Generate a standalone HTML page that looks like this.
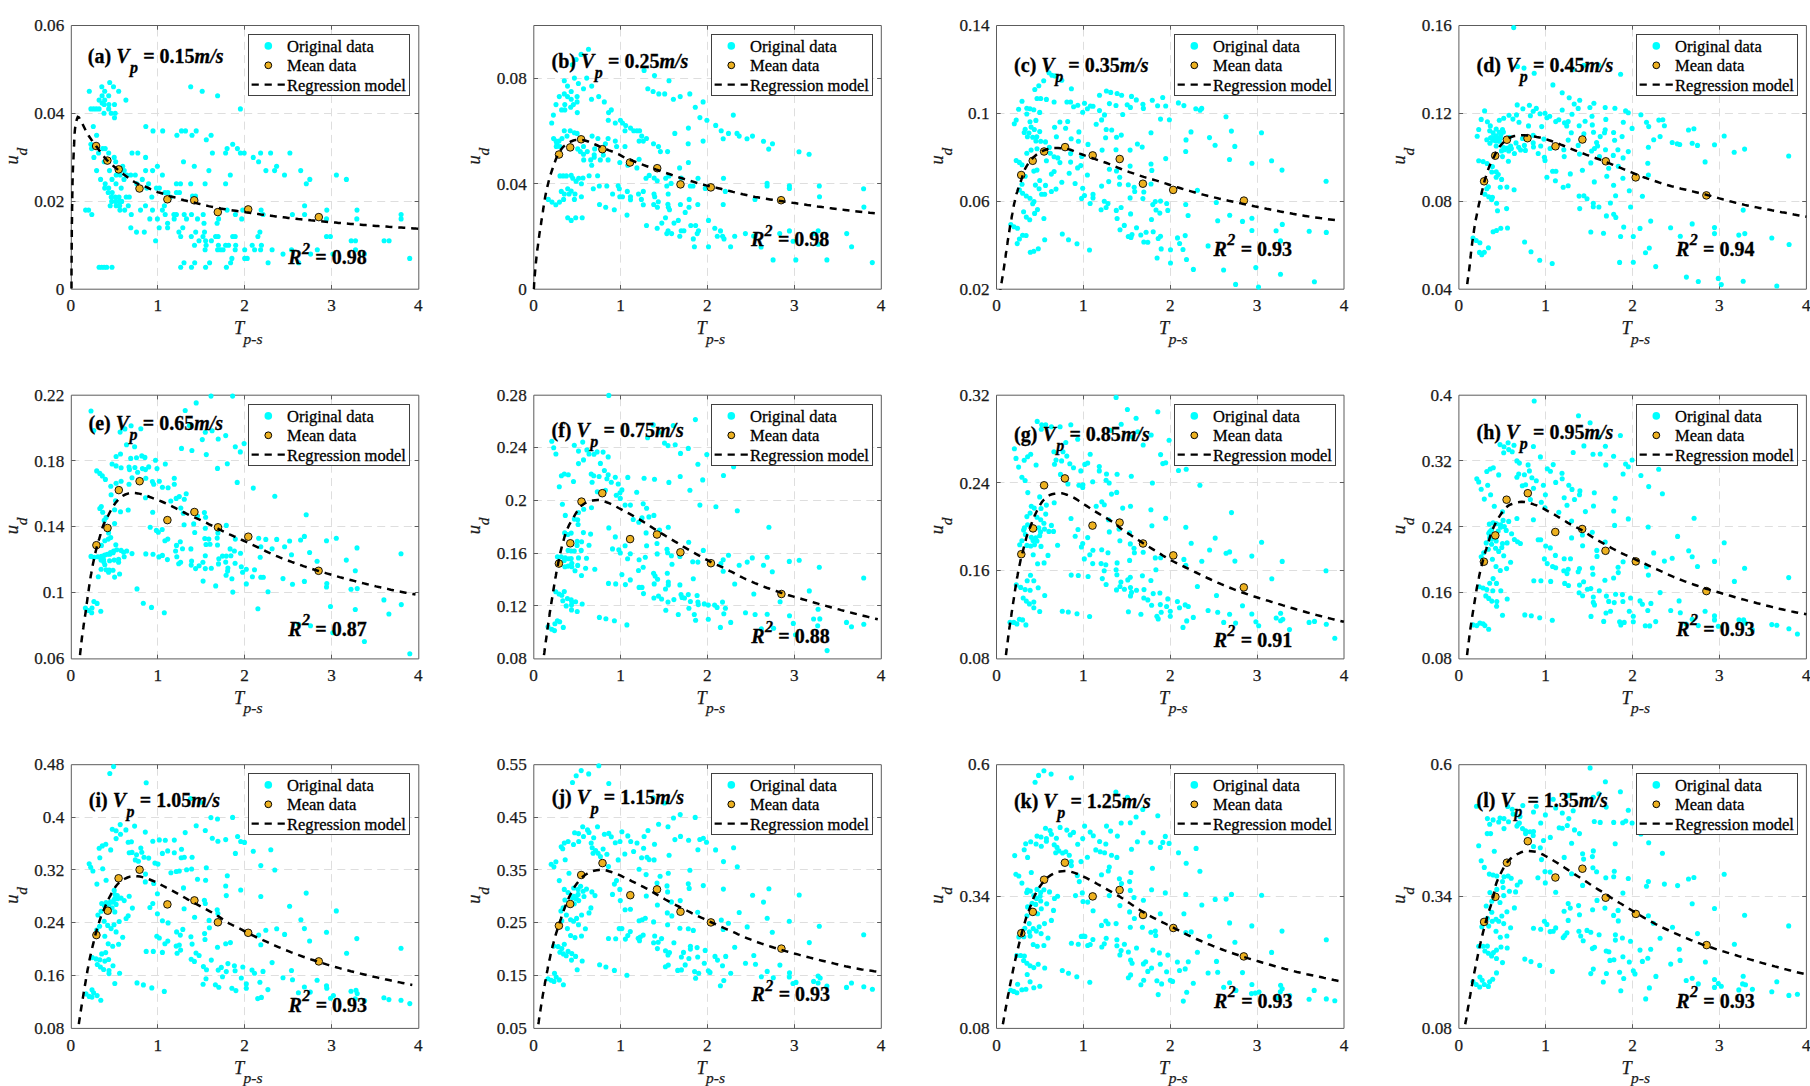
<!DOCTYPE html>
<html lang="en"><head><meta charset="utf-8"><title>Regression of u_d versus T_p-s</title>
<style>html,body{margin:0;padding:0;background:#fff}body{width:1810px;height:1086px;overflow:hidden}svg{display:block}text{font-family:"Liberation Serif","Times New Roman",serif;fill:#000;stroke:#000;stroke-width:.3px}.tk{font-size:17.2px;fill:#1a1a1a;stroke:#1a1a1a;stroke-width:.25px}.lb{font-size:18.3px;font-style:italic;fill:#1a1a1a;stroke:#1a1a1a;stroke-width:.25px}.sb{font-size:15.5px}.lg{font-size:16.55px}.tt{font-size:20px;font-weight:bold}.it{font-style:italic}.sm{font-size:16px}.ax{stroke:#5c5c5c;stroke-width:1;fill:none}.gr{stroke:#dedede;stroke-width:1;stroke-dasharray:8 5.3;fill:none}.od{fill:#0ff}.md{fill:#edb120;stroke:#000;stroke-width:.9}.rg{stroke:#000;stroke-width:2.5;fill:none;stroke-dasharray:7 5.9}</style></head><body>
<svg width="1810" height="1086" viewBox="0 0 1810 1086">
<rect width="1810" height="1086" fill="#fff"/>
<g id="panel-a">
<clipPath id="cpa"><rect x="68.3" y="22.5" width="353.5" height="269.7"/></clipPath>
<clipPath id="cqa"><rect x="69.8" y="24.0" width="350.5" height="265.8"/></clipPath>
<path class="gr" d="M157.5 289.2V25.5M244.5 289.2V25.5M331.5 289.2V25.5M71.3 201.5H418.8M71.3 113.5H418.8"/>
<path class="ax" d="M71.3 25.5H418.8V289.2H71.3ZM157.5 289.2v-4.2M157.5 25.5v4.2M244.5 289.2v-4.2M244.5 25.5v4.2M331.5 289.2v-4.2M331.5 25.5v4.2M71.3 201.5h4.2M418.8 201.5h-4.2M71.3 113.5h4.2M418.8 113.5h-4.2"/>
<g class="od" clip-path="url(#cpa)">
<circle cx="109.7" cy="82.5" r="2.55"/><circle cx="101.8" cy="86.8" r="2.55"/><circle cx="113.5" cy="86.8" r="2.55"/><circle cx="190.7" cy="86.8" r="2.55"/><circle cx="89.3" cy="91.3" r="2.55"/><circle cx="104.7" cy="91.3" r="2.55"/><circle cx="118.7" cy="91.3" r="2.55"/><circle cx="202.2" cy="91.3" r="2.55"/><circle cx="102.1" cy="95.7" r="2.55"/><circle cx="108.7" cy="95.7" r="2.55"/><circle cx="217.6" cy="95.7" r="2.55"/><circle cx="99.1" cy="100.1" r="2.55"/><circle cx="104.7" cy="100.1" r="2.55"/><circle cx="125.9" cy="100.1" r="2.55"/><circle cx="102.1" cy="103.1" r="2.55"/><circle cx="104.2" cy="104.5" r="2.55"/><circle cx="108.9" cy="104.5" r="2.55"/><circle cx="114.5" cy="104.5" r="2.55"/><circle cx="90.9" cy="108.9" r="2.55"/><circle cx="93.6" cy="108.9" r="2.55"/><circle cx="96.3" cy="108.9" r="2.55"/><circle cx="99.1" cy="108.9" r="2.55"/><circle cx="108.7" cy="108.9" r="2.55"/><circle cx="240.4" cy="108.9" r="2.55"/><circle cx="104.0" cy="113.3" r="2.55"/><circle cx="111.2" cy="113.3" r="2.55"/><circle cx="115.2" cy="113.3" r="2.55"/><circle cx="114.5" cy="117.8" r="2.55"/><circle cx="93.3" cy="126.5" r="2.55"/><circle cx="145.8" cy="126.5" r="2.55"/><circle cx="153.0" cy="130.9" r="2.55"/><circle cx="162.7" cy="130.9" r="2.55"/><circle cx="181.5" cy="130.9" r="2.55"/><circle cx="185.5" cy="130.9" r="2.55"/><circle cx="196.2" cy="130.9" r="2.55"/><circle cx="96.6" cy="135.3" r="2.55"/><circle cx="176.9" cy="135.3" r="2.55"/><circle cx="192.0" cy="135.3" r="2.55"/><circle cx="211.1" cy="135.3" r="2.55"/><circle cx="206.3" cy="139.7" r="2.55"/><circle cx="90.9" cy="144.2" r="2.55"/><circle cx="232.7" cy="144.2" r="2.55"/><circle cx="91.6" cy="148.6" r="2.55"/><circle cx="102.7" cy="148.6" r="2.55"/><circle cx="105.2" cy="148.6" r="2.55"/><circle cx="227.1" cy="148.6" r="2.55"/><circle cx="237.4" cy="148.6" r="2.55"/><circle cx="98.6" cy="153.0" r="2.55"/><circle cx="108.7" cy="153.0" r="2.55"/><circle cx="132.0" cy="153.0" r="2.55"/><circle cx="137.8" cy="153.0" r="2.55"/><circle cx="212.4" cy="153.0" r="2.55"/><circle cx="225.6" cy="153.0" r="2.55"/><circle cx="240.4" cy="153.0" r="2.55"/><circle cx="244.2" cy="153.0" r="2.55"/><circle cx="93.9" cy="157.4" r="2.55"/><circle cx="114.2" cy="157.4" r="2.55"/><circle cx="145.6" cy="157.4" r="2.55"/><circle cx="104.2" cy="161.8" r="2.55"/><circle cx="115.7" cy="161.8" r="2.55"/><circle cx="183.5" cy="161.8" r="2.55"/><circle cx="122.7" cy="166.2" r="2.55"/><circle cx="157.4" cy="166.2" r="2.55"/><circle cx="194.3" cy="166.2" r="2.55"/><circle cx="96.6" cy="170.6" r="2.55"/><circle cx="109.5" cy="170.6" r="2.55"/><circle cx="124.2" cy="170.6" r="2.55"/><circle cx="145.6" cy="170.6" r="2.55"/><circle cx="152.6" cy="170.6" r="2.55"/><circle cx="208.9" cy="170.6" r="2.55"/><circle cx="116.2" cy="175.0" r="2.55"/><circle cx="120.2" cy="175.0" r="2.55"/><circle cx="126.7" cy="175.0" r="2.55"/><circle cx="130.8" cy="175.0" r="2.55"/><circle cx="135.3" cy="175.0" r="2.55"/><circle cx="162.4" cy="175.0" r="2.55"/><circle cx="230.3" cy="175.0" r="2.55"/><circle cx="100.6" cy="179.4" r="2.55"/><circle cx="112.0" cy="179.4" r="2.55"/><circle cx="124.0" cy="179.4" r="2.55"/><circle cx="142.3" cy="179.4" r="2.55"/><circle cx="105.2" cy="183.8" r="2.55"/><circle cx="116.0" cy="183.8" r="2.55"/><circle cx="136.8" cy="183.8" r="2.55"/><circle cx="148.6" cy="183.8" r="2.55"/><circle cx="176.4" cy="183.8" r="2.55"/><circle cx="180.5" cy="183.8" r="2.55"/><circle cx="190.7" cy="183.8" r="2.55"/><circle cx="205.1" cy="183.8" r="2.55"/><circle cx="225.6" cy="183.8" r="2.55"/><circle cx="104.7" cy="188.1" r="2.55"/><circle cx="108.7" cy="188.1" r="2.55"/><circle cx="121.2" cy="188.1" r="2.55"/><circle cx="146.8" cy="188.1" r="2.55"/><circle cx="156.4" cy="188.1" r="2.55"/><circle cx="159.4" cy="188.1" r="2.55"/><circle cx="108.2" cy="192.5" r="2.55"/><circle cx="112.2" cy="192.5" r="2.55"/><circle cx="164.9" cy="192.5" r="2.55"/><circle cx="167.9" cy="192.5" r="2.55"/><circle cx="176.4" cy="192.5" r="2.55"/><circle cx="179.5" cy="192.5" r="2.55"/><circle cx="111.2" cy="197.0" r="2.55"/><circle cx="115.2" cy="197.0" r="2.55"/><circle cx="119.0" cy="197.0" r="2.55"/><circle cx="126.2" cy="197.0" r="2.55"/><circle cx="129.3" cy="197.0" r="2.55"/><circle cx="151.8" cy="197.0" r="2.55"/><circle cx="170.4" cy="197.0" r="2.55"/><circle cx="192.5" cy="196.1" r="2.55"/><circle cx="195.5" cy="196.1" r="2.55"/><circle cx="111.7" cy="201.4" r="2.55"/><circle cx="115.7" cy="201.4" r="2.55"/><circle cx="119.0" cy="201.4" r="2.55"/><circle cx="121.7" cy="201.4" r="2.55"/><circle cx="110.2" cy="205.7" r="2.55"/><circle cx="116.2" cy="205.7" r="2.55"/><circle cx="119.7" cy="205.7" r="2.55"/><circle cx="128.3" cy="205.7" r="2.55"/><circle cx="145.5" cy="205.7" r="2.55"/><circle cx="164.4" cy="205.7" r="2.55"/><circle cx="85.6" cy="210.1" r="2.55"/><circle cx="88.6" cy="210.1" r="2.55"/><circle cx="119.9" cy="210.1" r="2.55"/><circle cx="124.7" cy="210.1" r="2.55"/><circle cx="140.5" cy="210.1" r="2.55"/><circle cx="152.5" cy="210.1" r="2.55"/><circle cx="162.4" cy="210.1" r="2.55"/><circle cx="227.1" cy="210.1" r="2.55"/><circle cx="242.7" cy="210.1" r="2.55"/><circle cx="91.8" cy="214.5" r="2.55"/><circle cx="131.3" cy="214.5" r="2.55"/><circle cx="165.2" cy="214.5" r="2.55"/><circle cx="173.9" cy="214.5" r="2.55"/><circle cx="176.4" cy="214.5" r="2.55"/><circle cx="184.2" cy="214.5" r="2.55"/><circle cx="191.5" cy="214.5" r="2.55"/><circle cx="203.2" cy="214.5" r="2.55"/><circle cx="235.4" cy="214.5" r="2.55"/><circle cx="149.8" cy="218.9" r="2.55"/><circle cx="157.4" cy="218.9" r="2.55"/><circle cx="174.2" cy="218.9" r="2.55"/><circle cx="186.5" cy="218.9" r="2.55"/><circle cx="197.5" cy="218.9" r="2.55"/><circle cx="218.6" cy="218.9" r="2.55"/><circle cx="241.7" cy="218.9" r="2.55"/><circle cx="167.6" cy="223.3" r="2.55"/><circle cx="204.0" cy="223.3" r="2.55"/><circle cx="217.1" cy="223.3" r="2.55"/><circle cx="130.8" cy="227.7" r="2.55"/><circle cx="159.2" cy="227.7" r="2.55"/><circle cx="167.6" cy="227.7" r="2.55"/><circle cx="182.8" cy="227.7" r="2.55"/><circle cx="136.5" cy="232.1" r="2.55"/><circle cx="144.3" cy="232.1" r="2.55"/><circle cx="178.9" cy="232.1" r="2.55"/><circle cx="195.7" cy="232.1" r="2.55"/><circle cx="204.5" cy="232.1" r="2.55"/><circle cx="180.7" cy="236.5" r="2.55"/><circle cx="191.3" cy="236.5" r="2.55"/><circle cx="203.0" cy="236.5" r="2.55"/><circle cx="215.6" cy="236.5" r="2.55"/><circle cx="218.1" cy="236.5" r="2.55"/><circle cx="232.7" cy="236.5" r="2.55"/><circle cx="235.2" cy="236.5" r="2.55"/><circle cx="155.6" cy="240.8" r="2.55"/><circle cx="199.0" cy="240.8" r="2.55"/><circle cx="205.6" cy="240.8" r="2.55"/><circle cx="211.4" cy="240.8" r="2.55"/><circle cx="194.5" cy="245.3" r="2.55"/><circle cx="206.1" cy="245.3" r="2.55"/><circle cx="218.4" cy="245.3" r="2.55"/><circle cx="225.6" cy="245.3" r="2.55"/><circle cx="228.6" cy="245.3" r="2.55"/><circle cx="235.7" cy="245.3" r="2.55"/><circle cx="205.1" cy="249.7" r="2.55"/><circle cx="217.6" cy="249.7" r="2.55"/><circle cx="220.6" cy="249.7" r="2.55"/><circle cx="223.1" cy="249.7" r="2.55"/><circle cx="235.2" cy="249.7" r="2.55"/><circle cx="244.7" cy="249.7" r="2.55"/><circle cx="231.9" cy="258.4" r="2.55"/><circle cx="244.7" cy="258.4" r="2.55"/><circle cx="184.0" cy="262.8" r="2.55"/><circle cx="194.7" cy="262.8" r="2.55"/><circle cx="209.6" cy="262.8" r="2.55"/><circle cx="230.6" cy="262.8" r="2.55"/><circle cx="99.1" cy="267.2" r="2.55"/><circle cx="101.6" cy="267.2" r="2.55"/><circle cx="104.2" cy="267.2" r="2.55"/><circle cx="106.7" cy="267.2" r="2.55"/><circle cx="112.0" cy="267.2" r="2.55"/><circle cx="180.7" cy="267.2" r="2.55"/><circle cx="191.5" cy="267.2" r="2.55"/><circle cx="205.6" cy="267.2" r="2.55"/><circle cx="226.4" cy="267.2" r="2.55"/><circle cx="260.6" cy="153.0" r="2.55"/><circle cx="270.6" cy="153.0" r="2.55"/><circle cx="289.9" cy="153.0" r="2.55"/><circle cx="253.3" cy="157.4" r="2.55"/><circle cx="258.6" cy="161.8" r="2.55"/><circle cx="276.6" cy="166.2" r="2.55"/><circle cx="265.9" cy="170.6" r="2.55"/><circle cx="274.6" cy="170.6" r="2.55"/><circle cx="300.7" cy="170.6" r="2.55"/><circle cx="284.5" cy="175.0" r="2.55"/><circle cx="336.4" cy="175.0" r="2.55"/><circle cx="309.8" cy="179.4" r="2.55"/><circle cx="346.4" cy="179.4" r="2.55"/><circle cx="306.3" cy="183.8" r="2.55"/><circle cx="304.6" cy="205.7" r="2.55"/><circle cx="261.1" cy="210.1" r="2.55"/><circle cx="326.8" cy="210.1" r="2.55"/><circle cx="357.0" cy="210.1" r="2.55"/><circle cx="263.1" cy="214.5" r="2.55"/><circle cx="292.4" cy="214.5" r="2.55"/><circle cx="304.6" cy="214.5" r="2.55"/><circle cx="401.1" cy="214.5" r="2.55"/><circle cx="326.5" cy="218.9" r="2.55"/><circle cx="356.8" cy="218.9" r="2.55"/><circle cx="401.1" cy="218.9" r="2.55"/><circle cx="259.9" cy="232.1" r="2.55"/><circle cx="257.9" cy="236.5" r="2.55"/><circle cx="326.5" cy="236.5" r="2.55"/><circle cx="330.4" cy="236.5" r="2.55"/><circle cx="351.2" cy="240.8" r="2.55"/><circle cx="355.5" cy="240.8" r="2.55"/><circle cx="384.1" cy="240.8" r="2.55"/><circle cx="389.1" cy="240.8" r="2.55"/><circle cx="252.2" cy="245.3" r="2.55"/><circle cx="261.4" cy="245.3" r="2.55"/><circle cx="254.6" cy="249.7" r="2.55"/><circle cx="260.6" cy="249.7" r="2.55"/><circle cx="272.1" cy="249.7" r="2.55"/><circle cx="291.5" cy="249.7" r="2.55"/><circle cx="317.3" cy="249.7" r="2.55"/><circle cx="355.5" cy="249.7" r="2.55"/><circle cx="283.0" cy="254.1" r="2.55"/><circle cx="310.6" cy="254.1" r="2.55"/><circle cx="332.9" cy="254.1" r="2.55"/><circle cx="364.5" cy="254.1" r="2.55"/><circle cx="247.2" cy="258.4" r="2.55"/><circle cx="409.7" cy="258.4" r="2.55"/><circle cx="268.1" cy="262.8" r="2.55"/><circle cx="298.7" cy="262.8" r="2.55"/>
</g>
<g class="md"><circle cx="96.1" cy="146.0" r="3.8"/><circle cx="107.4" cy="160.6" r="3.8"/><circle cx="118.7" cy="169.4" r="3.8"/><circle cx="139.5" cy="188.5" r="3.8"/><circle cx="167.4" cy="199.3" r="3.8"/><circle cx="194.2" cy="200.3" r="3.8"/><circle cx="217.8" cy="212.1" r="3.8"/><circle cx="248.2" cy="209.4" r="3.8"/><circle cx="318.8" cy="217.1" r="3.8"/></g>
<path class="rg" clip-path="url(#cqa)" d="M71.5 288.5 71.5 286.0 71.5 283.5 71.5 280.9 71.5 278.4 71.5 275.9 71.5 273.4 71.5 270.9 71.5 268.3 71.6 265.8 71.6 263.3 71.6 260.8 71.6 258.3 71.6 255.7 71.6 253.2 71.7 250.7 71.7 248.2 71.7 245.7 71.7 243.1 71.7 240.6 71.8 238.1 71.8 235.6 71.8 233.1 71.8 230.5 71.9 228.0 71.9 225.5 71.9 223.0 72.0 220.5 72.0 217.9 72.0 215.4 72.1 212.9 72.1 210.4 72.1 207.9 72.2 205.3 72.2 202.8 72.3 200.3 72.3 197.8 72.3 195.3 72.4 192.7 72.4 190.2 72.5 187.7 72.5 185.2 72.5 182.7 72.6 180.2 72.7 177.6 72.8 175.1 72.8 172.6 72.9 170.1 73.0 167.6 73.1 165.0 73.2 162.5 73.4 160.0 73.5 157.5 73.6 155.0 73.7 152.5 73.8 149.9 73.9 147.4 74.1 144.9 74.2 142.4 74.3 139.9 74.4 137.3 74.5 134.8 74.7 132.3 74.9 129.8 75.2 127.3 75.6 124.8 76.1 122.3 76.9 119.2 77.8 117.0 79.0 117.5 80.5 120.2 81.8 122.4 82.9 124.7 84.0 127.0 85.1 129.3 86.2 131.5 87.4 133.7 88.7 135.8 90.2 137.9 91.6 140.0 93.1 142.0 94.6 144.0 96.1 146.1 97.6 148.1 99.1 150.2 100.6 152.2 102.1 154.3 103.7 156.2 105.2 158.2 106.9 160.1 108.6 161.8 110.5 163.6 112.4 165.2 114.3 166.8 116.3 168.4 118.2 170.0 120.2 171.6 122.2 173.2 124.2 174.7 126.2 176.2 128.2 177.7 130.2 179.3 132.3 180.7 134.4 182.0 136.6 183.2 138.9 184.3 141.2 185.3 143.7 186.1 146.0 186.9 148.3 188.0 150.6 189.1 152.9 190.1 155.2 191.2 157.5 192.1 159.9 192.8 162.4 193.5 164.7 194.2 167.1 195.2 169.4 196.1 171.9 196.7 174.3 197.3 176.8 197.9 179.2 198.7 181.5 199.5 184.0 200.2 186.4 200.8 188.9 201.4 191.3 201.9 193.8 202.5 196.2 203.1 198.7 203.7 201.1 204.3 203.6 204.9 206.0 205.5 208.5 206.1 210.9 206.6 213.4 207.1 215.9 207.6 218.4 208.0 220.8 208.5 223.3 208.9 225.8 209.3 228.3 209.7 230.8 210.1 233.3 210.4 235.8 210.8 238.3 211.2 240.8 211.5 243.3 211.9 245.8 212.3 248.3 212.6 250.7 213.0 253.2 213.3 255.7 213.7 258.2 214.0 260.7 214.4 263.2 214.7 265.7 215.1 268.2 215.4 270.7 215.7 273.2 216.1 275.7 216.4 278.2 216.7 280.7 217.0 283.2 217.3 285.7 217.6 288.2 217.9 290.7 218.2 293.2 218.4 295.7 218.7 298.2 219.0 300.7 219.2 303.3 219.5 305.8 219.8 308.3 220.0 310.8 220.3 313.3 220.5 315.8 220.8 318.3 221.0 320.8 221.3 323.3 221.5 325.8 221.7 328.3 222.0 330.8 222.2 333.4 222.4 335.9 222.6 338.4 222.9 340.9 223.1 343.4 223.3 345.9 223.5 348.4 223.7 350.9 223.9 353.4 224.1 356.0 224.3 358.5 224.5 361.0 224.7 363.5 224.9 366.0 225.1 368.5 225.3 371.0 225.5 373.5 225.7 376.1 225.9 378.6 226.1 381.1 226.2 383.6 226.4 386.1 226.6 388.6 226.8 391.1 226.9 393.7 227.1 396.2 227.3 398.7 227.4 401.2 227.6 403.7 227.8 406.2 227.9 408.7 228.1 411.3 228.2 413.8 228.4 416.3 228.6 418.8 228.7"/>
<text class="tk" x="70.9" y="311.4" text-anchor="middle">0</text>
<text class="tk" x="157.8" y="311.4" text-anchor="middle">1</text>
<text class="tk" x="244.6" y="311.4" text-anchor="middle">2</text>
<text class="tk" x="331.5" y="311.4" text-anchor="middle">3</text>
<text class="tk" x="418.4" y="311.4" text-anchor="middle">4</text>
<text class="tk" x="64.3" y="295.0" text-anchor="end">0</text>
<text class="tk" x="64.3" y="207.1" text-anchor="end">0.02</text>
<text class="tk" x="64.3" y="119.2" text-anchor="end">0.04</text>
<text class="tk" x="64.3" y="31.3" text-anchor="end">0.06</text>
<text class="lb" x="233.9" y="334.4">T<tspan class="sb" dx="-0.6" dy="9.3">p-s</tspan></text>
<text class="lb" transform="translate(17.5 164.6) rotate(-90)">u<tspan class="sb" dx="0" dy="9.3">d</tspan></text>
<text class="tt" x="87.8" y="63.4">(a) <tspan class="it">V</tspan><tspan class="it sm" dx="0.5" dy="9.8">p</tspan><tspan dx="0.2" dy="-9.8"> = 0.15</tspan><tspan class="it">m/s</tspan></text>
<text class="tt" x="288.3" y="264.0"><tspan class="it">R</tspan><tspan class="it sm" dx="0.3" dy="-10.3">2</tspan><tspan dx="0.4" dy="10.3"> = 0.98</tspan></text>
<rect x="248.5" y="34.5" width="161" height="61" fill="#fff" stroke="#404040" stroke-width="1"/>
<circle cx="268.3" cy="45.9" r="3.8" fill="#0ff"/>
<circle cx="268.3" cy="65.3" r="3.4" fill="#edb120" stroke="#000" stroke-width="1"/>
<path d="M251.6 84.6h33.4" stroke="#000" stroke-width="2.3" stroke-dasharray="7.2 5.8" fill="none"/>
<text class="lg" x="287.0" y="51.5">Original data</text>
<text class="lg" x="287.0" y="71.1">Mean data</text>
<text class="lg" x="287.0" y="90.5">Regression model</text>
</g>
<g id="panel-b">
<clipPath id="cpb"><rect x="530.8" y="22.5" width="353.5" height="269.7"/></clipPath>
<clipPath id="cqb"><rect x="532.3" y="24.0" width="350.5" height="265.8"/></clipPath>
<path class="gr" d="M620.5 289.2V25.5M707.5 289.2V25.5M794.5 289.2V25.5M533.8 183.5H881.3M533.8 78.5H881.3"/>
<path class="ax" d="M533.8 25.5H881.3V289.2H533.8ZM620.5 289.2v-4.2M620.5 25.5v4.2M707.5 289.2v-4.2M707.5 25.5v4.2M794.5 289.2v-4.2M794.5 25.5v4.2M533.8 183.5h4.2M881.3 183.5h-4.2M533.8 78.5h4.2M881.3 78.5h-4.2"/>
<g class="od" clip-path="url(#cpb)">
<circle cx="588.5" cy="49.3" r="2.55"/><circle cx="581.1" cy="54.4" r="2.55"/><circle cx="576.1" cy="59.5" r="2.55"/><circle cx="572.3" cy="64.8" r="2.55"/><circle cx="644.1" cy="70.4" r="2.55"/><circle cx="654.5" cy="75.6" r="2.55"/><circle cx="574.4" cy="78.1" r="2.55"/><circle cx="586.7" cy="78.1" r="2.55"/><circle cx="564.3" cy="80.8" r="2.55"/><circle cx="669.0" cy="80.8" r="2.55"/><circle cx="578.4" cy="83.5" r="2.55"/><circle cx="567.5" cy="86.1" r="2.55"/><circle cx="591.7" cy="86.1" r="2.55"/><circle cx="583.5" cy="88.8" r="2.55"/><circle cx="647.8" cy="88.8" r="2.55"/><circle cx="571.2" cy="91.5" r="2.55"/><circle cx="653.1" cy="91.5" r="2.55"/><circle cx="564.3" cy="93.9" r="2.55"/><circle cx="658.8" cy="93.9" r="2.55"/><circle cx="664.7" cy="93.9" r="2.55"/><circle cx="689.8" cy="93.9" r="2.55"/><circle cx="559.3" cy="96.6" r="2.55"/><circle cx="567.5" cy="96.6" r="2.55"/><circle cx="577.1" cy="96.6" r="2.55"/><circle cx="598.7" cy="96.6" r="2.55"/><circle cx="680.2" cy="96.6" r="2.55"/><circle cx="571.2" cy="99.3" r="2.55"/><circle cx="591.5" cy="99.3" r="2.55"/><circle cx="673.4" cy="99.3" r="2.55"/><circle cx="577.1" cy="101.9" r="2.55"/><circle cx="604.3" cy="101.9" r="2.55"/><circle cx="703.1" cy="101.9" r="2.55"/><circle cx="556.0" cy="104.6" r="2.55"/><circle cx="564.8" cy="104.6" r="2.55"/><circle cx="573.4" cy="104.6" r="2.55"/><circle cx="570.7" cy="107.3" r="2.55"/><circle cx="695.3" cy="107.3" r="2.55"/><circle cx="561.6" cy="109.9" r="2.55"/><circle cx="564.8" cy="109.9" r="2.55"/><circle cx="611.3" cy="109.9" r="2.55"/><circle cx="577.3" cy="112.6" r="2.55"/><circle cx="608.6" cy="112.6" r="2.55"/><circle cx="553.4" cy="115.1" r="2.55"/><circle cx="699.9" cy="117.6" r="2.55"/><circle cx="608.3" cy="120.3" r="2.55"/><circle cx="620.4" cy="120.3" r="2.55"/><circle cx="706.9" cy="120.3" r="2.55"/><circle cx="551.7" cy="123.0" r="2.55"/><circle cx="615.3" cy="123.0" r="2.55"/><circle cx="622.5" cy="123.0" r="2.55"/><circle cx="625.7" cy="125.6" r="2.55"/><circle cx="630.5" cy="128.1" r="2.55"/><circle cx="688.4" cy="128.1" r="2.55"/><circle cx="564.3" cy="130.8" r="2.55"/><circle cx="570.2" cy="130.8" r="2.55"/><circle cx="625.0" cy="130.8" r="2.55"/><circle cx="633.7" cy="130.8" r="2.55"/><circle cx="636.9" cy="130.8" r="2.55"/><circle cx="639.6" cy="130.8" r="2.55"/><circle cx="574.4" cy="132.7" r="2.55"/><circle cx="577.1" cy="133.4" r="2.55"/><circle cx="674.8" cy="133.4" r="2.55"/><circle cx="567.0" cy="136.1" r="2.55"/><circle cx="592.1" cy="136.1" r="2.55"/><circle cx="641.7" cy="136.1" r="2.55"/><circle cx="553.6" cy="138.5" r="2.55"/><circle cx="562.0" cy="138.5" r="2.55"/><circle cx="597.9" cy="138.5" r="2.55"/><circle cx="608.1" cy="138.5" r="2.55"/><circle cx="646.5" cy="138.5" r="2.55"/><circle cx="556.0" cy="141.1" r="2.55"/><circle cx="559.0" cy="141.1" r="2.55"/><circle cx="615.3" cy="141.1" r="2.55"/><circle cx="639.1" cy="141.1" r="2.55"/><circle cx="643.3" cy="141.1" r="2.55"/><circle cx="703.1" cy="141.1" r="2.55"/><circle cx="556.8" cy="143.8" r="2.55"/><circle cx="605.4" cy="143.8" r="2.55"/><circle cx="653.5" cy="143.8" r="2.55"/><circle cx="688.2" cy="143.8" r="2.55"/><circle cx="556.3" cy="146.5" r="2.55"/><circle cx="560.0" cy="146.5" r="2.55"/><circle cx="583.5" cy="146.5" r="2.55"/><circle cx="616.6" cy="146.5" r="2.55"/><circle cx="625.0" cy="146.5" r="2.55"/><circle cx="658.5" cy="146.5" r="2.55"/><circle cx="577.7" cy="148.9" r="2.55"/><circle cx="594.7" cy="148.9" r="2.55"/><circle cx="587.3" cy="151.6" r="2.55"/><circle cx="580.3" cy="151.6" r="2.55"/><circle cx="660.4" cy="151.6" r="2.55"/><circle cx="667.6" cy="151.6" r="2.55"/><circle cx="583.5" cy="154.3" r="2.55"/><circle cx="594.2" cy="154.8" r="2.55"/><circle cx="733.3" cy="115.1" r="2.55"/><circle cx="715.7" cy="125.4" r="2.55"/><circle cx="721.2" cy="130.8" r="2.55"/><circle cx="728.5" cy="133.4" r="2.55"/><circle cx="737.0" cy="133.4" r="2.55"/><circle cx="739.2" cy="136.1" r="2.55"/><circle cx="723.2" cy="138.8" r="2.55"/><circle cx="747.0" cy="138.8" r="2.55"/><circle cx="752.5" cy="136.1" r="2.55"/><circle cx="763.5" cy="141.2" r="2.55"/><circle cx="772.5" cy="143.8" r="2.55"/><circle cx="768.7" cy="149.1" r="2.55"/><circle cx="799.0" cy="151.8" r="2.55"/><circle cx="809.1" cy="154.3" r="2.55"/><circle cx="594.2" cy="157.2" r="2.55"/><circle cx="603.3" cy="155.1" r="2.55"/><circle cx="583.7" cy="159.9" r="2.55"/><circle cx="590.7" cy="159.9" r="2.55"/><circle cx="600.3" cy="159.9" r="2.55"/><circle cx="608.1" cy="159.9" r="2.55"/><circle cx="639.1" cy="159.3" r="2.55"/><circle cx="619.8" cy="162.5" r="2.55"/><circle cx="688.4" cy="162.5" r="2.55"/><circle cx="591.7" cy="165.2" r="2.55"/><circle cx="627.8" cy="165.2" r="2.55"/><circle cx="636.9" cy="167.9" r="2.55"/><circle cx="679.6" cy="167.9" r="2.55"/><circle cx="560.0" cy="175.9" r="2.55"/><circle cx="563.2" cy="175.9" r="2.55"/><circle cx="566.4" cy="175.9" r="2.55"/><circle cx="571.2" cy="175.4" r="2.55"/><circle cx="589.1" cy="175.7" r="2.55"/><circle cx="597.6" cy="175.7" r="2.55"/><circle cx="649.2" cy="175.4" r="2.55"/><circle cx="572.8" cy="178.3" r="2.55"/><circle cx="578.7" cy="178.3" r="2.55"/><circle cx="583.0" cy="178.0" r="2.55"/><circle cx="646.0" cy="178.3" r="2.55"/><circle cx="654.2" cy="178.0" r="2.55"/><circle cx="665.7" cy="178.3" r="2.55"/><circle cx="669.0" cy="175.9" r="2.55"/><circle cx="698.0" cy="178.3" r="2.55"/><circle cx="681.2" cy="178.0" r="2.55"/><circle cx="576.1" cy="181.2" r="2.55"/><circle cx="657.2" cy="180.7" r="2.55"/><circle cx="581.4" cy="183.7" r="2.55"/><circle cx="671.1" cy="183.4" r="2.55"/><circle cx="599.3" cy="186.0" r="2.55"/><circle cx="606.8" cy="186.0" r="2.55"/><circle cx="618.2" cy="185.8" r="2.55"/><circle cx="666.8" cy="186.0" r="2.55"/><circle cx="690.3" cy="186.0" r="2.55"/><circle cx="693.0" cy="186.0" r="2.55"/><circle cx="567.7" cy="188.7" r="2.55"/><circle cx="593.3" cy="188.7" r="2.55"/><circle cx="619.3" cy="188.7" r="2.55"/><circle cx="705.3" cy="188.4" r="2.55"/><circle cx="561.3" cy="191.4" r="2.55"/><circle cx="571.2" cy="191.1" r="2.55"/><circle cx="627.3" cy="191.4" r="2.55"/><circle cx="643.3" cy="191.4" r="2.55"/><circle cx="564.3" cy="194.0" r="2.55"/><circle cx="569.1" cy="194.0" r="2.55"/><circle cx="575.0" cy="194.0" r="2.55"/><circle cx="612.6" cy="194.0" r="2.55"/><circle cx="638.5" cy="194.0" r="2.55"/><circle cx="654.0" cy="194.0" r="2.55"/><circle cx="668.2" cy="194.0" r="2.55"/><circle cx="581.4" cy="196.7" r="2.55"/><circle cx="619.8" cy="196.7" r="2.55"/><circle cx="622.5" cy="196.7" r="2.55"/><circle cx="630.5" cy="196.7" r="2.55"/><circle cx="654.7" cy="196.7" r="2.55"/><circle cx="548.3" cy="199.4" r="2.55"/><circle cx="563.6" cy="199.4" r="2.55"/><circle cx="574.4" cy="199.4" r="2.55"/><circle cx="630.5" cy="199.7" r="2.55"/><circle cx="641.4" cy="199.4" r="2.55"/><circle cx="689.2" cy="199.4" r="2.55"/><circle cx="552.0" cy="202.1" r="2.55"/><circle cx="559.5" cy="202.1" r="2.55"/><circle cx="658.3" cy="201.8" r="2.55"/><circle cx="555.8" cy="204.7" r="2.55"/><circle cx="599.5" cy="204.5" r="2.55"/><circle cx="643.3" cy="204.7" r="2.55"/><circle cx="653.7" cy="204.5" r="2.55"/><circle cx="667.9" cy="204.2" r="2.55"/><circle cx="680.4" cy="204.5" r="2.55"/><circle cx="697.8" cy="204.5" r="2.55"/><circle cx="605.7" cy="207.2" r="2.55"/><circle cx="657.4" cy="207.2" r="2.55"/><circle cx="668.4" cy="207.2" r="2.55"/><circle cx="689.0" cy="207.2" r="2.55"/><circle cx="614.3" cy="209.7" r="2.55"/><circle cx="669.5" cy="209.7" r="2.55"/><circle cx="685.2" cy="212.4" r="2.55"/><circle cx="627.0" cy="215.1" r="2.55"/><circle cx="567.7" cy="217.7" r="2.55"/><circle cx="575.7" cy="217.7" r="2.55"/><circle cx="582.2" cy="217.7" r="2.55"/><circle cx="665.5" cy="217.7" r="2.55"/><circle cx="571.2" cy="220.4" r="2.55"/><circle cx="678.3" cy="220.4" r="2.55"/><circle cx="708.5" cy="220.4" r="2.55"/><circle cx="661.8" cy="223.1" r="2.55"/><circle cx="674.0" cy="223.1" r="2.55"/><circle cx="646.5" cy="225.5" r="2.55"/><circle cx="690.8" cy="225.5" r="2.55"/><circle cx="695.6" cy="225.5" r="2.55"/><circle cx="657.2" cy="228.2" r="2.55"/><circle cx="668.1" cy="230.7" r="2.55"/><circle cx="681.2" cy="230.7" r="2.55"/><circle cx="683.9" cy="230.7" r="2.55"/><circle cx="698.5" cy="230.7" r="2.55"/><circle cx="666.8" cy="233.6" r="2.55"/><circle cx="671.6" cy="233.6" r="2.55"/><circle cx="697.2" cy="233.6" r="2.55"/><circle cx="679.8" cy="236.2" r="2.55"/><circle cx="693.3" cy="238.9" r="2.55"/><circle cx="694.4" cy="246.7" r="2.55"/><circle cx="708.5" cy="246.7" r="2.55"/><circle cx="723.5" cy="178.3" r="2.55"/><circle cx="767.1" cy="183.4" r="2.55"/><circle cx="767.1" cy="186.0" r="2.55"/><circle cx="789.4" cy="185.8" r="2.55"/><circle cx="789.4" cy="188.4" r="2.55"/><circle cx="819.3" cy="186.0" r="2.55"/><circle cx="863.6" cy="188.7" r="2.55"/><circle cx="725.3" cy="191.4" r="2.55"/><circle cx="819.5" cy="196.7" r="2.55"/><circle cx="755.0" cy="199.4" r="2.55"/><circle cx="723.2" cy="204.5" r="2.55"/><circle cx="863.9" cy="207.1" r="2.55"/><circle cx="714.8" cy="228.2" r="2.55"/><circle cx="720.5" cy="230.9" r="2.55"/><circle cx="789.4" cy="230.9" r="2.55"/><circle cx="818.2" cy="230.7" r="2.55"/><circle cx="717.3" cy="236.2" r="2.55"/><circle cx="722.6" cy="236.2" r="2.55"/><circle cx="734.7" cy="236.2" r="2.55"/><circle cx="745.4" cy="233.6" r="2.55"/><circle cx="753.6" cy="236.0" r="2.55"/><circle cx="779.7" cy="233.6" r="2.55"/><circle cx="813.9" cy="233.6" r="2.55"/><circle cx="846.7" cy="233.6" r="2.55"/><circle cx="724.0" cy="238.9" r="2.55"/><circle cx="793.1" cy="241.3" r="2.55"/><circle cx="730.6" cy="246.7" r="2.55"/><circle cx="761.1" cy="246.9" r="2.55"/><circle cx="818.2" cy="244.2" r="2.55"/><circle cx="851.6" cy="246.7" r="2.55"/><circle cx="773.1" cy="259.9" r="2.55"/><circle cx="795.8" cy="259.9" r="2.55"/><circle cx="826.9" cy="259.9" r="2.55"/><circle cx="872.3" cy="262.6" r="2.55"/>
</g>
<g class="md"><circle cx="559.0" cy="154.5" r="3.8"/><circle cx="570.2" cy="147.4" r="3.8"/><circle cx="581.1" cy="139.3" r="3.8"/><circle cx="602.4" cy="149.2" r="3.8"/><circle cx="630.0" cy="162.5" r="3.8"/><circle cx="657.2" cy="168.2" r="3.8"/><circle cx="680.5" cy="184.4" r="3.8"/><circle cx="710.8" cy="187.4" r="3.8"/><circle cx="781.1" cy="200.2" r="3.8"/></g>
<path class="rg" clip-path="url(#cqb)" d="M533.8 289.2 534.0 286.7 534.1 284.2 534.3 281.7 534.5 279.1 534.7 276.6 534.9 274.1 535.1 271.6 535.3 269.1 535.5 266.6 535.8 264.1 536.0 261.6 536.3 259.1 536.5 256.6 536.8 254.1 537.1 251.6 537.4 249.1 537.8 246.6 538.1 244.1 538.4 241.6 538.7 239.1 539.1 236.6 539.4 234.1 539.8 231.6 540.2 229.1 540.6 226.6 541.0 224.2 541.3 221.7 541.7 219.2 542.1 216.7 542.5 214.2 542.9 211.7 543.2 209.2 543.6 206.7 544.0 204.2 544.4 201.7 544.8 199.3 545.2 196.8 545.7 194.3 546.2 191.8 546.7 189.4 547.3 186.9 547.9 184.5 548.5 182.0 549.1 179.6 549.8 177.2 550.5 174.8 551.3 172.4 552.1 170.0 552.9 167.6 553.8 165.2 554.6 162.8 555.4 160.5 556.4 158.1 557.4 155.9 558.6 153.6 559.9 151.3 561.3 149.2 562.8 147.3 564.6 145.6 566.6 144.0 568.8 142.6 571.0 141.5 573.4 140.5 575.8 139.9 578.3 139.8 580.9 140.0 583.4 140.2 585.8 140.7 588.2 141.5 590.5 142.5 592.9 143.5 595.2 144.5 597.5 145.5 599.8 146.6 602.1 147.6 604.4 148.6 606.7 149.5 609.1 150.4 611.5 151.2 613.8 152.2 616.1 153.1 618.4 154.1 620.6 155.3 622.8 156.6 625.1 157.7 627.4 158.7 629.7 159.7 632.1 160.6 634.4 161.5 636.8 162.4 639.1 163.3 641.5 164.2 643.8 165.1 646.2 166.0 648.6 166.8 650.9 167.7 653.3 168.5 655.7 169.4 658.1 170.2 660.4 171.0 662.8 171.8 665.2 172.7 667.6 173.5 670.0 174.3 672.4 175.1 674.7 175.9 677.1 176.7 679.5 177.5 681.9 178.2 684.3 179.0 686.7 179.7 689.1 180.5 691.5 181.2 693.9 181.9 696.4 182.7 698.8 183.4 701.2 184.1 703.6 184.7 706.1 185.4 708.5 186.0 711.0 186.6 713.4 187.1 715.9 187.6 718.3 188.2 720.8 188.8 723.2 189.4 725.7 190.0 728.1 190.6 730.6 191.2 733.0 191.9 735.4 192.5 737.9 193.1 740.3 193.7 742.8 194.3 745.2 194.8 747.7 195.4 750.1 195.9 752.6 196.4 755.1 196.9 757.6 197.3 760.0 197.8 762.5 198.2 765.0 198.6 767.5 199.0 770.0 199.4 772.4 199.8 774.9 200.2 777.4 200.6 779.9 200.9 782.4 201.3 784.9 201.7 787.4 202.0 789.9 202.4 792.4 202.8 794.9 203.1 797.4 203.5 799.9 203.9 802.4 204.2 804.8 204.6 807.3 205.0 809.8 205.3 812.3 205.7 814.8 206.0 817.3 206.4 819.8 206.7 822.3 207.1 824.8 207.4 827.3 207.7 829.8 208.1 832.3 208.4 834.8 208.7 837.3 209.0 839.8 209.3 842.3 209.6 844.8 209.9 847.3 210.2 849.8 210.5 852.3 210.8 854.8 211.1 857.3 211.4 859.8 211.7 862.3 212.0 864.8 212.2 867.3 212.5 869.8 212.8 872.3 213.0 874.8 213.3"/>
<text class="tk" x="533.6" y="311.4" text-anchor="middle">0</text>
<text class="tk" x="620.5" y="311.4" text-anchor="middle">1</text>
<text class="tk" x="707.3" y="311.4" text-anchor="middle">2</text>
<text class="tk" x="794.2" y="311.4" text-anchor="middle">3</text>
<text class="tk" x="881.1" y="311.4" text-anchor="middle">4</text>
<text class="tk" x="526.8" y="295.0" text-anchor="end">0</text>
<text class="tk" x="526.8" y="189.5" text-anchor="end">0.04</text>
<text class="tk" x="526.8" y="84.0" text-anchor="end">0.08</text>
<text class="lb" x="696.4" y="334.4">T<tspan class="sb" dx="-0.6" dy="9.3">p-s</tspan></text>
<text class="lb" transform="translate(480.0 164.6) rotate(-90)">u<tspan class="sb" dx="0" dy="9.3">d</tspan></text>
<text class="tt" x="551.5" y="67.8">(b) <tspan class="it">V</tspan><tspan class="it sm" dx="0.5" dy="9.8">p</tspan><tspan dx="0.2" dy="-9.8"> = 0.25</tspan><tspan class="it">m/s</tspan></text>
<text class="tt" x="750.9" y="246.4"><tspan class="it">R</tspan><tspan class="it sm" dx="0.3" dy="-10.3">2</tspan><tspan dx="0.4" dy="10.3"> = 0.98</tspan></text>
<rect x="711.5" y="34.5" width="161" height="61" fill="#fff" stroke="#404040" stroke-width="1"/>
<circle cx="731.3" cy="45.9" r="3.8" fill="#0ff"/>
<circle cx="731.3" cy="65.3" r="3.4" fill="#edb120" stroke="#000" stroke-width="1"/>
<path d="M714.6 84.6h33.4" stroke="#000" stroke-width="2.3" stroke-dasharray="7.2 5.8" fill="none"/>
<text class="lg" x="750.0" y="51.5">Original data</text>
<text class="lg" x="750.0" y="71.1">Mean data</text>
<text class="lg" x="750.0" y="90.5">Regression model</text>
</g>
<g id="panel-c">
<clipPath id="cpc"><rect x="993.5" y="22.5" width="353.5" height="269.7"/></clipPath>
<clipPath id="cqc"><rect x="995.0" y="24.0" width="350.5" height="265.8"/></clipPath>
<path class="gr" d="M1083.5 289.2V25.5M1170.5 289.2V25.5M1257.5 289.2V25.5M996.5 201.5H1344.0M996.5 113.5H1344.0"/>
<path class="ax" d="M996.5 25.5H1344.0V289.2H996.5ZM1083.5 289.2v-4.2M1083.5 25.5v4.2M1170.5 289.2v-4.2M1170.5 25.5v4.2M1257.5 289.2v-4.2M1257.5 25.5v4.2M996.5 201.5h4.2M1344.0 201.5h-4.2M996.5 113.5h4.2M1344.0 113.5h-4.2"/>
<g class="od" clip-path="url(#cpc)">
<circle cx="1049.0" cy="72.7" r="2.55"/><circle cx="1051.9" cy="75.3" r="2.55"/><circle cx="1055.1" cy="75.9" r="2.55"/><circle cx="1061.8" cy="80.2" r="2.55"/><circle cx="1043.7" cy="80.7" r="2.55"/><circle cx="1038.8" cy="85.7" r="2.55"/><circle cx="1034.8" cy="89.5" r="2.55"/><circle cx="1071.4" cy="88.7" r="2.55"/><circle cx="1106.4" cy="91.0" r="2.55"/><circle cx="1110.7" cy="92.4" r="2.55"/><circle cx="1117.1" cy="93.5" r="2.55"/><circle cx="1121.6" cy="95.3" r="2.55"/><circle cx="1099.5" cy="95.3" r="2.55"/><circle cx="1131.5" cy="96.4" r="2.55"/><circle cx="1162.7" cy="97.5" r="2.55"/><circle cx="1037.0" cy="98.5" r="2.55"/><circle cx="1040.7" cy="98.5" r="2.55"/><circle cx="1046.4" cy="99.4" r="2.55"/><circle cx="1136.3" cy="99.9" r="2.55"/><circle cx="1152.3" cy="100.2" r="2.55"/><circle cx="1022.0" cy="101.3" r="2.55"/><circle cx="1054.1" cy="102.0" r="2.55"/><circle cx="1066.9" cy="102.0" r="2.55"/><circle cx="1070.6" cy="102.0" r="2.55"/><circle cx="1084.5" cy="103.3" r="2.55"/><circle cx="1109.4" cy="103.6" r="2.55"/><circle cx="1142.9" cy="104.2" r="2.55"/><circle cx="1077.8" cy="105.2" r="2.55"/><circle cx="1116.0" cy="105.5" r="2.55"/><circle cx="1127.2" cy="104.7" r="2.55"/><circle cx="1090.4" cy="106.0" r="2.55"/><circle cx="1093.0" cy="106.3" r="2.55"/><circle cx="1157.6" cy="105.8" r="2.55"/><circle cx="1165.7" cy="106.0" r="2.55"/><circle cx="1073.6" cy="106.8" r="2.55"/><circle cx="1130.4" cy="107.4" r="2.55"/><circle cx="1026.8" cy="108.2" r="2.55"/><circle cx="1030.0" cy="108.8" r="2.55"/><circle cx="1033.8" cy="109.7" r="2.55"/><circle cx="1018.6" cy="109.3" r="2.55"/><circle cx="1087.4" cy="108.7" r="2.55"/><circle cx="1143.4" cy="108.4" r="2.55"/><circle cx="1099.5" cy="110.6" r="2.55"/><circle cx="1039.7" cy="112.4" r="2.55"/><circle cx="1082.7" cy="112.2" r="2.55"/><circle cx="1026.8" cy="114.0" r="2.55"/><circle cx="1104.5" cy="114.9" r="2.55"/><circle cx="1122.7" cy="114.5" r="2.55"/><circle cx="1160.5" cy="119.1" r="2.55"/><circle cx="1169.4" cy="119.7" r="2.55"/><circle cx="1016.2" cy="120.0" r="2.55"/><circle cx="1035.9" cy="120.4" r="2.55"/><circle cx="1101.6" cy="119.9" r="2.55"/><circle cx="1030.0" cy="121.8" r="2.55"/><circle cx="1059.9" cy="122.0" r="2.55"/><circle cx="1067.7" cy="121.5" r="2.55"/><circle cx="1014.3" cy="123.7" r="2.55"/><circle cx="1096.2" cy="124.3" r="2.55"/><circle cx="1031.1" cy="127.1" r="2.55"/><circle cx="1054.6" cy="127.3" r="2.55"/><circle cx="1065.6" cy="128.2" r="2.55"/><circle cx="1025.2" cy="129.3" r="2.55"/><circle cx="1034.3" cy="129.5" r="2.55"/><circle cx="1106.2" cy="129.5" r="2.55"/><circle cx="1111.7" cy="130.0" r="2.55"/><circle cx="1039.7" cy="131.6" r="2.55"/><circle cx="1024.2" cy="132.5" r="2.55"/><circle cx="1029.0" cy="133.0" r="2.55"/><circle cx="1078.9" cy="131.9" r="2.55"/><circle cx="1151.0" cy="132.7" r="2.55"/><circle cx="1121.3" cy="135.1" r="2.55"/><circle cx="1027.4" cy="136.7" r="2.55"/><circle cx="1032.7" cy="137.3" r="2.55"/><circle cx="1036.8" cy="136.7" r="2.55"/><circle cx="1056.4" cy="136.7" r="2.55"/><circle cx="1105.6" cy="137.8" r="2.55"/><circle cx="1116.5" cy="137.3" r="2.55"/><circle cx="1071.2" cy="138.7" r="2.55"/><circle cx="1035.9" cy="141.0" r="2.55"/><circle cx="1040.7" cy="141.2" r="2.55"/><circle cx="1045.5" cy="141.9" r="2.55"/><circle cx="1078.4" cy="141.2" r="2.55"/><circle cx="1088.0" cy="144.4" r="2.55"/><circle cx="1137.4" cy="144.0" r="2.55"/><circle cx="1142.2" cy="147.1" r="2.55"/><circle cx="1037.0" cy="148.7" r="2.55"/><circle cx="1031.1" cy="150.1" r="2.55"/><circle cx="1049.3" cy="147.4" r="2.55"/><circle cx="1102.1" cy="150.1" r="2.55"/><circle cx="1116.0" cy="149.8" r="2.55"/><circle cx="1130.1" cy="150.1" r="2.55"/><circle cx="1026.8" cy="153.3" r="2.55"/><circle cx="1050.3" cy="153.3" r="2.55"/><circle cx="1070.6" cy="153.6" r="2.55"/><circle cx="1081.8" cy="156.5" r="2.55"/><circle cx="1054.1" cy="156.8" r="2.55"/><circle cx="1057.8" cy="157.9" r="2.55"/><circle cx="1165.7" cy="158.6" r="2.55"/><circle cx="1016.2" cy="160.5" r="2.55"/><circle cx="1019.4" cy="162.4" r="2.55"/><circle cx="1046.4" cy="160.8" r="2.55"/><circle cx="1059.9" cy="162.6" r="2.55"/><circle cx="1070.6" cy="162.1" r="2.55"/><circle cx="1022.0" cy="164.7" r="2.55"/><circle cx="1151.0" cy="164.0" r="2.55"/><circle cx="1080.8" cy="165.6" r="2.55"/><circle cx="1130.1" cy="166.1" r="2.55"/><circle cx="1077.6" cy="167.9" r="2.55"/><circle cx="1109.4" cy="169.3" r="2.55"/><circle cx="1151.8" cy="170.4" r="2.55"/><circle cx="1037.0" cy="170.1" r="2.55"/><circle cx="1033.8" cy="171.1" r="2.55"/><circle cx="1054.1" cy="171.5" r="2.55"/><circle cx="1116.5" cy="170.9" r="2.55"/><circle cx="1051.4" cy="174.1" r="2.55"/><circle cx="1069.2" cy="173.3" r="2.55"/><circle cx="1087.4" cy="175.0" r="2.55"/><circle cx="1025.2" cy="176.3" r="2.55"/><circle cx="1119.7" cy="177.3" r="2.55"/><circle cx="1178.4" cy="102.9" r="2.55"/><circle cx="1183.9" cy="105.6" r="2.55"/><circle cx="1195.8" cy="108.8" r="2.55"/><circle cx="1201.7" cy="108.4" r="2.55"/><circle cx="1200.1" cy="110.3" r="2.55"/><circle cx="1226.0" cy="116.7" r="2.55"/><circle cx="1191.0" cy="131.9" r="2.55"/><circle cx="1231.4" cy="131.1" r="2.55"/><circle cx="1261.5" cy="132.8" r="2.55"/><circle cx="1209.5" cy="137.6" r="2.55"/><circle cx="1186.0" cy="139.9" r="2.55"/><circle cx="1215.1" cy="145.3" r="2.55"/><circle cx="1234.8" cy="146.4" r="2.55"/><circle cx="1185.7" cy="151.5" r="2.55"/><circle cx="1229.5" cy="159.5" r="2.55"/><circle cx="1251.9" cy="163.2" r="2.55"/><circle cx="1271.6" cy="160.8" r="2.55"/><circle cx="1282.0" cy="170.1" r="2.55"/><circle cx="1039.7" cy="180.5" r="2.55"/><circle cx="1061.8" cy="182.2" r="2.55"/><circle cx="1108.7" cy="181.6" r="2.55"/><circle cx="1075.1" cy="183.5" r="2.55"/><circle cx="1022.0" cy="184.3" r="2.55"/><circle cx="1035.4" cy="185.1" r="2.55"/><circle cx="1045.5" cy="185.4" r="2.55"/><circle cx="1119.5" cy="184.3" r="2.55"/><circle cx="1128.3" cy="184.8" r="2.55"/><circle cx="1151.0" cy="184.0" r="2.55"/><circle cx="1101.6" cy="186.1" r="2.55"/><circle cx="1134.2" cy="187.2" r="2.55"/><circle cx="1082.7" cy="188.3" r="2.55"/><circle cx="1039.1" cy="188.8" r="2.55"/><circle cx="1056.0" cy="189.1" r="2.55"/><circle cx="1019.4" cy="189.9" r="2.55"/><circle cx="1051.4" cy="191.5" r="2.55"/><circle cx="1134.7" cy="191.5" r="2.55"/><circle cx="1143.8" cy="192.0" r="2.55"/><circle cx="1022.6" cy="193.3" r="2.55"/><circle cx="1041.6" cy="194.2" r="2.55"/><circle cx="1044.7" cy="194.2" r="2.55"/><circle cx="1093.0" cy="194.4" r="2.55"/><circle cx="1026.3" cy="196.0" r="2.55"/><circle cx="1084.5" cy="195.5" r="2.55"/><circle cx="1030.0" cy="198.2" r="2.55"/><circle cx="1081.6" cy="198.4" r="2.55"/><circle cx="1093.0" cy="197.9" r="2.55"/><circle cx="1130.1" cy="197.9" r="2.55"/><circle cx="1142.9" cy="198.6" r="2.55"/><circle cx="1034.0" cy="201.6" r="2.55"/><circle cx="1104.3" cy="201.3" r="2.55"/><circle cx="1155.3" cy="201.6" r="2.55"/><circle cx="1160.5" cy="201.1" r="2.55"/><circle cx="1032.7" cy="203.8" r="2.55"/><circle cx="1090.1" cy="203.5" r="2.55"/><circle cx="1108.0" cy="203.5" r="2.55"/><circle cx="1166.7" cy="203.5" r="2.55"/><circle cx="1152.8" cy="204.6" r="2.55"/><circle cx="1106.1" cy="207.5" r="2.55"/><circle cx="1121.1" cy="207.5" r="2.55"/><circle cx="1037.5" cy="209.6" r="2.55"/><circle cx="1101.1" cy="209.8" r="2.55"/><circle cx="1116.3" cy="210.4" r="2.55"/><circle cx="1156.0" cy="210.0" r="2.55"/><circle cx="1167.8" cy="210.4" r="2.55"/><circle cx="1023.6" cy="211.8" r="2.55"/><circle cx="1034.6" cy="213.4" r="2.55"/><circle cx="1159.8" cy="213.1" r="2.55"/><circle cx="1130.6" cy="213.9" r="2.55"/><circle cx="1026.3" cy="217.1" r="2.55"/><circle cx="1029.7" cy="219.8" r="2.55"/><circle cx="1043.9" cy="218.5" r="2.55"/><circle cx="1117.1" cy="218.5" r="2.55"/><circle cx="1151.5" cy="219.5" r="2.55"/><circle cx="1010.8" cy="224.6" r="2.55"/><circle cx="1014.0" cy="226.7" r="2.55"/><circle cx="1017.5" cy="228.3" r="2.55"/><circle cx="1124.3" cy="225.4" r="2.55"/><circle cx="1136.5" cy="227.8" r="2.55"/><circle cx="1120.0" cy="229.7" r="2.55"/><circle cx="1146.1" cy="232.3" r="2.55"/><circle cx="1153.2" cy="231.7" r="2.55"/><circle cx="1062.3" cy="234.0" r="2.55"/><circle cx="1022.6" cy="235.3" r="2.55"/><circle cx="1026.1" cy="235.5" r="2.55"/><circle cx="1140.8" cy="235.0" r="2.55"/><circle cx="1132.0" cy="234.5" r="2.55"/><circle cx="1128.3" cy="236.5" r="2.55"/><circle cx="1131.0" cy="237.4" r="2.55"/><circle cx="1160.5" cy="236.3" r="2.55"/><circle cx="1158.2" cy="238.5" r="2.55"/><circle cx="1019.4" cy="239.0" r="2.55"/><circle cx="1044.7" cy="239.7" r="2.55"/><circle cx="1068.5" cy="239.7" r="2.55"/><circle cx="1143.8" cy="242.0" r="2.55"/><circle cx="1147.8" cy="242.2" r="2.55"/><circle cx="1017.2" cy="243.6" r="2.55"/><circle cx="1077.0" cy="243.8" r="2.55"/><circle cx="1038.3" cy="248.8" r="2.55"/><circle cx="1161.2" cy="248.9" r="2.55"/><circle cx="1170.5" cy="249.7" r="2.55"/><circle cx="1089.5" cy="250.0" r="2.55"/><circle cx="1033.8" cy="251.3" r="2.55"/><circle cx="1030.3" cy="252.3" r="2.55"/><circle cx="1157.1" cy="258.0" r="2.55"/><circle cx="1170.5" cy="263.0" r="2.55"/><circle cx="1326.1" cy="181.3" r="2.55"/><circle cx="1197.4" cy="190.2" r="2.55"/><circle cx="1216.3" cy="202.5" r="2.55"/><circle cx="1185.7" cy="204.5" r="2.55"/><circle cx="1188.1" cy="215.5" r="2.55"/><circle cx="1229.7" cy="215.2" r="2.55"/><circle cx="1251.9" cy="218.2" r="2.55"/><circle cx="1217.7" cy="220.8" r="2.55"/><circle cx="1242.5" cy="221.4" r="2.55"/><circle cx="1282.3" cy="224.4" r="2.55"/><circle cx="1251.9" cy="230.5" r="2.55"/><circle cx="1276.1" cy="230.7" r="2.55"/><circle cx="1309.2" cy="231.2" r="2.55"/><circle cx="1326.3" cy="232.4" r="2.55"/><circle cx="1185.2" cy="235.6" r="2.55"/><circle cx="1177.5" cy="237.9" r="2.55"/><circle cx="1280.5" cy="240.9" r="2.55"/><circle cx="1179.6" cy="243.5" r="2.55"/><circle cx="1208.1" cy="245.9" r="2.55"/><circle cx="1183.0" cy="249.5" r="2.55"/><circle cx="1186.5" cy="259.5" r="2.55"/><circle cx="1255.8" cy="267.6" r="2.55"/><circle cx="1193.4" cy="269.4" r="2.55"/><circle cx="1223.6" cy="270.0" r="2.55"/><circle cx="1280.5" cy="274.2" r="2.55"/><circle cx="1314.4" cy="281.7" r="2.55"/><circle cx="1235.6" cy="284.4" r="2.55"/><circle cx="1258.5" cy="287.1" r="2.55"/>
</g>
<g class="md"><circle cx="1021.2" cy="175.0" r="3.8"/><circle cx="1032.7" cy="160.8" r="3.8"/><circle cx="1044.1" cy="151.5" r="3.8"/><circle cx="1065.1" cy="147.1" r="3.8"/><circle cx="1092.7" cy="155.4" r="3.8"/><circle cx="1119.7" cy="159.0" r="3.8"/><circle cx="1142.9" cy="183.7" r="3.8"/><circle cx="1173.2" cy="189.9" r="3.8"/><circle cx="1243.9" cy="200.6" r="3.8"/></g>
<path class="rg" clip-path="url(#cqc)" d="M999.6 296.0 999.9 293.5 1000.3 291.0 1000.6 288.5 1001.0 286.0 1001.4 283.5 1001.8 281.1 1002.2 278.6 1002.7 276.1 1003.1 273.6 1003.4 271.1 1003.8 268.6 1004.2 266.1 1004.5 263.6 1004.9 261.2 1005.2 258.7 1005.6 256.2 1005.9 253.7 1006.3 251.2 1006.6 248.7 1007.0 246.2 1007.4 243.7 1007.7 241.2 1008.1 238.7 1008.5 236.2 1008.9 233.8 1009.3 231.3 1009.7 228.8 1010.1 226.3 1010.5 223.8 1010.9 221.3 1011.4 218.9 1011.8 216.4 1012.3 213.9 1012.7 211.4 1013.2 208.9 1013.6 206.5 1014.1 204.0 1014.7 201.5 1015.2 199.1 1015.8 196.6 1016.4 194.2 1017.2 191.8 1017.9 189.4 1018.7 187.0 1019.5 184.6 1020.4 182.3 1021.3 179.9 1022.0 177.5 1022.8 175.0 1023.5 172.6 1024.4 170.3 1025.5 168.1 1026.8 165.8 1028.2 163.7 1029.7 161.6 1031.3 159.6 1032.9 157.9 1034.7 156.2 1036.7 154.5 1038.8 153.0 1041.1 151.7 1043.3 150.6 1045.6 149.8 1048.0 149.0 1050.5 148.4 1053.0 148.0 1055.5 148.0 1058.1 148.1 1060.6 148.2 1063.1 148.4 1065.6 148.6 1068.0 149.1 1070.4 149.8 1072.8 150.7 1075.1 151.7 1077.5 152.7 1079.8 153.7 1082.2 154.5 1084.6 155.4 1087.0 156.2 1089.3 157.1 1091.7 157.9 1094.1 158.7 1096.5 159.6 1098.8 160.4 1101.2 161.2 1103.6 162.0 1106.0 162.8 1108.3 163.7 1110.7 164.6 1113.0 165.6 1115.3 166.6 1117.7 167.6 1120.0 168.5 1122.3 169.5 1124.7 170.3 1127.0 171.2 1129.4 172.1 1131.8 172.9 1134.2 173.7 1136.6 174.5 1138.9 175.3 1141.3 176.1 1143.7 176.9 1146.1 177.6 1148.6 178.3 1151.0 179.0 1153.4 179.7 1155.8 180.4 1158.2 181.1 1160.6 181.8 1163.0 182.6 1165.4 183.4 1167.8 184.2 1170.2 185.0 1172.6 185.8 1175.0 186.5 1177.4 187.3 1179.8 188.0 1182.2 188.8 1184.6 189.5 1187.0 190.2 1189.5 190.9 1191.9 191.6 1194.3 192.3 1196.7 193.0 1199.2 193.6 1201.6 194.3 1204.0 194.9 1206.5 195.5 1208.9 196.1 1211.4 196.7 1213.8 197.3 1216.3 197.9 1218.7 198.5 1221.2 199.0 1223.6 199.6 1226.1 200.1 1228.5 200.7 1231.0 201.2 1233.4 201.8 1235.9 202.3 1238.4 202.9 1240.8 203.4 1243.3 203.9 1245.7 204.5 1248.2 205.0 1250.7 205.5 1253.1 206.0 1255.6 206.6 1258.1 207.1 1260.5 207.6 1263.0 208.1 1265.5 208.6 1267.9 209.1 1270.4 209.5 1272.9 210.0 1275.3 210.5 1277.8 211.0 1280.3 211.5 1282.8 211.9 1285.2 212.4 1287.7 212.9 1290.2 213.3 1292.7 213.8 1295.1 214.2 1297.6 214.7 1300.1 215.1 1302.6 215.5 1305.1 215.9 1307.6 216.3 1310.0 216.6 1312.5 217.0 1315.0 217.4 1317.5 217.7 1320.0 218.1 1322.5 218.4 1325.0 218.8 1327.5 219.1 1330.0 219.4 1332.5 219.7 1335.0 220.0 1337.5 220.3 1340.0 220.6"/>
<text class="tk" x="996.5" y="311.4" text-anchor="middle">0</text>
<text class="tk" x="1083.4" y="311.4" text-anchor="middle">1</text>
<text class="tk" x="1170.2" y="311.4" text-anchor="middle">2</text>
<text class="tk" x="1257.1" y="311.4" text-anchor="middle">3</text>
<text class="tk" x="1344.0" y="311.4" text-anchor="middle">4</text>
<text class="tk" x="989.5" y="295.0" text-anchor="end">0.02</text>
<text class="tk" x="989.5" y="207.1" text-anchor="end">0.06</text>
<text class="tk" x="989.5" y="119.2" text-anchor="end">0.1</text>
<text class="tk" x="989.5" y="31.3" text-anchor="end">0.14</text>
<text class="lb" x="1159.1" y="334.4">T<tspan class="sb" dx="-0.6" dy="9.3">p-s</tspan></text>
<text class="lb" transform="translate(942.7 164.6) rotate(-90)">u<tspan class="sb" dx="0" dy="9.3">d</tspan></text>
<text class="tt" x="1014.1" y="71.7">(c) <tspan class="it">V</tspan><tspan class="it sm" dx="0.5" dy="9.8">p</tspan><tspan dx="0.2" dy="-9.8"> = 0.35</tspan><tspan class="it">m/s</tspan></text>
<text class="tt" x="1213.6" y="255.6"><tspan class="it">R</tspan><tspan class="it sm" dx="0.3" dy="-10.3">2</tspan><tspan dx="0.4" dy="10.3"> = 0.93</tspan></text>
<rect x="1174.5" y="34.5" width="161" height="61" fill="#fff" stroke="#404040" stroke-width="1"/>
<circle cx="1194.3" cy="45.9" r="3.8" fill="#0ff"/>
<circle cx="1194.3" cy="65.3" r="3.4" fill="#edb120" stroke="#000" stroke-width="1"/>
<path d="M1177.6 84.6h33.4" stroke="#000" stroke-width="2.3" stroke-dasharray="7.2 5.8" fill="none"/>
<text class="lg" x="1213.0" y="51.5">Original data</text>
<text class="lg" x="1213.0" y="71.1">Mean data</text>
<text class="lg" x="1213.0" y="90.5">Regression model</text>
</g>
<g id="panel-d">
<clipPath id="cpd"><rect x="1455.9" y="22.5" width="353.5" height="269.7"/></clipPath>
<clipPath id="cqd"><rect x="1457.4" y="24.0" width="350.5" height="265.8"/></clipPath>
<path class="gr" d="M1545.5 289.2V25.5M1632.5 289.2V25.5M1719.5 289.2V25.5M1458.9 201.5H1806.4M1458.9 113.5H1806.4"/>
<path class="ax" d="M1458.9 25.5H1806.4V289.2H1458.9ZM1545.5 289.2v-4.2M1545.5 25.5v4.2M1632.5 289.2v-4.2M1632.5 25.5v4.2M1719.5 289.2v-4.2M1719.5 25.5v4.2M1458.9 201.5h4.2M1806.4 201.5h-4.2M1458.9 113.5h4.2M1806.4 113.5h-4.2"/>
<g class="od" clip-path="url(#cpd)">
<circle cx="1513.7" cy="27.6" r="2.55"/><circle cx="1517.5" cy="66.5" r="2.55"/><circle cx="1524.0" cy="68.1" r="2.55"/><circle cx="1534.2" cy="73.3" r="2.55"/><circle cx="1573.0" cy="69.3" r="2.55"/><circle cx="1583.9" cy="65.2" r="2.55"/><circle cx="1598.9" cy="65.2" r="2.55"/><circle cx="1620.6" cy="74.3" r="2.55"/><circle cx="1552.9" cy="84.9" r="2.55"/><circle cx="1562.2" cy="92.8" r="2.55"/><circle cx="1569.2" cy="97.8" r="2.55"/><circle cx="1579.7" cy="100.3" r="2.55"/><circle cx="1574.2" cy="104.0" r="2.55"/><circle cx="1593.9" cy="103.2" r="2.55"/><circle cx="1517.2" cy="104.9" r="2.55"/><circle cx="1529.4" cy="105.3" r="2.55"/><circle cx="1522.9" cy="108.7" r="2.55"/><circle cx="1536.3" cy="108.4" r="2.55"/><circle cx="1578.2" cy="108.4" r="2.55"/><circle cx="1589.9" cy="107.5" r="2.55"/><circle cx="1605.2" cy="107.5" r="2.55"/><circle cx="1614.9" cy="108.2" r="2.55"/><circle cx="1484.6" cy="110.9" r="2.55"/><circle cx="1533.2" cy="111.2" r="2.55"/><circle cx="1562.2" cy="110.0" r="2.55"/><circle cx="1625.6" cy="110.9" r="2.55"/><circle cx="1628.3" cy="112.8" r="2.55"/><circle cx="1540.0" cy="113.8" r="2.55"/><circle cx="1545.0" cy="113.2" r="2.55"/><circle cx="1572.0" cy="114.3" r="2.55"/><circle cx="1509.0" cy="115.3" r="2.55"/><circle cx="1516.5" cy="114.9" r="2.55"/><circle cx="1530.4" cy="115.7" r="2.55"/><circle cx="1549.7" cy="116.3" r="2.55"/><circle cx="1546.9" cy="117.8" r="2.55"/><circle cx="1592.0" cy="116.2" r="2.55"/><circle cx="1503.7" cy="118.2" r="2.55"/><circle cx="1512.9" cy="119.1" r="2.55"/><circle cx="1481.2" cy="119.4" r="2.55"/><circle cx="1499.3" cy="120.3" r="2.55"/><circle cx="1558.8" cy="119.7" r="2.55"/><circle cx="1605.8" cy="119.4" r="2.55"/><circle cx="1487.4" cy="121.8" r="2.55"/><circle cx="1555.7" cy="121.6" r="2.55"/><circle cx="1519.0" cy="122.2" r="2.55"/><circle cx="1568.2" cy="121.6" r="2.55"/><circle cx="1585.1" cy="121.2" r="2.55"/><circle cx="1564.5" cy="122.8" r="2.55"/><circle cx="1623.3" cy="122.2" r="2.55"/><circle cx="1490.3" cy="125.9" r="2.55"/><circle cx="1528.5" cy="125.9" r="2.55"/><circle cx="1541.7" cy="126.6" r="2.55"/><circle cx="1566.7" cy="125.9" r="2.55"/><circle cx="1579.2" cy="125.7" r="2.55"/><circle cx="1592.3" cy="124.9" r="2.55"/><circle cx="1478.7" cy="129.5" r="2.55"/><circle cx="1496.2" cy="129.1" r="2.55"/><circle cx="1502.5" cy="129.5" r="2.55"/><circle cx="1489.7" cy="130.7" r="2.55"/><circle cx="1632.1" cy="128.4" r="2.55"/><circle cx="1605.2" cy="129.7" r="2.55"/><circle cx="1493.1" cy="132.8" r="2.55"/><circle cx="1499.3" cy="132.2" r="2.55"/><circle cx="1571.3" cy="132.8" r="2.55"/><circle cx="1593.5" cy="132.2" r="2.55"/><circle cx="1613.6" cy="132.5" r="2.55"/><circle cx="1604.5" cy="132.8" r="2.55"/><circle cx="1583.9" cy="133.8" r="2.55"/><circle cx="1496.2" cy="135.7" r="2.55"/><circle cx="1477.2" cy="136.3" r="2.55"/><circle cx="1533.2" cy="135.3" r="2.55"/><circle cx="1600.2" cy="136.6" r="2.55"/><circle cx="1622.1" cy="136.6" r="2.55"/><circle cx="1490.6" cy="137.8" r="2.55"/><circle cx="1509.4" cy="137.2" r="2.55"/><circle cx="1486.8" cy="139.7" r="2.55"/><circle cx="1492.8" cy="140.3" r="2.55"/><circle cx="1543.8" cy="139.1" r="2.55"/><circle cx="1568.2" cy="140.1" r="2.55"/><circle cx="1614.6" cy="140.3" r="2.55"/><circle cx="1522.5" cy="138.5" r="2.55"/><circle cx="1516.0" cy="142.9" r="2.55"/><circle cx="1489.9" cy="143.2" r="2.55"/><circle cx="1533.2" cy="142.9" r="2.55"/><circle cx="1596.6" cy="142.6" r="2.55"/><circle cx="1496.2" cy="146.0" r="2.55"/><circle cx="1510.6" cy="146.0" r="2.55"/><circle cx="1524.4" cy="145.4" r="2.55"/><circle cx="1540.7" cy="146.0" r="2.55"/><circle cx="1578.2" cy="145.4" r="2.55"/><circle cx="1597.6" cy="146.0" r="2.55"/><circle cx="1518.7" cy="147.2" r="2.55"/><circle cx="1563.8" cy="149.7" r="2.55"/><circle cx="1594.5" cy="148.5" r="2.55"/><circle cx="1504.3" cy="149.7" r="2.55"/><circle cx="1520.6" cy="150.0" r="2.55"/><circle cx="1525.4" cy="150.4" r="2.55"/><circle cx="1605.5" cy="149.7" r="2.55"/><circle cx="1617.9" cy="149.7" r="2.55"/><circle cx="1550.1" cy="148.5" r="2.55"/><circle cx="1538.2" cy="153.5" r="2.55"/><circle cx="1514.4" cy="153.5" r="2.55"/><circle cx="1579.5" cy="154.1" r="2.55"/><circle cx="1591.6" cy="151.0" r="2.55"/><circle cx="1628.3" cy="151.6" r="2.55"/><circle cx="1502.5" cy="156.6" r="2.55"/><circle cx="1613.3" cy="155.4" r="2.55"/><circle cx="1564.2" cy="156.6" r="2.55"/><circle cx="1544.4" cy="157.3" r="2.55"/><circle cx="1599.5" cy="156.6" r="2.55"/><circle cx="1640.9" cy="114.7" r="2.55"/><circle cx="1658.8" cy="120.1" r="2.55"/><circle cx="1662.8" cy="119.7" r="2.55"/><circle cx="1646.5" cy="122.2" r="2.55"/><circle cx="1664.4" cy="125.7" r="2.55"/><circle cx="1648.7" cy="126.6" r="2.55"/><circle cx="1688.5" cy="130.0" r="2.55"/><circle cx="1693.9" cy="128.7" r="2.55"/><circle cx="1724.2" cy="136.0" r="2.55"/><circle cx="1660.1" cy="136.6" r="2.55"/><circle cx="1653.7" cy="139.7" r="2.55"/><circle cx="1672.2" cy="142.5" r="2.55"/><circle cx="1677.2" cy="143.7" r="2.55"/><circle cx="1679.7" cy="144.5" r="2.55"/><circle cx="1692.2" cy="143.2" r="2.55"/><circle cx="1697.5" cy="145.4" r="2.55"/><circle cx="1714.5" cy="144.7" r="2.55"/><circle cx="1648.4" cy="147.2" r="2.55"/><circle cx="1734.2" cy="152.2" r="2.55"/><circle cx="1744.6" cy="149.1" r="2.55"/><circle cx="1788.7" cy="156.0" r="2.55"/><circle cx="1623.1" cy="157.9" r="2.55"/><circle cx="1478.7" cy="160.8" r="2.55"/><circle cx="1483.1" cy="161.6" r="2.55"/><circle cx="1487.1" cy="163.5" r="2.55"/><circle cx="1508.4" cy="161.3" r="2.55"/><circle cx="1545.0" cy="160.4" r="2.55"/><circle cx="1590.8" cy="162.9" r="2.55"/><circle cx="1492.4" cy="166.6" r="2.55"/><circle cx="1618.3" cy="166.3" r="2.55"/><circle cx="1608.7" cy="168.3" r="2.55"/><circle cx="1552.6" cy="171.3" r="2.55"/><circle cx="1555.9" cy="171.3" r="2.55"/><circle cx="1582.4" cy="170.2" r="2.55"/><circle cx="1491.8" cy="172.0" r="2.55"/><circle cx="1496.2" cy="171.7" r="2.55"/><circle cx="1498.3" cy="174.5" r="2.55"/><circle cx="1570.3" cy="173.9" r="2.55"/><circle cx="1606.8" cy="176.3" r="2.55"/><circle cx="1496.2" cy="177.3" r="2.55"/><circle cx="1546.9" cy="177.3" r="2.55"/><circle cx="1501.6" cy="179.4" r="2.55"/><circle cx="1622.9" cy="178.3" r="2.55"/><circle cx="1555.4" cy="180.8" r="2.55"/><circle cx="1594.3" cy="181.9" r="2.55"/><circle cx="1568.2" cy="185.7" r="2.55"/><circle cx="1613.6" cy="185.2" r="2.55"/><circle cx="1488.4" cy="186.7" r="2.55"/><circle cx="1500.3" cy="187.3" r="2.55"/><circle cx="1506.9" cy="187.1" r="2.55"/><circle cx="1563.2" cy="187.3" r="2.55"/><circle cx="1486.8" cy="188.8" r="2.55"/><circle cx="1514.1" cy="189.8" r="2.55"/><circle cx="1629.3" cy="190.8" r="2.55"/><circle cx="1484.9" cy="194.2" r="2.55"/><circle cx="1488.7" cy="196.7" r="2.55"/><circle cx="1492.4" cy="197.3" r="2.55"/><circle cx="1491.6" cy="199.6" r="2.55"/><circle cx="1579.1" cy="196.1" r="2.55"/><circle cx="1583.9" cy="195.8" r="2.55"/><circle cx="1587.0" cy="198.8" r="2.55"/><circle cx="1615.6" cy="195.8" r="2.55"/><circle cx="1496.6" cy="203.3" r="2.55"/><circle cx="1593.3" cy="203.3" r="2.55"/><circle cx="1610.4" cy="203.0" r="2.55"/><circle cx="1593.3" cy="206.7" r="2.55"/><circle cx="1598.9" cy="207.0" r="2.55"/><circle cx="1630.6" cy="207.0" r="2.55"/><circle cx="1506.6" cy="208.6" r="2.55"/><circle cx="1579.7" cy="208.6" r="2.55"/><circle cx="1497.5" cy="210.7" r="2.55"/><circle cx="1613.7" cy="214.2" r="2.55"/><circle cx="1606.4" cy="215.9" r="2.55"/><circle cx="1615.8" cy="217.4" r="2.55"/><circle cx="1623.7" cy="227.1" r="2.55"/><circle cx="1507.5" cy="228.0" r="2.55"/><circle cx="1500.8" cy="228.3" r="2.55"/><circle cx="1496.5" cy="230.5" r="2.55"/><circle cx="1493.1" cy="231.8" r="2.55"/><circle cx="1590.8" cy="232.0" r="2.55"/><circle cx="1603.5" cy="233.3" r="2.55"/><circle cx="1620.6" cy="236.5" r="2.55"/><circle cx="1633.3" cy="236.5" r="2.55"/><circle cx="1473.0" cy="238.0" r="2.55"/><circle cx="1476.2" cy="240.5" r="2.55"/><circle cx="1479.9" cy="242.7" r="2.55"/><circle cx="1524.6" cy="242.0" r="2.55"/><circle cx="1488.4" cy="247.7" r="2.55"/><circle cx="1531.0" cy="251.8" r="2.55"/><circle cx="1484.3" cy="252.2" r="2.55"/><circle cx="1479.5" cy="252.4" r="2.55"/><circle cx="1481.8" cy="254.7" r="2.55"/><circle cx="1539.7" cy="260.3" r="2.55"/><circle cx="1552.2" cy="263.5" r="2.55"/><circle cx="1619.6" cy="262.4" r="2.55"/><circle cx="1633.3" cy="262.2" r="2.55"/><circle cx="1647.8" cy="163.3" r="2.55"/><circle cx="1705.1" cy="161.9" r="2.55"/><circle cx="1648.4" cy="175.0" r="2.55"/><circle cx="1642.4" cy="196.3" r="2.55"/><circle cx="1743.2" cy="210.1" r="2.55"/><circle cx="1650.7" cy="221.1" r="2.55"/><circle cx="1692.2" cy="223.9" r="2.55"/><circle cx="1640.0" cy="228.4" r="2.55"/><circle cx="1670.6" cy="227.8" r="2.55"/><circle cx="1714.5" cy="227.6" r="2.55"/><circle cx="1714.5" cy="233.6" r="2.55"/><circle cx="1680.3" cy="236.2" r="2.55"/><circle cx="1738.8" cy="235.1" r="2.55"/><circle cx="1744.8" cy="233.6" r="2.55"/><circle cx="1771.8" cy="238.0" r="2.55"/><circle cx="1789.1" cy="244.5" r="2.55"/><circle cx="1649.3" cy="248.0" r="2.55"/><circle cx="1645.5" cy="252.7" r="2.55"/><circle cx="1655.7" cy="266.6" r="2.55"/><circle cx="1686.4" cy="277.1" r="2.55"/><circle cx="1698.3" cy="281.5" r="2.55"/><circle cx="1718.3" cy="278.4" r="2.55"/><circle cx="1721.3" cy="284.6" r="2.55"/><circle cx="1743.2" cy="281.2" r="2.55"/><circle cx="1776.8" cy="286.0" r="2.55"/><circle cx="1503.4" cy="132.1" r="2.55"/><circle cx="1500.9" cy="135.1" r="2.55"/><circle cx="1497.9" cy="138.1" r="2.55"/><circle cx="1500.4" cy="138.1" r="2.55"/><circle cx="1494.3" cy="137.6" r="2.55"/><circle cx="1499.3" cy="141.2" r="2.55"/><circle cx="1496.0" cy="140.9" r="2.55"/><circle cx="1492.1" cy="137.6" r="2.55"/><circle cx="1503.7" cy="147.5" r="2.55"/><circle cx="1507.6" cy="148.1" r="2.55"/><circle cx="1511.4" cy="148.6" r="2.55"/><circle cx="1501.5" cy="150.9" r="2.55"/><circle cx="1508.7" cy="150.9" r="2.55"/><circle cx="1533.5" cy="147.0" r="2.55"/>
</g>
<g class="md"><circle cx="1484.1" cy="181.3" r="3.8"/><circle cx="1495.2" cy="155.7" r="3.8"/><circle cx="1506.9" cy="139.7" r="3.8"/><circle cx="1527.5" cy="138.2" r="3.8"/><circle cx="1555.5" cy="146.3" r="3.8"/><circle cx="1582.4" cy="139.5" r="3.8"/><circle cx="1605.8" cy="161.3" r="3.8"/><circle cx="1635.7" cy="177.4" r="3.8"/><circle cx="1706.4" cy="195.4" r="3.8"/></g>
<path class="rg" clip-path="url(#cqd)" d="M1465.8 297.0 1466.0 294.5 1466.3 292.0 1466.6 289.5 1466.9 287.0 1467.2 284.5 1467.5 282.0 1467.8 279.5 1468.2 277.0 1468.5 274.5 1468.9 272.0 1469.2 269.5 1469.5 267.0 1469.8 264.5 1470.1 262.0 1470.3 259.5 1470.6 257.0 1470.8 254.5 1471.1 252.0 1471.4 249.5 1471.7 247.0 1472.0 244.5 1472.3 242.0 1472.7 239.5 1473.0 237.0 1473.4 234.5 1473.8 232.1 1474.1 229.6 1474.5 227.1 1474.9 224.6 1475.4 222.1 1475.8 219.6 1476.3 217.2 1476.8 214.7 1477.3 212.2 1477.8 209.8 1478.3 207.3 1478.8 204.8 1479.4 202.4 1480.0 199.9 1480.6 197.5 1481.1 195.1 1481.7 192.6 1482.3 190.1 1482.9 187.7 1483.5 185.2 1484.1 182.8 1484.7 180.4 1485.4 178.0 1486.2 175.6 1486.9 173.2 1487.7 170.8 1488.6 168.4 1489.5 166.1 1490.5 163.8 1491.6 161.5 1492.7 159.2 1493.9 157.0 1495.0 154.7 1496.1 152.4 1497.4 150.2 1498.7 148.1 1500.1 146.1 1501.8 144.1 1503.5 142.3 1505.4 140.6 1507.4 139.2 1509.6 137.8 1511.9 136.7 1514.3 136.0 1516.8 135.7 1519.3 135.5 1521.8 135.3 1524.4 135.3 1526.9 135.5 1529.4 135.7 1531.9 136.1 1534.4 136.5 1536.9 137.0 1539.3 137.4 1541.8 138.0 1544.2 138.6 1546.6 139.4 1549.0 140.2 1551.4 141.0 1553.8 141.8 1556.1 142.7 1558.5 143.6 1560.8 144.6 1563.1 145.5 1565.4 146.5 1567.8 147.4 1570.1 148.4 1572.4 149.3 1574.8 150.3 1577.1 151.2 1579.5 152.1 1581.8 153.0 1584.2 153.9 1586.5 154.8 1588.9 155.7 1591.2 156.6 1593.6 157.4 1596.0 158.2 1598.4 159.0 1600.7 159.9 1603.1 160.8 1605.4 161.8 1607.7 162.7 1610.1 163.7 1612.4 164.6 1614.7 165.6 1617.1 166.5 1619.4 167.4 1621.7 168.3 1624.1 169.3 1626.4 170.2 1628.7 171.2 1631.0 172.2 1633.3 173.2 1635.7 174.2 1638.0 175.1 1640.4 176.0 1642.7 176.9 1645.1 177.7 1647.5 178.6 1649.8 179.4 1652.2 180.2 1654.6 181.0 1657.0 181.8 1659.4 182.6 1661.8 183.4 1664.2 184.1 1666.6 184.8 1669.0 185.5 1671.5 186.2 1673.9 186.8 1676.3 187.4 1678.8 188.1 1681.2 188.7 1683.6 189.2 1686.1 189.8 1688.5 190.4 1691.0 191.0 1693.5 191.6 1695.9 192.2 1698.3 192.8 1700.8 193.4 1703.2 194.0 1705.7 194.6 1708.1 195.3 1710.5 195.9 1713.0 196.6 1715.4 197.2 1717.8 197.9 1720.2 198.6 1722.7 199.3 1725.1 199.9 1727.5 200.6 1730.0 201.3 1732.4 201.9 1734.8 202.5 1737.3 203.1 1739.7 203.7 1742.2 204.3 1744.6 204.9 1747.1 205.4 1749.5 205.9 1752.0 206.4 1754.5 206.9 1756.9 207.4 1759.4 207.9 1761.9 208.4 1764.3 208.8 1766.8 209.3 1769.3 209.8 1771.8 210.3 1774.2 210.7 1776.7 211.2 1779.2 211.7 1781.6 212.2 1784.1 212.6 1786.6 213.1 1789.1 213.5 1791.5 214.0 1794.0 214.5 1796.5 214.9 1799.0 215.4 1801.4 215.8 1803.9 216.3 1806.4 216.7"/>
<text class="tk" x="1458.7" y="311.4" text-anchor="middle">0</text>
<text class="tk" x="1545.6" y="311.4" text-anchor="middle">1</text>
<text class="tk" x="1632.5" y="311.4" text-anchor="middle">2</text>
<text class="tk" x="1719.3" y="311.4" text-anchor="middle">3</text>
<text class="tk" x="1806.2" y="311.4" text-anchor="middle">4</text>
<text class="tk" x="1451.9" y="295.0" text-anchor="end">0.04</text>
<text class="tk" x="1451.9" y="207.1" text-anchor="end">0.08</text>
<text class="tk" x="1451.9" y="119.2" text-anchor="end">0.12</text>
<text class="tk" x="1451.9" y="31.3" text-anchor="end">0.16</text>
<text class="lb" x="1621.5" y="334.4">T<tspan class="sb" dx="-0.6" dy="9.3">p-s</tspan></text>
<text class="lb" transform="translate(1405.1 164.6) rotate(-90)">u<tspan class="sb" dx="0" dy="9.3">d</tspan></text>
<text class="tt" x="1476.5" y="72.1">(d) <tspan class="it">V</tspan><tspan class="it sm" dx="0.5" dy="9.8">p</tspan><tspan dx="0.2" dy="-9.8"> = 0.45</tspan><tspan class="it">m/s</tspan></text>
<text class="tt" x="1676.0" y="255.6"><tspan class="it">R</tspan><tspan class="it sm" dx="0.3" dy="-10.3">2</tspan><tspan dx="0.4" dy="10.3"> = 0.94</tspan></text>
<rect x="1636.5" y="34.5" width="161" height="61" fill="#fff" stroke="#404040" stroke-width="1"/>
<circle cx="1656.3" cy="45.9" r="3.8" fill="#0ff"/>
<circle cx="1656.3" cy="65.3" r="3.4" fill="#edb120" stroke="#000" stroke-width="1"/>
<path d="M1639.6 84.6h33.4" stroke="#000" stroke-width="2.3" stroke-dasharray="7.2 5.8" fill="none"/>
<text class="lg" x="1675.0" y="51.5">Original data</text>
<text class="lg" x="1675.0" y="71.1">Mean data</text>
<text class="lg" x="1675.0" y="90.5">Regression model</text>
</g>
<g id="panel-e">
<clipPath id="cpe"><rect x="68.3" y="392.2" width="353.5" height="269.7"/></clipPath>
<clipPath id="cqe"><rect x="69.8" y="393.7" width="350.5" height="265.8"/></clipPath>
<path class="gr" d="M157.5 658.9V395.2M244.5 658.9V395.2M331.5 658.9V395.2M71.3 592.5H418.8M71.3 526.5H418.8M71.3 460.5H418.8"/>
<path class="ax" d="M71.3 395.2H418.8V658.9H71.3ZM157.5 658.9v-4.2M157.5 395.2v4.2M244.5 658.9v-4.2M244.5 395.2v4.2M331.5 658.9v-4.2M331.5 395.2v4.2M71.3 592.5h4.2M418.8 592.5h-4.2M71.3 526.5h4.2M418.8 526.5h-4.2M71.3 460.5h4.2M418.8 460.5h-4.2"/>
<g class="od" clip-path="url(#cpe)">
<circle cx="211.0" cy="396.1" r="2.55"/><circle cx="232.6" cy="396.1" r="2.55"/><circle cx="196.2" cy="402.9" r="2.55"/><circle cx="91.0" cy="411.0" r="2.55"/><circle cx="185.2" cy="410.5" r="2.55"/><circle cx="131.1" cy="425.8" r="2.55"/><circle cx="124.9" cy="428.9" r="2.55"/><circle cx="140.8" cy="428.7" r="2.55"/><circle cx="93.8" cy="430.6" r="2.55"/><circle cx="120.1" cy="432.1" r="2.55"/><circle cx="189.4" cy="425.6" r="2.55"/><circle cx="205.3" cy="432.3" r="2.55"/><circle cx="212.1" cy="430.8" r="2.55"/><circle cx="225.7" cy="435.6" r="2.55"/><circle cx="218.2" cy="439.0" r="2.55"/><circle cx="202.3" cy="439.6" r="2.55"/><circle cx="244.1" cy="443.6" r="2.55"/><circle cx="126.5" cy="444.8" r="2.55"/><circle cx="134.6" cy="446.7" r="2.55"/><circle cx="235.3" cy="446.7" r="2.55"/><circle cx="181.5" cy="448.4" r="2.55"/><circle cx="191.9" cy="450.5" r="2.55"/><circle cx="240.3" cy="451.9" r="2.55"/><circle cx="120.5" cy="454.0" r="2.55"/><circle cx="116.1" cy="456.5" r="2.55"/><circle cx="206.3" cy="454.6" r="2.55"/><circle cx="141.8" cy="455.9" r="2.55"/><circle cx="144.9" cy="457.4" r="2.55"/><circle cx="130.7" cy="458.4" r="2.55"/><circle cx="136.5" cy="457.7" r="2.55"/><circle cx="155.5" cy="460.3" r="2.55"/><circle cx="165.3" cy="464.0" r="2.55"/><circle cx="112.1" cy="464.0" r="2.55"/><circle cx="116.1" cy="465.9" r="2.55"/><circle cx="121.1" cy="467.8" r="2.55"/><circle cx="129.0" cy="467.1" r="2.55"/><circle cx="134.9" cy="467.5" r="2.55"/><circle cx="148.7" cy="466.9" r="2.55"/><circle cx="227.3" cy="463.8" r="2.55"/><circle cx="157.0" cy="468.6" r="2.55"/><circle cx="142.4" cy="468.6" r="2.55"/><circle cx="145.5" cy="469.6" r="2.55"/><circle cx="129.5" cy="469.6" r="2.55"/><circle cx="217.5" cy="468.4" r="2.55"/><circle cx="96.7" cy="470.9" r="2.55"/><circle cx="99.8" cy="473.4" r="2.55"/><circle cx="137.6" cy="472.2" r="2.55"/><circle cx="102.3" cy="475.9" r="2.55"/><circle cx="105.4" cy="479.4" r="2.55"/><circle cx="132.0" cy="477.8" r="2.55"/><circle cx="145.8" cy="478.2" r="2.55"/><circle cx="174.3" cy="478.2" r="2.55"/><circle cx="121.1" cy="481.2" r="2.55"/><circle cx="152.4" cy="481.5" r="2.55"/><circle cx="159.3" cy="481.2" r="2.55"/><circle cx="116.1" cy="483.2" r="2.55"/><circle cx="237.2" cy="482.4" r="2.55"/><circle cx="129.0" cy="484.3" r="2.55"/><circle cx="153.7" cy="484.3" r="2.55"/><circle cx="174.3" cy="484.3" r="2.55"/><circle cx="110.8" cy="486.2" r="2.55"/><circle cx="162.4" cy="487.2" r="2.55"/><circle cx="168.1" cy="487.8" r="2.55"/><circle cx="186.2" cy="493.7" r="2.55"/><circle cx="111.1" cy="494.7" r="2.55"/><circle cx="145.5" cy="497.8" r="2.55"/><circle cx="179.3" cy="496.6" r="2.55"/><circle cx="176.2" cy="498.4" r="2.55"/><circle cx="184.3" cy="499.3" r="2.55"/><circle cx="170.8" cy="501.0" r="2.55"/><circle cx="115.5" cy="500.7" r="2.55"/><circle cx="101.3" cy="506.6" r="2.55"/><circle cx="99.8" cy="508.5" r="2.55"/><circle cx="180.8" cy="508.1" r="2.55"/><circle cx="114.6" cy="509.7" r="2.55"/><circle cx="128.2" cy="510.0" r="2.55"/><circle cx="102.7" cy="512.2" r="2.55"/><circle cx="120.5" cy="511.8" r="2.55"/><circle cx="152.7" cy="512.2" r="2.55"/><circle cx="183.3" cy="513.2" r="2.55"/><circle cx="204.4" cy="512.5" r="2.55"/><circle cx="197.5" cy="516.0" r="2.55"/><circle cx="205.6" cy="517.2" r="2.55"/><circle cx="106.1" cy="517.6" r="2.55"/><circle cx="104.2" cy="520.4" r="2.55"/><circle cx="114.6" cy="523.5" r="2.55"/><circle cx="193.7" cy="523.9" r="2.55"/><circle cx="184.1" cy="524.7" r="2.55"/><circle cx="226.3" cy="525.4" r="2.55"/><circle cx="150.2" cy="527.3" r="2.55"/><circle cx="253.3" cy="488.1" r="2.55"/><circle cx="274.8" cy="496.3" r="2.55"/><circle cx="306.2" cy="514.7" r="2.55"/><circle cx="162.2" cy="529.5" r="2.55"/><circle cx="156.4" cy="530.4" r="2.55"/><circle cx="158.3" cy="532.3" r="2.55"/><circle cx="205.3" cy="528.3" r="2.55"/><circle cx="194.7" cy="532.5" r="2.55"/><circle cx="108.6" cy="532.9" r="2.55"/><circle cx="217.9" cy="532.9" r="2.55"/><circle cx="110.7" cy="537.5" r="2.55"/><circle cx="108.3" cy="539.1" r="2.55"/><circle cx="104.8" cy="540.8" r="2.55"/><circle cx="167.8" cy="539.1" r="2.55"/><circle cx="164.9" cy="540.8" r="2.55"/><circle cx="204.8" cy="538.5" r="2.55"/><circle cx="208.8" cy="539.1" r="2.55"/><circle cx="217.2" cy="538.1" r="2.55"/><circle cx="180.3" cy="541.7" r="2.55"/><circle cx="235.3" cy="539.1" r="2.55"/><circle cx="101.4" cy="545.4" r="2.55"/><circle cx="115.8" cy="544.8" r="2.55"/><circle cx="176.5" cy="545.4" r="2.55"/><circle cx="206.0" cy="544.5" r="2.55"/><circle cx="210.0" cy="544.2" r="2.55"/><circle cx="217.5" cy="545.0" r="2.55"/><circle cx="182.5" cy="548.8" r="2.55"/><circle cx="190.9" cy="548.9" r="2.55"/><circle cx="230.1" cy="548.9" r="2.55"/><circle cx="234.4" cy="551.0" r="2.55"/><circle cx="126.7" cy="551.0" r="2.55"/><circle cx="116.7" cy="549.8" r="2.55"/><circle cx="121.1" cy="550.4" r="2.55"/><circle cx="113.6" cy="551.0" r="2.55"/><circle cx="110.5" cy="552.5" r="2.55"/><circle cx="123.6" cy="552.3" r="2.55"/><circle cx="175.6" cy="551.0" r="2.55"/><circle cx="240.5" cy="553.3" r="2.55"/><circle cx="132.0" cy="553.6" r="2.55"/><circle cx="145.8" cy="553.9" r="2.55"/><circle cx="153.0" cy="554.2" r="2.55"/><circle cx="107.3" cy="554.2" r="2.55"/><circle cx="104.8" cy="555.1" r="2.55"/><circle cx="91.0" cy="556.4" r="2.55"/><circle cx="94.2" cy="557.3" r="2.55"/><circle cx="97.9" cy="556.7" r="2.55"/><circle cx="101.4" cy="556.4" r="2.55"/><circle cx="162.4" cy="555.4" r="2.55"/><circle cx="158.9" cy="556.9" r="2.55"/><circle cx="124.2" cy="556.7" r="2.55"/><circle cx="176.8" cy="556.7" r="2.55"/><circle cx="205.3" cy="555.7" r="2.55"/><circle cx="230.9" cy="555.7" r="2.55"/><circle cx="222.5" cy="556.1" r="2.55"/><circle cx="226.3" cy="556.1" r="2.55"/><circle cx="218.8" cy="558.8" r="2.55"/><circle cx="118.6" cy="559.2" r="2.55"/><circle cx="114.2" cy="560.1" r="2.55"/><circle cx="109.6" cy="560.7" r="2.55"/><circle cx="167.4" cy="559.6" r="2.55"/><circle cx="103.6" cy="559.8" r="2.55"/><circle cx="118.6" cy="562.3" r="2.55"/><circle cx="191.6" cy="561.1" r="2.55"/><circle cx="180.6" cy="562.3" r="2.55"/><circle cx="202.9" cy="562.3" r="2.55"/><circle cx="225.7" cy="562.1" r="2.55"/><circle cx="235.1" cy="563.3" r="2.55"/><circle cx="178.7" cy="563.8" r="2.55"/><circle cx="218.5" cy="563.9" r="2.55"/><circle cx="191.2" cy="565.1" r="2.55"/><circle cx="104.8" cy="564.8" r="2.55"/><circle cx="199.1" cy="565.8" r="2.55"/><circle cx="241.3" cy="566.7" r="2.55"/><circle cx="227.9" cy="568.0" r="2.55"/><circle cx="195.6" cy="568.6" r="2.55"/><circle cx="205.3" cy="568.6" r="2.55"/><circle cx="211.3" cy="568.2" r="2.55"/><circle cx="101.1" cy="569.2" r="2.55"/><circle cx="106.1" cy="569.8" r="2.55"/><circle cx="109.2" cy="570.1" r="2.55"/><circle cx="113.0" cy="570.2" r="2.55"/><circle cx="246.3" cy="569.2" r="2.55"/><circle cx="227.6" cy="571.1" r="2.55"/><circle cx="108.6" cy="572.3" r="2.55"/><circle cx="242.6" cy="572.3" r="2.55"/><circle cx="119.6" cy="574.0" r="2.55"/><circle cx="226.1" cy="575.2" r="2.55"/><circle cx="98.3" cy="576.7" r="2.55"/><circle cx="114.6" cy="577.1" r="2.55"/><circle cx="231.9" cy="578.8" r="2.55"/><circle cx="203.1" cy="581.1" r="2.55"/><circle cx="246.3" cy="583.9" r="2.55"/><circle cx="215.7" cy="585.9" r="2.55"/><circle cx="137.0" cy="588.9" r="2.55"/><circle cx="232.8" cy="592.1" r="2.55"/><circle cx="93.9" cy="601.5" r="2.55"/><circle cx="97.1" cy="603.4" r="2.55"/><circle cx="143.3" cy="603.3" r="2.55"/><circle cx="151.5" cy="607.4" r="2.55"/><circle cx="85.4" cy="608.0" r="2.55"/><circle cx="92.0" cy="608.0" r="2.55"/><circle cx="88.5" cy="610.5" r="2.55"/><circle cx="100.8" cy="611.2" r="2.55"/><circle cx="91.7" cy="612.8" r="2.55"/><circle cx="164.3" cy="612.7" r="2.55"/><circle cx="304.4" cy="536.4" r="2.55"/><circle cx="258.7" cy="538.3" r="2.55"/><circle cx="265.8" cy="539.4" r="2.55"/><circle cx="276.7" cy="539.4" r="2.55"/><circle cx="289.6" cy="541.0" r="2.55"/><circle cx="300.6" cy="540.0" r="2.55"/><circle cx="326.5" cy="540.8" r="2.55"/><circle cx="336.3" cy="538.3" r="2.55"/><circle cx="260.8" cy="546.7" r="2.55"/><circle cx="284.6" cy="546.7" r="2.55"/><circle cx="272.1" cy="548.8" r="2.55"/><circle cx="357.0" cy="547.9" r="2.55"/><circle cx="309.6" cy="552.5" r="2.55"/><circle cx="291.5" cy="554.8" r="2.55"/><circle cx="401.0" cy="553.8" r="2.55"/><circle cx="260.2" cy="557.3" r="2.55"/><circle cx="346.3" cy="560.1" r="2.55"/><circle cx="317.1" cy="561.3" r="2.55"/><circle cx="254.5" cy="569.8" r="2.55"/><circle cx="355.3" cy="570.7" r="2.55"/><circle cx="252.4" cy="576.7" r="2.55"/><circle cx="260.8" cy="577.3" r="2.55"/><circle cx="263.3" cy="577.3" r="2.55"/><circle cx="283.0" cy="578.6" r="2.55"/><circle cx="304.4" cy="581.4" r="2.55"/><circle cx="292.5" cy="584.2" r="2.55"/><circle cx="326.8" cy="583.6" r="2.55"/><circle cx="326.5" cy="587.0" r="2.55"/><circle cx="351.0" cy="589.2" r="2.55"/><circle cx="357.2" cy="588.6" r="2.55"/><circle cx="268.0" cy="591.7" r="2.55"/><circle cx="383.9" cy="599.9" r="2.55"/><circle cx="401.3" cy="604.6" r="2.55"/><circle cx="330.5" cy="606.5" r="2.55"/><circle cx="257.9" cy="608.7" r="2.55"/><circle cx="355.3" cy="609.5" r="2.55"/><circle cx="388.9" cy="614.0" r="2.55"/><circle cx="298.6" cy="624.3" r="2.55"/><circle cx="310.5" cy="625.8" r="2.55"/><circle cx="332.8" cy="632.7" r="2.55"/><circle cx="364.4" cy="641.5" r="2.55"/><circle cx="409.8" cy="653.7" r="2.55"/><circle cx="103.2" cy="556.0" r="2.55"/><circle cx="101.0" cy="560.1" r="2.55"/><circle cx="103.8" cy="562.0" r="2.55"/><circle cx="113.1" cy="552.7" r="2.55"/><circle cx="109.8" cy="554.3" r="2.55"/>
</g>
<g class="md"><circle cx="96.4" cy="545.2" r="3.8"/><circle cx="107.5" cy="528.0" r="3.8"/><circle cx="118.8" cy="490.1" r="3.8"/><circle cx="139.6" cy="481.2" r="3.8"/><circle cx="167.4" cy="520.1" r="3.8"/><circle cx="194.4" cy="512.0" r="3.8"/><circle cx="218.0" cy="527.3" r="3.8"/><circle cx="248.3" cy="536.7" r="3.8"/><circle cx="318.6" cy="570.8" r="3.8"/></g>
<path class="rg" clip-path="url(#cqe)" d="M79.0 668.0 79.2 665.5 79.4 663.0 79.5 660.5 79.8 658.0 80.0 655.5 80.2 653.0 80.5 650.5 80.8 648.0 81.0 645.5 81.3 643.0 81.6 640.5 81.9 638.0 82.2 635.5 82.6 633.0 82.9 630.5 83.3 628.0 83.6 625.5 84.0 623.0 84.4 620.5 84.8 618.0 85.1 615.5 85.5 613.1 85.8 610.6 86.2 608.1 86.5 605.6 86.8 603.1 87.2 600.6 87.5 598.1 87.9 595.6 88.2 593.1 88.6 590.6 88.9 588.1 89.3 585.6 89.7 583.2 90.1 580.7 90.4 578.2 90.8 575.7 91.3 573.2 91.7 570.7 92.1 568.3 92.6 565.8 93.1 563.3 93.6 560.9 94.1 558.4 94.6 555.9 95.2 553.5 95.8 551.0 96.4 548.6 97.0 546.2 97.7 543.7 98.4 541.3 99.2 538.9 99.9 536.5 100.6 534.1 101.2 531.7 101.9 529.2 102.7 526.9 103.6 524.5 104.7 522.3 105.8 520.0 107.0 517.7 108.2 515.5 109.3 513.3 110.5 511.0 111.8 508.8 113.0 506.6 114.4 504.5 115.8 502.5 117.4 500.6 119.2 498.6 121.1 496.9 123.2 495.5 125.3 494.5 127.8 493.6 130.3 493.0 132.8 492.8 135.3 493.0 137.8 493.4 140.2 493.9 142.7 494.5 145.1 495.2 147.5 496.0 149.8 497.0 152.2 497.9 154.5 498.8 156.9 499.7 159.2 500.6 161.6 501.5 163.9 502.5 166.2 503.5 168.5 504.5 170.7 505.6 173.0 506.8 175.2 507.9 177.5 509.1 179.7 510.2 181.9 511.4 184.2 512.5 186.4 513.6 188.7 514.8 190.9 515.9 193.2 516.9 195.5 517.9 197.8 518.9 200.1 519.9 202.4 521.0 204.7 522.0 207.0 523.1 209.2 524.3 211.5 525.4 213.7 526.6 216.0 527.7 218.2 528.8 220.4 530.0 222.7 531.1 225.0 532.2 227.2 533.2 229.5 534.3 231.8 535.3 234.1 536.4 236.4 537.4 238.7 538.4 241.0 539.5 243.3 540.5 245.6 541.6 247.8 542.6 250.1 543.7 252.4 544.8 254.7 545.8 256.9 546.9 259.2 548.0 261.5 549.1 263.8 550.2 266.0 551.3 268.3 552.4 270.6 553.4 272.9 554.5 275.2 555.5 277.5 556.4 279.8 557.4 282.1 558.3 284.5 559.2 286.8 560.1 289.2 561.0 291.6 561.9 293.9 562.7 296.3 563.6 298.7 564.4 301.0 565.2 303.4 566.1 305.8 566.9 308.2 567.7 310.6 568.4 313.0 569.2 315.4 570.0 317.8 570.7 320.2 571.5 322.6 572.2 325.0 572.9 327.4 573.6 329.8 574.3 332.3 575.0 334.7 575.7 337.1 576.4 339.5 577.1 342.0 577.7 344.4 578.4 346.8 579.0 349.3 579.7 351.7 580.3 354.1 580.9 356.6 581.6 359.0 582.2 361.4 582.8 363.9 583.4 366.3 584.0 368.8 584.6 371.2 585.2 373.7 585.8 376.1 586.4 378.6 586.9 381.0 587.5 383.5 588.0 385.9 588.6 388.4 589.1 390.8 589.7 393.3 590.2 395.8 590.7 398.2 591.2 400.7 591.7 403.1 592.2 405.6 592.7 408.1 593.2 410.6 593.7 413.0 594.1 415.5 594.6"/>
<text class="tk" x="70.9" y="681.1" text-anchor="middle">0</text>
<text class="tk" x="157.8" y="681.1" text-anchor="middle">1</text>
<text class="tk" x="244.6" y="681.1" text-anchor="middle">2</text>
<text class="tk" x="331.5" y="681.1" text-anchor="middle">3</text>
<text class="tk" x="418.4" y="681.1" text-anchor="middle">4</text>
<text class="tk" x="64.3" y="664.3" text-anchor="end">0.06</text>
<text class="tk" x="64.3" y="598.4" text-anchor="end">0.1</text>
<text class="tk" x="64.3" y="532.4" text-anchor="end">0.14</text>
<text class="tk" x="64.3" y="466.5" text-anchor="end">0.18</text>
<text class="tk" x="64.3" y="400.6" text-anchor="end">0.22</text>
<text class="lb" x="233.9" y="704.1">T<tspan class="sb" dx="-0.6" dy="9.3">p-s</tspan></text>
<text class="lb" transform="translate(17.5 534.3) rotate(-90)">u<tspan class="sb" dx="0" dy="9.3">d</tspan></text>
<text class="tt" x="88.5" y="430.3">(e) <tspan class="it">V</tspan><tspan class="it sm" dx="0.5" dy="9.8">p</tspan><tspan dx="0.2" dy="-9.8"> = 0.65</tspan><tspan class="it">m/s</tspan></text>
<text class="tt" x="288.3" y="635.7"><tspan class="it">R</tspan><tspan class="it sm" dx="0.3" dy="-10.3">2</tspan><tspan dx="0.4" dy="10.3"> = 0.87</tspan></text>
<rect x="248.5" y="404.5" width="161" height="61" fill="#fff" stroke="#404040" stroke-width="1"/>
<circle cx="268.3" cy="415.9" r="3.8" fill="#0ff"/>
<circle cx="268.3" cy="435.3" r="3.4" fill="#edb120" stroke="#000" stroke-width="1"/>
<path d="M251.6 454.6h33.4" stroke="#000" stroke-width="2.3" stroke-dasharray="7.2 5.8" fill="none"/>
<text class="lg" x="287.0" y="421.5">Original data</text>
<text class="lg" x="287.0" y="441.1">Mean data</text>
<text class="lg" x="287.0" y="460.5">Regression model</text>
</g>
<g id="panel-f">
<clipPath id="cpf"><rect x="530.8" y="392.2" width="353.5" height="269.7"/></clipPath>
<clipPath id="cqf"><rect x="532.3" y="393.7" width="350.5" height="265.8"/></clipPath>
<path class="gr" d="M620.5 658.9V395.2M707.5 658.9V395.2M794.5 658.9V395.2M533.8 605.5H881.3M533.8 553.5H881.3M533.8 500.5H881.3M533.8 447.5H881.3"/>
<path class="ax" d="M533.8 395.2H881.3V658.9H533.8ZM620.5 658.9v-4.2M620.5 395.2v4.2M707.5 658.9v-4.2M707.5 395.2v4.2M794.5 658.9v-4.2M794.5 395.2v4.2M533.8 605.5h4.2M881.3 605.5h-4.2M533.8 553.5h4.2M881.3 553.5h-4.2M533.8 500.5h4.2M881.3 500.5h-4.2M533.8 447.5h4.2M881.3 447.5h-4.2"/>
<g class="od" clip-path="url(#cpf)">
<circle cx="608.8" cy="395.4" r="2.55"/><circle cx="695.4" cy="419.6" r="2.55"/><circle cx="653.2" cy="424.9" r="2.55"/><circle cx="673.3" cy="425.6" r="2.55"/><circle cx="658.9" cy="432.3" r="2.55"/><circle cx="647.6" cy="437.7" r="2.55"/><circle cx="551.8" cy="441.2" r="2.55"/><circle cx="582.7" cy="442.1" r="2.55"/><circle cx="664.5" cy="443.1" r="2.55"/><circle cx="574.3" cy="445.2" r="2.55"/><circle cx="668.0" cy="445.6" r="2.55"/><circle cx="675.2" cy="444.8" r="2.55"/><circle cx="553.7" cy="447.7" r="2.55"/><circle cx="688.3" cy="448.4" r="2.55"/><circle cx="578.5" cy="451.1" r="2.55"/><circle cx="586.9" cy="449.9" r="2.55"/><circle cx="597.1" cy="451.9" r="2.55"/><circle cx="603.1" cy="452.1" r="2.55"/><circle cx="680.5" cy="453.4" r="2.55"/><circle cx="555.9" cy="454.0" r="2.55"/><circle cx="589.0" cy="454.0" r="2.55"/><circle cx="594.0" cy="454.2" r="2.55"/><circle cx="706.8" cy="454.6" r="2.55"/><circle cx="608.2" cy="456.9" r="2.55"/><circle cx="583.5" cy="459.9" r="2.55"/><circle cx="578.5" cy="463.6" r="2.55"/><circle cx="600.4" cy="463.4" r="2.55"/><circle cx="697.9" cy="464.3" r="2.55"/><circle cx="604.4" cy="470.5" r="2.55"/><circle cx="564.3" cy="474.0" r="2.55"/><circle cx="568.3" cy="474.7" r="2.55"/><circle cx="561.4" cy="475.7" r="2.55"/><circle cx="591.2" cy="474.0" r="2.55"/><circle cx="593.7" cy="475.7" r="2.55"/><circle cx="608.2" cy="474.7" r="2.55"/><circle cx="599.1" cy="476.5" r="2.55"/><circle cx="615.3" cy="477.2" r="2.55"/><circle cx="627.8" cy="477.4" r="2.55"/><circle cx="644.1" cy="478.2" r="2.55"/><circle cx="654.5" cy="479.3" r="2.55"/><circle cx="680.2" cy="476.5" r="2.55"/><circle cx="606.9" cy="478.8" r="2.55"/><circle cx="702.7" cy="479.9" r="2.55"/><circle cx="573.5" cy="481.5" r="2.55"/><circle cx="592.1" cy="482.2" r="2.55"/><circle cx="611.3" cy="482.2" r="2.55"/><circle cx="618.2" cy="484.0" r="2.55"/><circle cx="668.9" cy="482.4" r="2.55"/><circle cx="559.3" cy="486.8" r="2.55"/><circle cx="621.9" cy="489.9" r="2.55"/><circle cx="689.9" cy="490.3" r="2.55"/><circle cx="597.3" cy="491.8" r="2.55"/><circle cx="605.4" cy="490.3" r="2.55"/><circle cx="636.7" cy="492.2" r="2.55"/><circle cx="620.0" cy="492.8" r="2.55"/><circle cx="616.3" cy="495.3" r="2.55"/><circle cx="620.3" cy="498.4" r="2.55"/><circle cx="562.4" cy="504.3" r="2.55"/><circle cx="625.1" cy="505.1" r="2.55"/><circle cx="630.4" cy="505.1" r="2.55"/><circle cx="643.2" cy="503.8" r="2.55"/><circle cx="699.9" cy="505.1" r="2.55"/><circle cx="646.6" cy="508.2" r="2.55"/><circle cx="591.5" cy="507.8" r="2.55"/><circle cx="583.7" cy="509.3" r="2.55"/><circle cx="578.5" cy="512.5" r="2.55"/><circle cx="565.3" cy="515.4" r="2.55"/><circle cx="653.9" cy="515.4" r="2.55"/><circle cx="648.9" cy="516.9" r="2.55"/><circle cx="642.0" cy="517.9" r="2.55"/><circle cx="633.2" cy="519.5" r="2.55"/><circle cx="574.3" cy="519.1" r="2.55"/><circle cx="577.7" cy="519.7" r="2.55"/><circle cx="638.8" cy="522.2" r="2.55"/><circle cx="578.1" cy="524.5" r="2.55"/><circle cx="668.3" cy="527.3" r="2.55"/><circle cx="608.8" cy="527.9" r="2.55"/><circle cx="733.6" cy="466.8" r="2.55"/><circle cx="723.5" cy="475.5" r="2.55"/><circle cx="715.9" cy="506.8" r="2.55"/><circle cx="737.3" cy="510.7" r="2.55"/><circle cx="768.9" cy="527.3" r="2.55"/><circle cx="659.5" cy="530.1" r="2.55"/><circle cx="564.7" cy="532.9" r="2.55"/><circle cx="571.2" cy="533.1" r="2.55"/><circle cx="583.4" cy="532.6" r="2.55"/><circle cx="590.6" cy="534.1" r="2.55"/><circle cx="646.1" cy="532.9" r="2.55"/><circle cx="615.3" cy="536.9" r="2.55"/><circle cx="567.8" cy="534.5" r="2.55"/><circle cx="577.2" cy="541.3" r="2.55"/><circle cx="581.6" cy="541.7" r="2.55"/><circle cx="688.7" cy="542.3" r="2.55"/><circle cx="657.0" cy="543.5" r="2.55"/><circle cx="589.0" cy="545.2" r="2.55"/><circle cx="577.1" cy="545.4" r="2.55"/><circle cx="625.1" cy="545.8" r="2.55"/><circle cx="646.6" cy="545.8" r="2.55"/><circle cx="612.5" cy="548.9" r="2.55"/><circle cx="618.8" cy="549.8" r="2.55"/><circle cx="667.0" cy="549.2" r="2.55"/><circle cx="568.1" cy="550.4" r="2.55"/><circle cx="571.2" cy="551.0" r="2.55"/><circle cx="574.3" cy="551.0" r="2.55"/><circle cx="581.2" cy="550.4" r="2.55"/><circle cx="703.3" cy="550.4" r="2.55"/><circle cx="620.3" cy="552.9" r="2.55"/><circle cx="630.3" cy="553.8" r="2.55"/><circle cx="657.2" cy="553.9" r="2.55"/><circle cx="667.6" cy="552.7" r="2.55"/><circle cx="671.4" cy="555.8" r="2.55"/><circle cx="557.4" cy="556.7" r="2.55"/><circle cx="561.2" cy="556.7" r="2.55"/><circle cx="565.2" cy="557.9" r="2.55"/><circle cx="568.7" cy="558.8" r="2.55"/><circle cx="571.2" cy="558.6" r="2.55"/><circle cx="578.5" cy="557.9" r="2.55"/><circle cx="586.5" cy="558.2" r="2.55"/><circle cx="645.3" cy="557.3" r="2.55"/><circle cx="679.9" cy="556.4" r="2.55"/><circle cx="627.6" cy="558.8" r="2.55"/><circle cx="639.1" cy="559.8" r="2.55"/><circle cx="564.3" cy="560.4" r="2.55"/><circle cx="692.7" cy="561.7" r="2.55"/><circle cx="697.9" cy="562.1" r="2.55"/><circle cx="571.8" cy="563.2" r="2.55"/><circle cx="577.7" cy="565.4" r="2.55"/><circle cx="568.1" cy="566.1" r="2.55"/><circle cx="564.9" cy="566.7" r="2.55"/><circle cx="571.8" cy="566.7" r="2.55"/><circle cx="672.0" cy="564.2" r="2.55"/><circle cx="643.2" cy="567.3" r="2.55"/><circle cx="585.6" cy="568.3" r="2.55"/><circle cx="594.8" cy="569.2" r="2.55"/><circle cx="575.0" cy="570.7" r="2.55"/><circle cx="638.5" cy="570.5" r="2.55"/><circle cx="653.6" cy="573.3" r="2.55"/><circle cx="667.3" cy="573.3" r="2.55"/><circle cx="621.9" cy="574.6" r="2.55"/><circle cx="581.5" cy="575.5" r="2.55"/><circle cx="655.1" cy="576.1" r="2.55"/><circle cx="657.6" cy="579.2" r="2.55"/><circle cx="693.3" cy="578.8" r="2.55"/><circle cx="630.3" cy="579.9" r="2.55"/><circle cx="668.3" cy="582.0" r="2.55"/><circle cx="608.5" cy="583.4" r="2.55"/><circle cx="615.7" cy="583.9" r="2.55"/><circle cx="654.2" cy="583.9" r="2.55"/><circle cx="625.4" cy="584.6" r="2.55"/><circle cx="668.3" cy="584.9" r="2.55"/><circle cx="679.9" cy="584.9" r="2.55"/><circle cx="639.1" cy="587.4" r="2.55"/><circle cx="642.0" cy="587.4" r="2.55"/><circle cx="665.5" cy="589.0" r="2.55"/><circle cx="555.8" cy="591.7" r="2.55"/><circle cx="564.3" cy="591.5" r="2.55"/><circle cx="559.1" cy="594.0" r="2.55"/><circle cx="561.8" cy="595.3" r="2.55"/><circle cx="643.5" cy="593.6" r="2.55"/><circle cx="681.0" cy="594.6" r="2.55"/><circle cx="688.3" cy="594.6" r="2.55"/><circle cx="697.1" cy="595.5" r="2.55"/><circle cx="658.5" cy="596.1" r="2.55"/><circle cx="653.9" cy="598.0" r="2.55"/><circle cx="661.6" cy="599.0" r="2.55"/><circle cx="684.5" cy="598.0" r="2.55"/><circle cx="673.9" cy="599.6" r="2.55"/><circle cx="682.0" cy="597.4" r="2.55"/><circle cx="567.4" cy="598.6" r="2.55"/><circle cx="571.2" cy="599.9" r="2.55"/><circle cx="562.8" cy="600.8" r="2.55"/><circle cx="575.6" cy="601.8" r="2.55"/><circle cx="571.8" cy="602.1" r="2.55"/><circle cx="668.0" cy="602.0" r="2.55"/><circle cx="690.4" cy="601.5" r="2.55"/><circle cx="697.9" cy="602.1" r="2.55"/><circle cx="582.2" cy="604.0" r="2.55"/><circle cx="704.3" cy="603.9" r="2.55"/><circle cx="708.3" cy="605.1" r="2.55"/><circle cx="566.2" cy="605.9" r="2.55"/><circle cx="571.5" cy="605.1" r="2.55"/><circle cx="698.3" cy="604.6" r="2.55"/><circle cx="688.9" cy="608.3" r="2.55"/><circle cx="571.5" cy="609.9" r="2.55"/><circle cx="665.8" cy="610.2" r="2.55"/><circle cx="577.2" cy="611.5" r="2.55"/><circle cx="678.3" cy="614.5" r="2.55"/><circle cx="694.3" cy="614.5" r="2.55"/><circle cx="599.4" cy="617.4" r="2.55"/><circle cx="605.9" cy="618.7" r="2.55"/><circle cx="614.4" cy="620.8" r="2.55"/><circle cx="695.6" cy="620.2" r="2.55"/><circle cx="708.3" cy="619.3" r="2.55"/><circle cx="557.4" cy="620.8" r="2.55"/><circle cx="559.7" cy="621.8" r="2.55"/><circle cx="554.9" cy="623.7" r="2.55"/><circle cx="626.9" cy="624.9" r="2.55"/><circle cx="548.0" cy="626.8" r="2.55"/><circle cx="563.3" cy="627.4" r="2.55"/><circle cx="551.8" cy="629.3" r="2.55"/><circle cx="554.5" cy="630.6" r="2.55"/><circle cx="728.5" cy="555.2" r="2.55"/><circle cx="752.3" cy="557.9" r="2.55"/><circle cx="767.2" cy="557.3" r="2.55"/><circle cx="723.2" cy="559.8" r="2.55"/><circle cx="747.2" cy="562.1" r="2.55"/><circle cx="789.3" cy="561.4" r="2.55"/><circle cx="799.2" cy="560.2" r="2.55"/><circle cx="720.9" cy="563.6" r="2.55"/><circle cx="739.2" cy="565.2" r="2.55"/><circle cx="763.5" cy="565.2" r="2.55"/><circle cx="819.3" cy="567.3" r="2.55"/><circle cx="723.2" cy="571.3" r="2.55"/><circle cx="772.3" cy="571.7" r="2.55"/><circle cx="863.7" cy="578.0" r="2.55"/><circle cx="734.7" cy="584.0" r="2.55"/><circle cx="809.3" cy="590.9" r="2.55"/><circle cx="753.8" cy="594.0" r="2.55"/><circle cx="780.1" cy="601.8" r="2.55"/><circle cx="722.5" cy="602.1" r="2.55"/><circle cx="714.6" cy="605.1" r="2.55"/><circle cx="717.1" cy="607.4" r="2.55"/><circle cx="725.4" cy="608.3" r="2.55"/><circle cx="818.1" cy="609.3" r="2.55"/><circle cx="723.8" cy="613.7" r="2.55"/><circle cx="745.5" cy="612.8" r="2.55"/><circle cx="755.1" cy="614.5" r="2.55"/><circle cx="767.2" cy="614.3" r="2.55"/><circle cx="789.5" cy="615.8" r="2.55"/><circle cx="813.6" cy="619.0" r="2.55"/><circle cx="819.8" cy="618.9" r="2.55"/><circle cx="730.7" cy="622.4" r="2.55"/><circle cx="846.5" cy="622.4" r="2.55"/><circle cx="793.3" cy="623.4" r="2.55"/><circle cx="863.8" cy="624.3" r="2.55"/><circle cx="817.7" cy="625.8" r="2.55"/><circle cx="851.5" cy="626.8" r="2.55"/><circle cx="720.4" cy="627.4" r="2.55"/><circle cx="761.4" cy="628.9" r="2.55"/><circle cx="773.6" cy="628.3" r="2.55"/><circle cx="795.5" cy="634.7" r="2.55"/><circle cx="827.1" cy="650.6" r="2.55"/>
</g>
<g class="md"><circle cx="558.9" cy="563.6" r="3.8"/><circle cx="570.3" cy="543.3" r="3.8"/><circle cx="581.5" cy="501.6" r="3.8"/><circle cx="602.3" cy="493.2" r="3.8"/><circle cx="630.1" cy="539.1" r="3.8"/><circle cx="657.0" cy="534.5" r="3.8"/><circle cx="680.4" cy="552.3" r="3.8"/><circle cx="710.9" cy="563.2" r="3.8"/><circle cx="781.4" cy="594.0" r="3.8"/></g>
<path class="rg" clip-path="url(#cqf)" d="M542.6 668.0 542.8 665.5 543.1 663.0 543.4 660.5 543.6 658.0 543.9 655.5 544.3 653.0 544.6 650.5 544.9 648.0 545.3 645.5 545.6 643.0 545.9 640.6 546.3 638.1 546.6 635.6 547.0 633.1 547.3 630.6 547.6 628.1 548.0 625.6 548.3 623.1 548.7 620.6 549.0 618.1 549.4 615.7 549.7 613.2 550.1 610.7 550.5 608.2 550.9 605.7 551.3 603.2 551.7 600.7 552.1 598.3 552.5 595.8 552.9 593.3 553.3 590.8 553.7 588.3 554.1 585.9 554.5 583.4 554.9 580.9 555.3 578.4 555.8 575.9 556.2 573.5 556.7 571.0 557.1 568.5 557.6 566.1 558.1 563.6 558.6 561.1 559.1 558.7 559.6 556.2 560.1 553.8 560.7 551.3 561.3 548.9 561.9 546.4 562.5 544.0 563.2 541.6 563.9 539.1 564.6 536.7 565.4 534.3 566.3 532.0 567.1 529.6 568.1 527.3 569.1 525.0 570.3 522.8 571.5 520.6 572.8 518.4 574.1 516.3 575.4 514.1 576.8 511.8 578.2 509.6 579.7 507.6 581.3 505.8 583.1 504.4 585.3 503.0 587.7 501.9 590.1 501.1 592.5 500.6 595.0 500.2 597.6 500.0 600.0 500.2 602.5 500.7 604.9 501.6 607.3 502.5 609.6 503.3 611.9 504.4 614.1 505.5 616.4 506.7 618.6 508.0 620.8 509.1 623.0 510.3 625.2 511.5 627.5 512.7 629.7 513.9 631.9 515.1 634.0 516.3 636.2 517.6 638.4 518.9 640.6 520.1 642.7 521.4 644.9 522.8 647.0 524.1 649.1 525.5 651.2 526.9 653.3 528.2 655.4 529.6 657.5 530.9 659.7 532.3 661.8 533.6 664.0 534.9 666.1 536.2 668.3 537.5 670.4 538.8 672.6 540.1 674.7 541.4 676.9 542.6 679.0 543.9 681.2 545.2 683.3 546.6 685.5 547.9 687.6 549.1 689.8 550.4 692.0 551.7 694.2 552.9 696.4 554.1 698.6 555.3 700.8 556.5 703.0 557.7 705.2 559.0 707.4 560.2 709.6 561.4 711.8 562.6 714.1 563.6 716.4 564.6 718.7 565.6 721.0 566.6 723.3 567.7 725.6 568.8 727.8 569.9 730.0 571.1 732.3 572.2 734.5 573.4 736.7 574.6 739.0 575.8 741.2 576.9 743.4 578.0 745.7 579.1 748.0 580.1 750.3 581.1 752.6 582.1 754.9 583.1 757.2 584.0 759.6 585.0 761.9 585.9 764.3 586.8 766.6 587.7 769.0 588.5 771.4 589.4 773.7 590.2 776.1 591.0 778.5 591.9 780.9 592.7 783.2 593.4 785.6 594.2 788.0 595.0 790.4 595.7 792.8 596.4 795.3 597.1 797.7 597.8 800.1 598.5 802.5 599.2 804.9 599.9 807.3 600.6 809.8 601.3 812.2 602.0 814.6 602.7 817.0 603.4 819.4 604.1 821.8 604.8 824.3 605.4 826.7 606.1 829.1 606.8 831.5 607.5 834.0 608.1 836.4 608.8 838.8 609.4 841.2 610.1 843.7 610.7 846.1 611.4 848.5 612.0 851.0 612.6 853.4 613.3 855.8 613.9 858.3 614.5 860.7 615.1 863.1 615.7 865.6 616.3 868.0 616.9 870.5 617.5 872.9 618.1 875.4 618.7 877.8 619.3"/>
<text class="tk" x="533.6" y="681.1" text-anchor="middle">0</text>
<text class="tk" x="620.5" y="681.1" text-anchor="middle">1</text>
<text class="tk" x="707.3" y="681.1" text-anchor="middle">2</text>
<text class="tk" x="794.2" y="681.1" text-anchor="middle">3</text>
<text class="tk" x="881.1" y="681.1" text-anchor="middle">4</text>
<text class="tk" x="526.8" y="664.3" text-anchor="end">0.08</text>
<text class="tk" x="526.8" y="611.6" text-anchor="end">0.12</text>
<text class="tk" x="526.8" y="558.8" text-anchor="end">0.16</text>
<text class="tk" x="526.8" y="506.1" text-anchor="end">0.2</text>
<text class="tk" x="526.8" y="453.3" text-anchor="end">0.24</text>
<text class="tk" x="526.8" y="400.6" text-anchor="end">0.28</text>
<text class="lb" x="696.4" y="704.1">T<tspan class="sb" dx="-0.6" dy="9.3">p-s</tspan></text>
<text class="lb" transform="translate(480.0 534.3) rotate(-90)">u<tspan class="sb" dx="0" dy="9.3">d</tspan></text>
<text class="tt" x="551.5" y="437.2">(f) <tspan class="it">V</tspan><tspan class="it sm" dx="0.5" dy="9.8">p</tspan><tspan dx="0.2" dy="-9.8"> = 0.75</tspan><tspan class="it">m/s</tspan></text>
<text class="tt" x="751.3" y="642.6"><tspan class="it">R</tspan><tspan class="it sm" dx="0.3" dy="-10.3">2</tspan><tspan dx="0.4" dy="10.3"> = 0.88</tspan></text>
<rect x="711.5" y="404.5" width="161" height="61" fill="#fff" stroke="#404040" stroke-width="1"/>
<circle cx="731.3" cy="415.9" r="3.8" fill="#0ff"/>
<circle cx="731.3" cy="435.3" r="3.4" fill="#edb120" stroke="#000" stroke-width="1"/>
<path d="M714.6 454.6h33.4" stroke="#000" stroke-width="2.3" stroke-dasharray="7.2 5.8" fill="none"/>
<text class="lg" x="750.0" y="421.5">Original data</text>
<text class="lg" x="750.0" y="441.1">Mean data</text>
<text class="lg" x="750.0" y="460.5">Regression model</text>
</g>
<g id="panel-g">
<clipPath id="cpg"><rect x="993.5" y="392.2" width="353.5" height="269.7"/></clipPath>
<clipPath id="cqg"><rect x="995.0" y="393.7" width="350.5" height="265.8"/></clipPath>
<path class="gr" d="M1083.5 658.9V395.2M1170.5 658.9V395.2M1257.5 658.9V395.2M996.5 570.5H1344.0M996.5 482.5H1344.0"/>
<path class="ax" d="M996.5 395.2H1344.0V658.9H996.5ZM1083.5 658.9v-4.2M1083.5 395.2v4.2M1170.5 658.9v-4.2M1170.5 395.2v4.2M1257.5 658.9v-4.2M1257.5 395.2v4.2M996.5 570.5h4.2M1344.0 570.5h-4.2M996.5 482.5h4.2M1344.0 482.5h-4.2"/>
<g class="od" clip-path="url(#cpg)">
<circle cx="1116.1" cy="397.4" r="2.55"/><circle cx="1127.4" cy="409.5" r="2.55"/><circle cx="1157.8" cy="411.8" r="2.55"/><circle cx="1136.1" cy="418.3" r="2.55"/><circle cx="1037.2" cy="421.4" r="2.55"/><circle cx="1041.7" cy="424.8" r="2.55"/><circle cx="1045.7" cy="424.8" r="2.55"/><circle cx="1121.2" cy="424.2" r="2.55"/><circle cx="1070.8" cy="424.8" r="2.55"/><circle cx="1051.4" cy="426.7" r="2.55"/><circle cx="1060.1" cy="426.7" r="2.55"/><circle cx="1041.3" cy="429.2" r="2.55"/><circle cx="1110.2" cy="430.4" r="2.55"/><circle cx="1137.8" cy="431.7" r="2.55"/><circle cx="1151.2" cy="435.0" r="2.55"/><circle cx="1077.7" cy="439.2" r="2.55"/><circle cx="1132.4" cy="437.1" r="2.55"/><circle cx="1169.1" cy="440.2" r="2.55"/><circle cx="1065.8" cy="442.5" r="2.55"/><circle cx="1143.2" cy="445.0" r="2.55"/><circle cx="1014.4" cy="448.7" r="2.55"/><circle cx="1053.9" cy="451.7" r="2.55"/><circle cx="1063.0" cy="451.7" r="2.55"/><circle cx="1030.7" cy="454.2" r="2.55"/><circle cx="1090.2" cy="454.2" r="2.55"/><circle cx="1160.6" cy="454.6" r="2.55"/><circle cx="1027.6" cy="456.7" r="2.55"/><circle cx="1066.8" cy="456.1" r="2.55"/><circle cx="1016.0" cy="458.4" r="2.55"/><circle cx="1024.2" cy="460.3" r="2.55"/><circle cx="1056.0" cy="460.0" r="2.55"/><circle cx="1061.6" cy="460.9" r="2.55"/><circle cx="1162.8" cy="463.6" r="2.55"/><circle cx="1165.7" cy="462.8" r="2.55"/><circle cx="1087.7" cy="463.1" r="2.55"/><circle cx="1084.8" cy="464.4" r="2.55"/><circle cx="1069.8" cy="463.8" r="2.55"/><circle cx="1054.5" cy="464.3" r="2.55"/><circle cx="1036.1" cy="465.0" r="2.55"/><circle cx="1099.3" cy="466.5" r="2.55"/><circle cx="1018.6" cy="467.1" r="2.55"/><circle cx="1073.5" cy="467.8" r="2.55"/><circle cx="1080.8" cy="470.9" r="2.55"/><circle cx="1099.3" cy="470.9" r="2.55"/><circle cx="1106.5" cy="474.0" r="2.55"/><circle cx="1117.1" cy="474.3" r="2.55"/><circle cx="1060.5" cy="474.4" r="2.55"/><circle cx="1131.3" cy="476.3" r="2.55"/><circle cx="1021.9" cy="477.2" r="2.55"/><circle cx="1025.1" cy="480.5" r="2.55"/><circle cx="1106.1" cy="480.3" r="2.55"/><circle cx="1092.7" cy="481.8" r="2.55"/><circle cx="1109.2" cy="483.0" r="2.55"/><circle cx="1152.4" cy="483.0" r="2.55"/><circle cx="1067.9" cy="484.0" r="2.55"/><circle cx="1078.9" cy="485.3" r="2.55"/><circle cx="1082.9" cy="484.7" r="2.55"/><circle cx="1082.7" cy="487.4" r="2.55"/><circle cx="1027.8" cy="492.6" r="2.55"/><circle cx="1116.7" cy="492.4" r="2.55"/><circle cx="1111.5" cy="494.1" r="2.55"/><circle cx="1039.7" cy="496.9" r="2.55"/><circle cx="1101.8" cy="501.8" r="2.55"/><circle cx="1054.2" cy="502.8" r="2.55"/><circle cx="1104.3" cy="504.7" r="2.55"/><circle cx="1046.4" cy="505.1" r="2.55"/><circle cx="1096.2" cy="506.2" r="2.55"/><circle cx="1031.3" cy="506.2" r="2.55"/><circle cx="1034.2" cy="508.1" r="2.55"/><circle cx="1130.5" cy="506.3" r="2.55"/><circle cx="1122.7" cy="508.1" r="2.55"/><circle cx="1041.0" cy="508.5" r="2.55"/><circle cx="1150.9" cy="509.7" r="2.55"/><circle cx="1030.1" cy="513.1" r="2.55"/><circle cx="1045.7" cy="514.1" r="2.55"/><circle cx="1026.9" cy="516.6" r="2.55"/><circle cx="1071.0" cy="518.5" r="2.55"/><circle cx="1165.7" cy="518.2" r="2.55"/><circle cx="1037.0" cy="517.2" r="2.55"/><circle cx="1040.7" cy="519.7" r="2.55"/><circle cx="1108.6" cy="519.7" r="2.55"/><circle cx="1043.9" cy="523.2" r="2.55"/><circle cx="1027.6" cy="524.7" r="2.55"/><circle cx="1051.4" cy="525.4" r="2.55"/><circle cx="1151.9" cy="525.8" r="2.55"/><circle cx="1024.4" cy="527.9" r="2.55"/><circle cx="1038.8" cy="527.9" r="2.55"/><circle cx="1178.5" cy="470.5" r="2.55"/><circle cx="1186.2" cy="469.3" r="2.55"/><circle cx="1199.9" cy="485.3" r="2.55"/><circle cx="1231.5" cy="512.6" r="2.55"/><circle cx="1185.8" cy="527.3" r="2.55"/><circle cx="1044.5" cy="529.1" r="2.55"/><circle cx="1078.0" cy="529.5" r="2.55"/><circle cx="1119.0" cy="529.1" r="2.55"/><circle cx="1023.6" cy="530.1" r="2.55"/><circle cx="1048.9" cy="531.4" r="2.55"/><circle cx="1053.5" cy="531.4" r="2.55"/><circle cx="1040.5" cy="531.9" r="2.55"/><circle cx="1109.3" cy="531.9" r="2.55"/><circle cx="1129.6" cy="532.9" r="2.55"/><circle cx="1025.4" cy="534.5" r="2.55"/><circle cx="1039.7" cy="535.8" r="2.55"/><circle cx="1075.2" cy="536.3" r="2.55"/><circle cx="1031.3" cy="537.3" r="2.55"/><circle cx="1035.7" cy="537.9" r="2.55"/><circle cx="1087.7" cy="537.6" r="2.55"/><circle cx="1021.9" cy="540.8" r="2.55"/><circle cx="1033.0" cy="540.4" r="2.55"/><circle cx="1037.0" cy="541.0" r="2.55"/><circle cx="1119.9" cy="540.8" r="2.55"/><circle cx="1019.7" cy="544.8" r="2.55"/><circle cx="1026.9" cy="545.4" r="2.55"/><circle cx="1030.7" cy="546.0" r="2.55"/><circle cx="1034.5" cy="544.8" r="2.55"/><circle cx="1041.0" cy="546.4" r="2.55"/><circle cx="1057.6" cy="545.2" r="2.55"/><circle cx="1082.7" cy="543.5" r="2.55"/><circle cx="1081.4" cy="546.9" r="2.55"/><circle cx="1130.3" cy="543.9" r="2.55"/><circle cx="1134.0" cy="548.3" r="2.55"/><circle cx="1092.9" cy="550.2" r="2.55"/><circle cx="1101.7" cy="549.8" r="2.55"/><circle cx="1108.0" cy="552.7" r="2.55"/><circle cx="1134.4" cy="552.7" r="2.55"/><circle cx="1143.2" cy="552.3" r="2.55"/><circle cx="1033.2" cy="554.8" r="2.55"/><circle cx="1048.0" cy="555.4" r="2.55"/><circle cx="1089.8" cy="554.8" r="2.55"/><circle cx="1084.3" cy="558.9" r="2.55"/><circle cx="1155.3" cy="557.9" r="2.55"/><circle cx="1160.6" cy="557.7" r="2.55"/><circle cx="1129.6" cy="560.4" r="2.55"/><circle cx="1037.6" cy="563.8" r="2.55"/><circle cx="1044.1" cy="562.9" r="2.55"/><circle cx="1092.7" cy="563.6" r="2.55"/><circle cx="1101.1" cy="563.6" r="2.55"/><circle cx="1105.8" cy="564.8" r="2.55"/><circle cx="1117.1" cy="562.9" r="2.55"/><circle cx="1116.1" cy="569.8" r="2.55"/><circle cx="1104.2" cy="570.7" r="2.55"/><circle cx="1155.9" cy="569.8" r="2.55"/><circle cx="1030.5" cy="575.2" r="2.55"/><circle cx="1071.2" cy="575.1" r="2.55"/><circle cx="1078.3" cy="575.5" r="2.55"/><circle cx="1088.1" cy="576.5" r="2.55"/><circle cx="1116.9" cy="574.8" r="2.55"/><circle cx="1142.4" cy="575.8" r="2.55"/><circle cx="1130.3" cy="577.3" r="2.55"/><circle cx="1102.3" cy="578.6" r="2.55"/><circle cx="1127.8" cy="579.9" r="2.55"/><circle cx="1027.2" cy="580.7" r="2.55"/><circle cx="1033.8" cy="580.7" r="2.55"/><circle cx="1150.9" cy="580.5" r="2.55"/><circle cx="1120.9" cy="582.0" r="2.55"/><circle cx="1106.1" cy="584.5" r="2.55"/><circle cx="1016.3" cy="584.9" r="2.55"/><circle cx="1020.7" cy="587.4" r="2.55"/><circle cx="1120.0" cy="586.5" r="2.55"/><circle cx="1038.2" cy="587.7" r="2.55"/><circle cx="1130.5" cy="587.6" r="2.55"/><circle cx="1025.1" cy="589.6" r="2.55"/><circle cx="1030.1" cy="590.2" r="2.55"/><circle cx="1116.5" cy="589.9" r="2.55"/><circle cx="1124.4" cy="589.2" r="2.55"/><circle cx="1136.5" cy="590.2" r="2.55"/><circle cx="1144.0" cy="589.6" r="2.55"/><circle cx="1131.5" cy="592.4" r="2.55"/><circle cx="1153.2" cy="593.6" r="2.55"/><circle cx="1159.9" cy="593.0" r="2.55"/><circle cx="1044.7" cy="595.5" r="2.55"/><circle cx="1130.5" cy="595.9" r="2.55"/><circle cx="1023.2" cy="598.0" r="2.55"/><circle cx="1143.8" cy="598.0" r="2.55"/><circle cx="1147.8" cy="599.9" r="2.55"/><circle cx="1167.8" cy="598.9" r="2.55"/><circle cx="1026.3" cy="601.1" r="2.55"/><circle cx="1033.8" cy="602.1" r="2.55"/><circle cx="1029.4" cy="603.9" r="2.55"/><circle cx="1151.6" cy="605.3" r="2.55"/><circle cx="1160.3" cy="604.6" r="2.55"/><circle cx="1166.6" cy="606.5" r="2.55"/><circle cx="1033.8" cy="607.7" r="2.55"/><circle cx="1039.7" cy="611.5" r="2.55"/><circle cx="1062.3" cy="611.2" r="2.55"/><circle cx="1068.3" cy="612.0" r="2.55"/><circle cx="1077.0" cy="613.7" r="2.55"/><circle cx="1128.4" cy="611.8" r="2.55"/><circle cx="1161.2" cy="612.2" r="2.55"/><circle cx="1170.3" cy="611.2" r="2.55"/><circle cx="1140.9" cy="614.3" r="2.55"/><circle cx="1089.6" cy="616.5" r="2.55"/><circle cx="1156.9" cy="616.2" r="2.55"/><circle cx="1158.2" cy="618.9" r="2.55"/><circle cx="1170.3" cy="616.2" r="2.55"/><circle cx="1019.4" cy="619.3" r="2.55"/><circle cx="1022.6" cy="619.9" r="2.55"/><circle cx="1010.0" cy="622.2" r="2.55"/><circle cx="1013.8" cy="622.4" r="2.55"/><circle cx="1016.9" cy="623.9" r="2.55"/><circle cx="1025.9" cy="624.9" r="2.55"/><circle cx="1215.2" cy="538.1" r="2.55"/><circle cx="1191.2" cy="543.2" r="2.55"/><circle cx="1261.6" cy="542.3" r="2.55"/><circle cx="1209.6" cy="550.0" r="2.55"/><circle cx="1229.6" cy="551.9" r="2.55"/><circle cx="1226.1" cy="553.3" r="2.55"/><circle cx="1251.8" cy="556.1" r="2.55"/><circle cx="1183.9" cy="559.4" r="2.55"/><circle cx="1201.8" cy="561.3" r="2.55"/><circle cx="1234.9" cy="561.1" r="2.55"/><circle cx="1282.2" cy="561.4" r="2.55"/><circle cx="1185.8" cy="565.4" r="2.55"/><circle cx="1326.0" cy="570.7" r="2.55"/><circle cx="1271.8" cy="578.8" r="2.55"/><circle cx="1197.4" cy="586.5" r="2.55"/><circle cx="1216.5" cy="595.5" r="2.55"/><circle cx="1177.4" cy="601.5" r="2.55"/><circle cx="1185.2" cy="604.9" r="2.55"/><circle cx="1188.3" cy="606.5" r="2.55"/><circle cx="1242.5" cy="605.8" r="2.55"/><circle cx="1179.5" cy="607.7" r="2.55"/><circle cx="1208.1" cy="610.5" r="2.55"/><circle cx="1217.7" cy="612.2" r="2.55"/><circle cx="1229.6" cy="614.3" r="2.55"/><circle cx="1280.6" cy="613.3" r="2.55"/><circle cx="1251.8" cy="614.0" r="2.55"/><circle cx="1193.3" cy="617.4" r="2.55"/><circle cx="1276.2" cy="618.0" r="2.55"/><circle cx="1282.8" cy="619.3" r="2.55"/><circle cx="1280.6" cy="620.8" r="2.55"/><circle cx="1186.7" cy="620.9" r="2.55"/><circle cx="1255.9" cy="621.8" r="2.55"/><circle cx="1223.7" cy="622.4" r="2.55"/><circle cx="1235.6" cy="623.1" r="2.55"/><circle cx="1309.1" cy="622.4" r="2.55"/><circle cx="1314.5" cy="621.4" r="2.55"/><circle cx="1326.3" cy="624.3" r="2.55"/><circle cx="1258.7" cy="625.8" r="2.55"/><circle cx="1183.0" cy="627.4" r="2.55"/><circle cx="1289.5" cy="629.6" r="2.55"/><circle cx="1334.8" cy="638.3" r="2.55"/>
</g>
<g class="md"><circle cx="1021.3" cy="554.2" r="3.8"/><circle cx="1033.0" cy="528.4" r="3.8"/><circle cx="1044.1" cy="485.3" r="3.8"/><circle cx="1064.9" cy="478.4" r="3.8"/><circle cx="1092.5" cy="525.6" r="3.8"/><circle cx="1119.6" cy="522.6" r="3.8"/><circle cx="1143.0" cy="543.5" r="3.8"/><circle cx="1173.3" cy="555.4" r="3.8"/><circle cx="1243.8" cy="587.4" r="3.8"/></g>
<path class="rg" clip-path="url(#cqg)" d="M1004.4 668.0 1004.7 665.5 1005.0 663.0 1005.3 660.5 1005.6 658.0 1005.9 655.5 1006.2 653.0 1006.5 650.5 1006.8 648.0 1007.1 645.5 1007.5 643.0 1007.8 640.5 1008.1 638.0 1008.4 635.5 1008.7 633.0 1009.1 630.5 1009.4 628.0 1009.8 625.5 1010.1 623.0 1010.5 620.5 1010.9 618.0 1011.3 615.5 1011.6 613.1 1012.0 610.6 1012.4 608.1 1012.8 605.6 1013.1 603.1 1013.5 600.6 1013.9 598.1 1014.2 595.6 1014.6 593.1 1015.0 590.6 1015.4 588.1 1015.8 585.7 1016.2 583.2 1016.6 580.7 1017.0 578.2 1017.5 575.7 1017.9 573.2 1018.4 570.8 1018.9 568.3 1019.4 565.8 1019.9 563.4 1020.4 560.9 1021.0 558.4 1021.6 556.0 1022.2 553.6 1022.9 551.1 1023.5 548.7 1024.1 546.2 1024.7 543.8 1025.4 541.4 1026.0 538.9 1026.7 536.5 1027.5 534.1 1028.4 531.8 1029.3 529.4 1030.2 527.0 1031.1 524.7 1032.0 522.3 1032.9 520.0 1033.9 517.6 1034.8 515.3 1035.9 513.0 1037.0 510.8 1038.2 508.5 1039.4 506.1 1040.7 503.9 1042.1 501.8 1043.6 500.0 1045.4 498.3 1047.4 496.7 1049.6 495.2 1051.9 494.3 1054.3 493.8 1056.8 493.4 1059.4 493.2 1061.9 493.3 1064.3 493.9 1066.8 494.7 1069.2 495.6 1071.5 496.5 1073.7 497.6 1075.8 498.9 1078.0 500.3 1080.1 501.8 1082.2 503.2 1084.3 504.5 1086.5 505.9 1088.6 507.2 1090.7 508.6 1092.8 510.0 1094.9 511.3 1097.1 512.6 1099.2 513.9 1101.4 515.2 1103.6 516.5 1105.8 517.7 1107.9 519.0 1110.1 520.4 1112.2 521.7 1114.3 523.1 1116.3 524.6 1118.2 526.2 1120.2 527.9 1122.2 529.4 1124.2 530.8 1126.3 532.2 1128.4 533.6 1130.5 535.0 1132.6 536.4 1134.7 537.8 1136.8 539.2 1139.0 540.5 1141.1 541.9 1143.2 543.2 1145.4 544.6 1147.5 545.9 1149.6 547.2 1151.8 548.6 1153.9 549.9 1156.0 551.2 1158.2 552.6 1160.3 553.9 1162.4 555.3 1164.6 556.6 1166.8 557.9 1168.9 559.1 1171.1 560.3 1173.4 561.5 1175.6 562.6 1177.9 563.7 1180.1 564.8 1182.4 565.9 1184.7 567.0 1187.0 568.1 1189.3 569.2 1191.5 570.3 1193.8 571.4 1196.1 572.5 1198.3 573.6 1200.6 574.7 1202.9 575.8 1205.1 576.9 1207.4 578.0 1209.7 579.0 1212.0 580.1 1214.3 581.1 1216.6 582.2 1218.9 583.2 1221.2 584.2 1223.5 585.1 1225.8 586.1 1228.2 587.1 1230.5 588.0 1232.8 588.9 1235.2 589.8 1237.6 590.7 1239.9 591.6 1242.3 592.5 1244.7 593.3 1247.0 594.1 1249.4 594.9 1251.8 595.7 1254.2 596.5 1256.6 597.2 1259.0 598.0 1261.4 598.7 1263.8 599.4 1266.3 600.2 1268.7 600.9 1271.1 601.7 1273.5 602.4 1275.9 603.1 1278.3 603.9 1280.7 604.6 1283.1 605.4 1285.5 606.1 1287.9 606.9 1290.3 607.6 1292.8 608.3 1295.2 609.0 1297.6 609.7 1300.0 610.4 1302.4 611.1 1304.8 611.8 1307.3 612.5 1309.7 613.1 1312.1 613.8 1314.6 614.5 1317.0 615.1 1319.4 615.7 1321.9 616.4 1324.3 617.0 1326.8 617.6 1329.2 618.3 1331.6 618.9 1334.1 619.5 1336.5 620.1 1339.0 620.6 1341.4 621.2 1343.9 621.8"/>
<text class="tk" x="996.5" y="681.1" text-anchor="middle">0</text>
<text class="tk" x="1083.4" y="681.1" text-anchor="middle">1</text>
<text class="tk" x="1170.2" y="681.1" text-anchor="middle">2</text>
<text class="tk" x="1257.1" y="681.1" text-anchor="middle">3</text>
<text class="tk" x="1344.0" y="681.1" text-anchor="middle">4</text>
<text class="tk" x="989.5" y="664.3" text-anchor="end">0.08</text>
<text class="tk" x="989.5" y="576.4" text-anchor="end">0.16</text>
<text class="tk" x="989.5" y="488.5" text-anchor="end">0.24</text>
<text class="tk" x="989.5" y="400.6" text-anchor="end">0.32</text>
<text class="lb" x="1159.1" y="704.1">T<tspan class="sb" dx="-0.6" dy="9.3">p-s</tspan></text>
<text class="lb" transform="translate(942.7 534.3) rotate(-90)">u<tspan class="sb" dx="0" dy="9.3">d</tspan></text>
<text class="tt" x="1014.1" y="440.9">(g) <tspan class="it">V</tspan><tspan class="it sm" dx="0.5" dy="9.8">p</tspan><tspan dx="0.2" dy="-9.8"> = 0.85</tspan><tspan class="it">m/s</tspan></text>
<text class="tt" x="1213.7" y="646.6"><tspan class="it">R</tspan><tspan class="it sm" dx="0.3" dy="-10.3">2</tspan><tspan dx="0.4" dy="10.3"> = 0.91</tspan></text>
<rect x="1174.5" y="404.5" width="161" height="61" fill="#fff" stroke="#404040" stroke-width="1"/>
<circle cx="1194.3" cy="415.9" r="3.8" fill="#0ff"/>
<circle cx="1194.3" cy="435.3" r="3.4" fill="#edb120" stroke="#000" stroke-width="1"/>
<path d="M1177.6 454.6h33.4" stroke="#000" stroke-width="2.3" stroke-dasharray="7.2 5.8" fill="none"/>
<text class="lg" x="1213.0" y="421.5">Original data</text>
<text class="lg" x="1213.0" y="441.1">Mean data</text>
<text class="lg" x="1213.0" y="460.5">Regression model</text>
</g>
<g id="panel-h">
<clipPath id="cph"><rect x="1455.9" y="392.2" width="353.5" height="269.7"/></clipPath>
<clipPath id="cqh"><rect x="1457.4" y="393.7" width="350.5" height="265.8"/></clipPath>
<path class="gr" d="M1545.5 658.9V395.2M1632.5 658.9V395.2M1719.5 658.9V395.2M1458.9 592.5H1806.4M1458.9 526.5H1806.4M1458.9 460.5H1806.4"/>
<path class="ax" d="M1458.9 395.2H1806.4V658.9H1458.9ZM1545.5 658.9v-4.2M1545.5 395.2v4.2M1632.5 658.9v-4.2M1632.5 395.2v4.2M1719.5 658.9v-4.2M1719.5 395.2v4.2M1458.9 592.5h4.2M1806.4 592.5h-4.2M1458.9 526.5h4.2M1806.4 526.5h-4.2M1458.9 460.5h4.2M1806.4 460.5h-4.2"/>
<g class="od" clip-path="url(#cph)">
<circle cx="1534.2" cy="401.0" r="2.55"/><circle cx="1578.5" cy="415.8" r="2.55"/><circle cx="1590.1" cy="422.7" r="2.55"/><circle cx="1620.4" cy="435.5" r="2.55"/><circle cx="1598.9" cy="437.1" r="2.55"/><circle cx="1508.1" cy="442.7" r="2.55"/><circle cx="1500.0" cy="444.6" r="2.55"/><circle cx="1504.0" cy="446.7" r="2.55"/><circle cx="1514.0" cy="445.2" r="2.55"/><circle cx="1533.4" cy="446.5" r="2.55"/><circle cx="1583.9" cy="445.9" r="2.55"/><circle cx="1605.4" cy="446.2" r="2.55"/><circle cx="1508.7" cy="449.6" r="2.55"/><circle cx="1512.2" cy="451.7" r="2.55"/><circle cx="1503.7" cy="452.7" r="2.55"/><circle cx="1573.2" cy="452.5" r="2.55"/><circle cx="1593.0" cy="454.2" r="2.55"/><circle cx="1600.2" cy="454.0" r="2.55"/><circle cx="1613.6" cy="456.2" r="2.55"/><circle cx="1540.4" cy="456.9" r="2.55"/><circle cx="1632.1" cy="460.0" r="2.55"/><circle cx="1516.9" cy="460.9" r="2.55"/><circle cx="1519.4" cy="463.1" r="2.55"/><circle cx="1528.1" cy="464.9" r="2.55"/><circle cx="1553.2" cy="464.6" r="2.55"/><circle cx="1605.8" cy="464.9" r="2.55"/><circle cx="1625.6" cy="464.0" r="2.55"/><circle cx="1628.3" cy="466.8" r="2.55"/><circle cx="1493.3" cy="467.8" r="2.55"/><circle cx="1490.2" cy="469.0" r="2.55"/><circle cx="1486.8" cy="471.5" r="2.55"/><circle cx="1547.3" cy="468.8" r="2.55"/><circle cx="1550.4" cy="471.3" r="2.55"/><circle cx="1529.4" cy="470.9" r="2.55"/><circle cx="1562.0" cy="473.2" r="2.55"/><circle cx="1623.1" cy="474.0" r="2.55"/><circle cx="1498.7" cy="474.9" r="2.55"/><circle cx="1518.7" cy="474.0" r="2.55"/><circle cx="1524.4" cy="474.7" r="2.55"/><circle cx="1516.9" cy="477.2" r="2.55"/><circle cx="1531.9" cy="477.8" r="2.55"/><circle cx="1476.8" cy="478.8" r="2.55"/><circle cx="1562.2" cy="478.8" r="2.55"/><circle cx="1536.3" cy="480.7" r="2.55"/><circle cx="1478.7" cy="481.9" r="2.55"/><circle cx="1555.7" cy="482.4" r="2.55"/><circle cx="1487.7" cy="485.3" r="2.55"/><circle cx="1525.6" cy="484.7" r="2.55"/><circle cx="1522.3" cy="485.7" r="2.55"/><circle cx="1543.4" cy="485.3" r="2.55"/><circle cx="1568.8" cy="485.3" r="2.55"/><circle cx="1533.5" cy="488.2" r="2.55"/><circle cx="1572.0" cy="489.4" r="2.55"/><circle cx="1481.2" cy="489.3" r="2.55"/><circle cx="1579.9" cy="490.9" r="2.55"/><circle cx="1594.3" cy="492.8" r="2.55"/><circle cx="1490.6" cy="494.7" r="2.55"/><circle cx="1545.4" cy="494.7" r="2.55"/><circle cx="1579.5" cy="494.7" r="2.55"/><circle cx="1564.2" cy="497.8" r="2.55"/><circle cx="1615.2" cy="498.2" r="2.55"/><circle cx="1484.3" cy="499.1" r="2.55"/><circle cx="1530.4" cy="499.5" r="2.55"/><circle cx="1574.5" cy="499.5" r="2.55"/><circle cx="1541.3" cy="502.2" r="2.55"/><circle cx="1567.0" cy="505.3" r="2.55"/><circle cx="1494.3" cy="506.2" r="2.55"/><circle cx="1593.5" cy="506.0" r="2.55"/><circle cx="1545.0" cy="507.8" r="2.55"/><circle cx="1502.5" cy="511.8" r="2.55"/><circle cx="1558.8" cy="512.2" r="2.55"/><circle cx="1585.4" cy="511.6" r="2.55"/><circle cx="1613.7" cy="511.0" r="2.55"/><circle cx="1516.9" cy="518.5" r="2.55"/><circle cx="1533.4" cy="519.7" r="2.55"/><circle cx="1628.3" cy="518.9" r="2.55"/><circle cx="1503.1" cy="520.4" r="2.55"/><circle cx="1571.6" cy="521.0" r="2.55"/><circle cx="1508.7" cy="521.4" r="2.55"/><circle cx="1493.1" cy="522.9" r="2.55"/><circle cx="1489.3" cy="524.1" r="2.55"/><circle cx="1500.6" cy="524.7" r="2.55"/><circle cx="1614.6" cy="525.4" r="2.55"/><circle cx="1504.3" cy="526.6" r="2.55"/><circle cx="1658.7" cy="469.3" r="2.55"/><circle cx="1640.9" cy="475.5" r="2.55"/><circle cx="1648.7" cy="486.6" r="2.55"/><circle cx="1662.4" cy="493.7" r="2.55"/><circle cx="1694.1" cy="518.2" r="2.55"/><circle cx="1648.2" cy="527.0" r="2.55"/><circle cx="1500.6" cy="527.3" r="2.55"/><circle cx="1506.2" cy="530.4" r="2.55"/><circle cx="1489.9" cy="531.6" r="2.55"/><circle cx="1592.3" cy="532.3" r="2.55"/><circle cx="1511.6" cy="533.8" r="2.55"/><circle cx="1582.4" cy="535.0" r="2.55"/><circle cx="1489.6" cy="537.9" r="2.55"/><circle cx="1571.6" cy="537.9" r="2.55"/><circle cx="1514.4" cy="539.5" r="2.55"/><circle cx="1496.2" cy="541.0" r="2.55"/><circle cx="1538.2" cy="539.8" r="2.55"/><circle cx="1540.7" cy="539.8" r="2.55"/><circle cx="1517.5" cy="541.7" r="2.55"/><circle cx="1605.2" cy="542.0" r="2.55"/><circle cx="1486.2" cy="542.9" r="2.55"/><circle cx="1491.6" cy="544.2" r="2.55"/><circle cx="1502.5" cy="543.5" r="2.55"/><circle cx="1507.1" cy="542.9" r="2.55"/><circle cx="1520.4" cy="543.5" r="2.55"/><circle cx="1545.7" cy="546.0" r="2.55"/><circle cx="1582.6" cy="545.7" r="2.55"/><circle cx="1550.3" cy="547.9" r="2.55"/><circle cx="1495.6" cy="548.3" r="2.55"/><circle cx="1501.8" cy="547.5" r="2.55"/><circle cx="1498.7" cy="551.4" r="2.55"/><circle cx="1596.8" cy="550.4" r="2.55"/><circle cx="1483.7" cy="552.7" r="2.55"/><circle cx="1503.7" cy="555.7" r="2.55"/><circle cx="1555.4" cy="555.4" r="2.55"/><circle cx="1481.2" cy="556.7" r="2.55"/><circle cx="1597.0" cy="556.4" r="2.55"/><circle cx="1492.4" cy="559.2" r="2.55"/><circle cx="1544.4" cy="558.9" r="2.55"/><circle cx="1564.2" cy="558.8" r="2.55"/><circle cx="1570.5" cy="558.8" r="2.55"/><circle cx="1623.1" cy="561.7" r="2.55"/><circle cx="1510.6" cy="562.3" r="2.55"/><circle cx="1547.2" cy="563.6" r="2.55"/><circle cx="1496.0" cy="566.5" r="2.55"/><circle cx="1552.6" cy="566.5" r="2.55"/><circle cx="1555.7" cy="567.7" r="2.55"/><circle cx="1618.1" cy="567.3" r="2.55"/><circle cx="1506.6" cy="568.6" r="2.55"/><circle cx="1579.5" cy="568.6" r="2.55"/><circle cx="1592.4" cy="568.0" r="2.55"/><circle cx="1568.2" cy="569.2" r="2.55"/><circle cx="1500.3" cy="570.5" r="2.55"/><circle cx="1563.8" cy="570.7" r="2.55"/><circle cx="1578.2" cy="571.7" r="2.55"/><circle cx="1618.3" cy="572.6" r="2.55"/><circle cx="1567.0" cy="573.6" r="2.55"/><circle cx="1592.9" cy="574.2" r="2.55"/><circle cx="1493.1" cy="578.6" r="2.55"/><circle cx="1613.6" cy="578.0" r="2.55"/><circle cx="1533.8" cy="580.7" r="2.55"/><circle cx="1540.9" cy="580.7" r="2.55"/><circle cx="1550.7" cy="581.4" r="2.55"/><circle cx="1604.9" cy="580.2" r="2.55"/><circle cx="1583.6" cy="581.7" r="2.55"/><circle cx="1489.7" cy="583.2" r="2.55"/><circle cx="1496.5" cy="583.4" r="2.55"/><circle cx="1564.7" cy="583.4" r="2.55"/><circle cx="1579.5" cy="585.1" r="2.55"/><circle cx="1568.5" cy="585.5" r="2.55"/><circle cx="1479.3" cy="586.7" r="2.55"/><circle cx="1483.1" cy="588.0" r="2.55"/><circle cx="1486.8" cy="589.6" r="2.55"/><circle cx="1587.4" cy="589.2" r="2.55"/><circle cx="1590.8" cy="588.6" r="2.55"/><circle cx="1492.8" cy="590.7" r="2.55"/><circle cx="1500.8" cy="590.7" r="2.55"/><circle cx="1599.3" cy="590.7" r="2.55"/><circle cx="1579.1" cy="592.8" r="2.55"/><circle cx="1615.6" cy="594.3" r="2.55"/><circle cx="1622.4" cy="594.6" r="2.55"/><circle cx="1485.8" cy="595.9" r="2.55"/><circle cx="1582.6" cy="595.8" r="2.55"/><circle cx="1606.4" cy="596.1" r="2.55"/><circle cx="1593.3" cy="597.0" r="2.55"/><circle cx="1488.7" cy="598.4" r="2.55"/><circle cx="1507.2" cy="599.0" r="2.55"/><circle cx="1630.6" cy="598.0" r="2.55"/><circle cx="1491.8" cy="601.1" r="2.55"/><circle cx="1496.8" cy="601.5" r="2.55"/><circle cx="1608.7" cy="601.4" r="2.55"/><circle cx="1622.9" cy="601.5" r="2.55"/><circle cx="1593.3" cy="602.4" r="2.55"/><circle cx="1614.2" cy="602.6" r="2.55"/><circle cx="1594.5" cy="604.9" r="2.55"/><circle cx="1496.6" cy="606.2" r="2.55"/><circle cx="1610.5" cy="611.2" r="2.55"/><circle cx="1629.3" cy="611.2" r="2.55"/><circle cx="1606.0" cy="613.0" r="2.55"/><circle cx="1502.5" cy="615.2" r="2.55"/><circle cx="1524.8" cy="614.9" r="2.55"/><circle cx="1531.3" cy="615.8" r="2.55"/><circle cx="1539.7" cy="617.7" r="2.55"/><circle cx="1591.0" cy="616.4" r="2.55"/><circle cx="1633.3" cy="616.2" r="2.55"/><circle cx="1552.3" cy="620.2" r="2.55"/><circle cx="1603.7" cy="621.4" r="2.55"/><circle cx="1619.6" cy="621.8" r="2.55"/><circle cx="1624.2" cy="622.4" r="2.55"/><circle cx="1633.3" cy="621.8" r="2.55"/><circle cx="1473.0" cy="624.9" r="2.55"/><circle cx="1476.8" cy="625.6" r="2.55"/><circle cx="1479.9" cy="623.1" r="2.55"/><circle cx="1483.1" cy="623.7" r="2.55"/><circle cx="1484.9" cy="625.6" r="2.55"/><circle cx="1620.8" cy="624.9" r="2.55"/><circle cx="1488.7" cy="629.3" r="2.55"/><circle cx="1677.6" cy="536.4" r="2.55"/><circle cx="1724.2" cy="542.7" r="2.55"/><circle cx="1688.7" cy="550.8" r="2.55"/><circle cx="1653.7" cy="552.9" r="2.55"/><circle cx="1692.2" cy="556.7" r="2.55"/><circle cx="1672.2" cy="558.2" r="2.55"/><circle cx="1664.4" cy="561.1" r="2.55"/><circle cx="1714.5" cy="561.4" r="2.55"/><circle cx="1646.5" cy="566.7" r="2.55"/><circle cx="1697.5" cy="566.5" r="2.55"/><circle cx="1744.6" cy="568.2" r="2.55"/><circle cx="1648.4" cy="575.1" r="2.55"/><circle cx="1788.7" cy="577.6" r="2.55"/><circle cx="1734.4" cy="581.4" r="2.55"/><circle cx="1660.1" cy="592.6" r="2.55"/><circle cx="1640.0" cy="600.9" r="2.55"/><circle cx="1679.1" cy="600.9" r="2.55"/><circle cx="1642.4" cy="604.3" r="2.55"/><circle cx="1650.9" cy="603.4" r="2.55"/><circle cx="1647.8" cy="610.5" r="2.55"/><circle cx="1670.7" cy="610.5" r="2.55"/><circle cx="1705.1" cy="611.2" r="2.55"/><circle cx="1680.3" cy="612.8" r="2.55"/><circle cx="1714.5" cy="615.9" r="2.55"/><circle cx="1692.2" cy="619.3" r="2.55"/><circle cx="1714.5" cy="619.9" r="2.55"/><circle cx="1655.7" cy="621.6" r="2.55"/><circle cx="1739.0" cy="619.9" r="2.55"/><circle cx="1743.6" cy="619.9" r="2.55"/><circle cx="1745.5" cy="623.1" r="2.55"/><circle cx="1686.2" cy="624.1" r="2.55"/><circle cx="1645.3" cy="625.8" r="2.55"/><circle cx="1649.7" cy="625.9" r="2.55"/><circle cx="1698.3" cy="625.6" r="2.55"/><circle cx="1718.3" cy="626.2" r="2.55"/><circle cx="1771.8" cy="624.6" r="2.55"/><circle cx="1776.8" cy="625.3" r="2.55"/><circle cx="1788.9" cy="628.7" r="2.55"/><circle cx="1752.4" cy="629.9" r="2.55"/><circle cx="1797.4" cy="634.0" r="2.55"/><circle cx="1496.5" cy="523.8" r="2.55"/><circle cx="1498.2" cy="531.0" r="2.55"/><circle cx="1491.6" cy="529.9" r="2.55"/><circle cx="1488.8" cy="533.2" r="2.55"/><circle cx="1491.6" cy="539.3" r="2.55"/><circle cx="1488.3" cy="549.3" r="2.55"/>
</g>
<g class="md"><circle cx="1483.9" cy="561.7" r="3.8"/><circle cx="1495.3" cy="535.4" r="3.8"/><circle cx="1506.6" cy="499.7" r="3.8"/><circle cx="1527.8" cy="493.2" r="3.8"/><circle cx="1555.3" cy="532.0" r="3.8"/><circle cx="1582.2" cy="529.0" r="3.8"/><circle cx="1605.5" cy="550.8" r="3.8"/><circle cx="1635.8" cy="561.4" r="3.8"/><circle cx="1706.4" cy="591.1" r="3.8"/></g>
<path class="rg" clip-path="url(#cqh)" d="M1465.6 668.0 1465.9 665.5 1466.2 663.0 1466.5 660.5 1466.7 658.0 1467.0 655.5 1467.3 653.0 1467.6 650.4 1467.9 647.9 1468.2 645.4 1468.5 642.9 1468.9 640.4 1469.2 637.9 1469.5 635.4 1469.8 632.9 1470.2 630.4 1470.5 627.9 1470.9 625.4 1471.3 622.9 1471.7 620.4 1472.0 617.9 1472.4 615.4 1472.8 612.9 1473.2 610.4 1473.6 607.9 1474.0 605.5 1474.4 603.0 1474.8 600.5 1475.2 598.0 1475.6 595.5 1476.0 593.0 1476.4 590.5 1476.8 588.0 1477.3 585.5 1477.8 583.0 1478.2 580.6 1478.8 578.1 1479.3 575.6 1479.8 573.2 1480.4 570.7 1481.0 568.2 1481.6 565.8 1482.2 563.3 1482.8 560.9 1483.5 558.5 1484.2 556.0 1484.8 553.6 1485.5 551.2 1486.3 548.8 1487.0 546.3 1487.7 543.9 1488.5 541.5 1489.3 539.1 1490.1 536.7 1490.9 534.3 1491.8 531.9 1492.6 529.6 1493.6 527.3 1494.7 525.0 1495.8 522.7 1497.0 520.4 1498.3 518.2 1499.6 516.1 1501.0 514.0 1502.5 512.0 1504.1 509.9 1505.9 507.9 1507.7 506.1 1509.7 504.8 1511.9 504.0 1514.3 503.2 1516.8 502.6 1519.4 502.1 1522.0 501.8 1524.4 501.9 1526.9 502.2 1529.4 502.9 1531.8 503.7 1534.2 504.6 1536.6 505.4 1538.9 506.4 1541.2 507.5 1543.5 508.6 1545.7 509.9 1547.9 511.1 1550.1 512.2 1552.3 513.5 1554.5 514.7 1556.7 516.0 1558.9 517.3 1561.1 518.6 1563.2 519.9 1565.4 521.2 1567.5 522.6 1569.7 523.8 1571.9 525.0 1574.2 526.2 1576.4 527.3 1578.7 528.5 1580.9 529.7 1583.1 530.9 1585.2 532.3 1587.3 533.7 1589.4 535.1 1591.5 536.5 1593.6 537.9 1595.7 539.2 1597.9 540.5 1600.1 541.7 1602.4 542.9 1604.6 544.1 1606.8 545.3 1609.0 546.5 1611.2 547.8 1613.4 549.0 1615.6 550.2 1617.9 551.4 1620.1 552.5 1622.4 553.6 1624.7 554.7 1627.0 555.7 1629.3 556.7 1631.6 557.7 1633.9 558.7 1636.2 559.8 1638.5 560.8 1640.8 561.9 1643.1 563.0 1645.4 564.0 1647.7 565.1 1650.0 566.2 1652.3 567.2 1654.6 568.3 1656.9 569.3 1659.2 570.4 1661.4 571.4 1663.7 572.5 1666.0 573.6 1668.3 574.6 1670.6 575.6 1673.0 576.7 1675.3 577.6 1677.6 578.6 1679.9 579.5 1682.3 580.4 1684.7 581.3 1687.0 582.2 1689.4 583.0 1691.8 583.9 1694.2 584.7 1696.6 585.5 1699.0 586.3 1701.4 587.1 1703.8 587.9 1706.2 588.7 1708.6 589.4 1711.0 590.2 1713.4 590.9 1715.8 591.6 1718.2 592.3 1720.7 593.0 1723.1 593.7 1725.5 594.4 1727.9 595.1 1730.4 595.8 1732.8 596.5 1735.2 597.2 1737.7 597.9 1740.1 598.6 1742.5 599.3 1745.0 599.9 1747.4 600.6 1749.8 601.2 1752.3 601.9 1754.7 602.5 1757.2 603.2 1759.6 603.8 1762.0 604.5 1764.5 605.1 1766.9 605.7 1769.4 606.3 1771.8 606.9 1774.3 607.5 1776.7 608.1 1779.2 608.7 1781.7 609.2 1784.1 609.8 1786.6 610.3 1789.1 610.8 1791.5 611.4 1794.0 611.9 1796.5 612.4 1799.0 612.9 1801.4 613.4 1803.9 613.8 1806.4 614.3"/>
<text class="tk" x="1458.7" y="681.1" text-anchor="middle">0</text>
<text class="tk" x="1545.6" y="681.1" text-anchor="middle">1</text>
<text class="tk" x="1632.5" y="681.1" text-anchor="middle">2</text>
<text class="tk" x="1719.3" y="681.1" text-anchor="middle">3</text>
<text class="tk" x="1806.2" y="681.1" text-anchor="middle">4</text>
<text class="tk" x="1451.9" y="664.3" text-anchor="end">0.08</text>
<text class="tk" x="1451.9" y="598.4" text-anchor="end">0.16</text>
<text class="tk" x="1451.9" y="532.5" text-anchor="end">0.24</text>
<text class="tk" x="1451.9" y="466.5" text-anchor="end">0.32</text>
<text class="tk" x="1451.9" y="400.6" text-anchor="end">0.4</text>
<text class="lb" x="1621.5" y="704.1">T<tspan class="sb" dx="-0.6" dy="9.3">p-s</tspan></text>
<text class="lb" transform="translate(1405.1 534.3) rotate(-90)">u<tspan class="sb" dx="0" dy="9.3">d</tspan></text>
<text class="tt" x="1476.5" y="439.0">(h) <tspan class="it">V</tspan><tspan class="it sm" dx="0.5" dy="9.8">p</tspan><tspan dx="0.2" dy="-9.8"> = 0.95</tspan><tspan class="it">m/s</tspan></text>
<text class="tt" x="1676.3" y="635.7"><tspan class="it">R</tspan><tspan class="it sm" dx="0.3" dy="-10.3">2</tspan><tspan dx="0.4" dy="10.3"> = 0.93</tspan></text>
<rect x="1636.5" y="404.5" width="161" height="61" fill="#fff" stroke="#404040" stroke-width="1"/>
<circle cx="1656.3" cy="415.9" r="3.8" fill="#0ff"/>
<circle cx="1656.3" cy="435.3" r="3.4" fill="#edb120" stroke="#000" stroke-width="1"/>
<path d="M1639.6 454.6h33.4" stroke="#000" stroke-width="2.3" stroke-dasharray="7.2 5.8" fill="none"/>
<text class="lg" x="1675.0" y="421.5">Original data</text>
<text class="lg" x="1675.0" y="441.1">Mean data</text>
<text class="lg" x="1675.0" y="460.5">Regression model</text>
</g>
<g id="panel-i">
<clipPath id="cpi"><rect x="68.3" y="761.7" width="353.5" height="269.7"/></clipPath>
<clipPath id="cqi"><rect x="69.8" y="763.2" width="350.5" height="265.8"/></clipPath>
<path class="gr" d="M157.5 1028.4V764.7M244.5 1028.4V764.7M331.5 1028.4V764.7M71.3 975.5H418.8M71.3 922.5H418.8M71.3 869.5H418.8M71.3 817.5H418.8"/>
<path class="ax" d="M71.3 764.7H418.8V1028.4H71.3ZM157.5 1028.4v-4.2M157.5 764.7v4.2M244.5 1028.4v-4.2M244.5 764.7v4.2M331.5 1028.4v-4.2M331.5 764.7v4.2M71.3 975.5h4.2M418.8 975.5h-4.2M71.3 922.5h4.2M418.8 922.5h-4.2M71.3 869.5h4.2M418.8 869.5h-4.2M71.3 817.5h4.2M418.8 817.5h-4.2"/>
<g class="od" clip-path="url(#cpi)">
<circle cx="113.6" cy="766.6" r="2.55"/><circle cx="109.8" cy="773.5" r="2.55"/><circle cx="146.2" cy="782.7" r="2.55"/><circle cx="190.6" cy="798.6" r="2.55"/><circle cx="200.6" cy="802.3" r="2.55"/><circle cx="210.9" cy="817.6" r="2.55"/><circle cx="217.5" cy="819.0" r="2.55"/><circle cx="232.6" cy="817.4" r="2.55"/><circle cx="120.2" cy="824.6" r="2.55"/><circle cx="134.6" cy="826.1" r="2.55"/><circle cx="196.2" cy="825.7" r="2.55"/><circle cx="112.3" cy="829.3" r="2.55"/><circle cx="116.1" cy="830.8" r="2.55"/><circle cx="125.9" cy="829.9" r="2.55"/><circle cx="205.3" cy="830.5" r="2.55"/><circle cx="120.5" cy="834.3" r="2.55"/><circle cx="145.3" cy="832.1" r="2.55"/><circle cx="185.2" cy="832.6" r="2.55"/><circle cx="237.6" cy="836.5" r="2.55"/><circle cx="116.1" cy="838.6" r="2.55"/><circle cx="212.3" cy="838.3" r="2.55"/><circle cx="225.7" cy="839.6" r="2.55"/><circle cx="159.3" cy="839.9" r="2.55"/><circle cx="165.3" cy="840.3" r="2.55"/><circle cx="174.3" cy="840.1" r="2.55"/><circle cx="152.8" cy="841.2" r="2.55"/><circle cx="217.9" cy="841.2" r="2.55"/><circle cx="240.7" cy="841.5" r="2.55"/><circle cx="244.5" cy="842.4" r="2.55"/><circle cx="128.2" cy="842.2" r="2.55"/><circle cx="131.4" cy="841.8" r="2.55"/><circle cx="105.8" cy="844.3" r="2.55"/><circle cx="102.3" cy="845.9" r="2.55"/><circle cx="99.2" cy="848.3" r="2.55"/><circle cx="140.8" cy="848.0" r="2.55"/><circle cx="110.7" cy="849.9" r="2.55"/><circle cx="181.5" cy="849.3" r="2.55"/><circle cx="167.7" cy="850.9" r="2.55"/><circle cx="129.2" cy="852.8" r="2.55"/><circle cx="132.0" cy="852.4" r="2.55"/><circle cx="141.8" cy="852.2" r="2.55"/><circle cx="162.4" cy="853.4" r="2.55"/><circle cx="174.3" cy="852.7" r="2.55"/><circle cx="235.4" cy="853.4" r="2.55"/><circle cx="136.5" cy="854.7" r="2.55"/><circle cx="99.8" cy="857.8" r="2.55"/><circle cx="144.0" cy="857.2" r="2.55"/><circle cx="148.7" cy="858.1" r="2.55"/><circle cx="181.2" cy="857.7" r="2.55"/><circle cx="184.3" cy="857.2" r="2.55"/><circle cx="192.1" cy="857.2" r="2.55"/><circle cx="135.3" cy="859.9" r="2.55"/><circle cx="138.4" cy="861.2" r="2.55"/><circle cx="89.2" cy="863.7" r="2.55"/><circle cx="154.9" cy="863.1" r="2.55"/><circle cx="158.0" cy="864.1" r="2.55"/><circle cx="90.7" cy="867.2" r="2.55"/><circle cx="102.7" cy="868.7" r="2.55"/><circle cx="206.3" cy="867.8" r="2.55"/><circle cx="186.6" cy="869.7" r="2.55"/><circle cx="191.6" cy="869.0" r="2.55"/><circle cx="92.9" cy="871.0" r="2.55"/><circle cx="176.2" cy="871.5" r="2.55"/><circle cx="179.3" cy="871.0" r="2.55"/><circle cx="170.9" cy="872.7" r="2.55"/><circle cx="145.5" cy="874.1" r="2.55"/><circle cx="227.3" cy="875.8" r="2.55"/><circle cx="197.5" cy="879.3" r="2.55"/><circle cx="205.6" cy="880.3" r="2.55"/><circle cx="106.1" cy="880.3" r="2.55"/><circle cx="145.3" cy="881.9" r="2.55"/><circle cx="96.9" cy="884.1" r="2.55"/><circle cx="153.7" cy="883.5" r="2.55"/><circle cx="225.7" cy="886.0" r="2.55"/><circle cx="183.5" cy="887.9" r="2.55"/><circle cx="114.2" cy="890.4" r="2.55"/><circle cx="240.7" cy="890.0" r="2.55"/><circle cx="157.4" cy="893.7" r="2.55"/><circle cx="226.3" cy="895.6" r="2.55"/><circle cx="129.2" cy="896.3" r="2.55"/><circle cx="117.3" cy="895.6" r="2.55"/><circle cx="253.3" cy="851.2" r="2.55"/><circle cx="270.8" cy="849.7" r="2.55"/><circle cx="260.8" cy="865.6" r="2.55"/><circle cx="274.8" cy="870.0" r="2.55"/><circle cx="306.2" cy="893.1" r="2.55"/><circle cx="260.8" cy="896.5" r="2.55"/><circle cx="121.1" cy="898.1" r="2.55"/><circle cx="114.2" cy="899.4" r="2.55"/><circle cx="124.2" cy="900.6" r="2.55"/><circle cx="204.4" cy="900.3" r="2.55"/><circle cx="110.5" cy="901.9" r="2.55"/><circle cx="101.7" cy="903.5" r="2.55"/><circle cx="106.1" cy="902.5" r="2.55"/><circle cx="116.1" cy="904.4" r="2.55"/><circle cx="152.8" cy="903.5" r="2.55"/><circle cx="205.3" cy="903.5" r="2.55"/><circle cx="149.9" cy="907.5" r="2.55"/><circle cx="132.4" cy="908.1" r="2.55"/><circle cx="184.1" cy="908.8" r="2.55"/><circle cx="217.2" cy="909.8" r="2.55"/><circle cx="101.1" cy="911.3" r="2.55"/><circle cx="114.8" cy="911.9" r="2.55"/><circle cx="217.9" cy="913.5" r="2.55"/><circle cx="97.9" cy="915.0" r="2.55"/><circle cx="157.4" cy="913.8" r="2.55"/><circle cx="128.2" cy="915.7" r="2.55"/><circle cx="126.1" cy="918.5" r="2.55"/><circle cx="194.6" cy="917.3" r="2.55"/><circle cx="104.2" cy="921.3" r="2.55"/><circle cx="119.2" cy="921.5" r="2.55"/><circle cx="162.4" cy="920.7" r="2.55"/><circle cx="209.1" cy="920.4" r="2.55"/><circle cx="168.1" cy="922.9" r="2.55"/><circle cx="114.0" cy="924.8" r="2.55"/><circle cx="107.7" cy="925.4" r="2.55"/><circle cx="99.6" cy="926.3" r="2.55"/><circle cx="111.1" cy="928.6" r="2.55"/><circle cx="209.4" cy="927.8" r="2.55"/><circle cx="182.8" cy="929.4" r="2.55"/><circle cx="96.7" cy="930.1" r="2.55"/><circle cx="116.1" cy="931.9" r="2.55"/><circle cx="176.6" cy="931.9" r="2.55"/><circle cx="180.3" cy="935.1" r="2.55"/><circle cx="204.6" cy="933.6" r="2.55"/><circle cx="104.8" cy="936.3" r="2.55"/><circle cx="122.7" cy="937.3" r="2.55"/><circle cx="156.8" cy="936.3" r="2.55"/><circle cx="159.3" cy="938.0" r="2.55"/><circle cx="190.9" cy="936.7" r="2.55"/><circle cx="205.0" cy="939.5" r="2.55"/><circle cx="167.8" cy="941.1" r="2.55"/><circle cx="230.4" cy="942.6" r="2.55"/><circle cx="108.2" cy="943.8" r="2.55"/><circle cx="118.6" cy="944.2" r="2.55"/><circle cx="164.9" cy="943.8" r="2.55"/><circle cx="192.1" cy="944.1" r="2.55"/><circle cx="225.7" cy="943.8" r="2.55"/><circle cx="112.7" cy="946.3" r="2.55"/><circle cx="176.2" cy="946.1" r="2.55"/><circle cx="179.3" cy="945.1" r="2.55"/><circle cx="217.5" cy="947.3" r="2.55"/><circle cx="180.6" cy="950.1" r="2.55"/><circle cx="146.2" cy="951.4" r="2.55"/><circle cx="153.3" cy="951.4" r="2.55"/><circle cx="162.4" cy="952.4" r="2.55"/><circle cx="105.7" cy="952.6" r="2.55"/><circle cx="101.7" cy="953.9" r="2.55"/><circle cx="177.1" cy="953.2" r="2.55"/><circle cx="196.0" cy="953.0" r="2.55"/><circle cx="199.1" cy="955.5" r="2.55"/><circle cx="92.3" cy="957.6" r="2.55"/><circle cx="96.1" cy="958.9" r="2.55"/><circle cx="99.8" cy="959.7" r="2.55"/><circle cx="108.6" cy="959.5" r="2.55"/><circle cx="104.8" cy="961.1" r="2.55"/><circle cx="191.2" cy="959.2" r="2.55"/><circle cx="194.4" cy="961.4" r="2.55"/><circle cx="211.3" cy="960.1" r="2.55"/><circle cx="227.9" cy="963.6" r="2.55"/><circle cx="97.3" cy="964.5" r="2.55"/><circle cx="113.0" cy="965.8" r="2.55"/><circle cx="234.4" cy="965.8" r="2.55"/><circle cx="100.4" cy="967.0" r="2.55"/><circle cx="203.4" cy="966.6" r="2.55"/><circle cx="221.3" cy="967.4" r="2.55"/><circle cx="242.8" cy="967.0" r="2.55"/><circle cx="103.6" cy="969.5" r="2.55"/><circle cx="109.0" cy="970.5" r="2.55"/><circle cx="206.5" cy="969.8" r="2.55"/><circle cx="218.2" cy="970.1" r="2.55"/><circle cx="235.1" cy="970.8" r="2.55"/><circle cx="226.3" cy="971.6" r="2.55"/><circle cx="109.0" cy="973.6" r="2.55"/><circle cx="119.6" cy="973.3" r="2.55"/><circle cx="222.5" cy="976.8" r="2.55"/><circle cx="206.0" cy="978.7" r="2.55"/><circle cx="241.3" cy="978.0" r="2.55"/><circle cx="114.8" cy="983.5" r="2.55"/><circle cx="137.0" cy="982.9" r="2.55"/><circle cx="143.4" cy="984.9" r="2.55"/><circle cx="203.1" cy="984.2" r="2.55"/><circle cx="215.4" cy="984.8" r="2.55"/><circle cx="246.3" cy="983.9" r="2.55"/><circle cx="151.8" cy="987.9" r="2.55"/><circle cx="218.8" cy="987.3" r="2.55"/><circle cx="231.9" cy="988.3" r="2.55"/><circle cx="235.9" cy="990.6" r="2.55"/><circle cx="246.3" cy="988.3" r="2.55"/><circle cx="92.0" cy="989.8" r="2.55"/><circle cx="164.3" cy="991.4" r="2.55"/><circle cx="86.0" cy="993.9" r="2.55"/><circle cx="93.6" cy="992.7" r="2.55"/><circle cx="97.1" cy="995.6" r="2.55"/><circle cx="89.2" cy="996.4" r="2.55"/><circle cx="92.0" cy="997.1" r="2.55"/><circle cx="100.8" cy="1000.2" r="2.55"/><circle cx="289.6" cy="906.3" r="2.55"/><circle cx="336.3" cy="910.9" r="2.55"/><circle cx="300.9" cy="919.7" r="2.55"/><circle cx="276.7" cy="928.8" r="2.55"/><circle cx="304.4" cy="928.6" r="2.55"/><circle cx="265.8" cy="930.3" r="2.55"/><circle cx="326.5" cy="932.3" r="2.55"/><circle cx="284.6" cy="934.4" r="2.55"/><circle cx="258.7" cy="935.1" r="2.55"/><circle cx="356.8" cy="938.6" r="2.55"/><circle cx="309.6" cy="941.0" r="2.55"/><circle cx="260.8" cy="944.7" r="2.55"/><circle cx="401.0" cy="948.2" r="2.55"/><circle cx="346.6" cy="953.2" r="2.55"/><circle cx="272.1" cy="962.6" r="2.55"/><circle cx="252.0" cy="970.1" r="2.55"/><circle cx="254.5" cy="973.3" r="2.55"/><circle cx="263.0" cy="971.4" r="2.55"/><circle cx="291.5" cy="970.5" r="2.55"/><circle cx="283.0" cy="977.7" r="2.55"/><circle cx="292.5" cy="979.8" r="2.55"/><circle cx="317.1" cy="980.2" r="2.55"/><circle cx="259.9" cy="982.3" r="2.55"/><circle cx="326.5" cy="985.8" r="2.55"/><circle cx="304.4" cy="987.0" r="2.55"/><circle cx="326.8" cy="988.3" r="2.55"/><circle cx="267.9" cy="989.6" r="2.55"/><circle cx="351.0" cy="991.2" r="2.55"/><circle cx="356.0" cy="990.2" r="2.55"/><circle cx="310.3" cy="992.1" r="2.55"/><circle cx="298.4" cy="992.7" r="2.55"/><circle cx="357.2" cy="993.6" r="2.55"/><circle cx="333.4" cy="995.6" r="2.55"/><circle cx="261.4" cy="997.4" r="2.55"/><circle cx="257.7" cy="998.6" r="2.55"/><circle cx="330.5" cy="998.3" r="2.55"/><circle cx="355.3" cy="998.7" r="2.55"/><circle cx="383.9" cy="997.7" r="2.55"/><circle cx="388.9" cy="999.6" r="2.55"/><circle cx="401.0" cy="1000.2" r="2.55"/><circle cx="364.7" cy="1000.8" r="2.55"/><circle cx="409.8" cy="1003.6" r="2.55"/><circle cx="115.1" cy="894.7" r="2.55"/><circle cx="117.6" cy="898.8" r="2.55"/><circle cx="112.6" cy="902.1" r="2.55"/><circle cx="108.8" cy="904.3" r="2.55"/><circle cx="104.3" cy="905.4" r="2.55"/><circle cx="112.1" cy="907.7" r="2.55"/>
</g>
<g class="md"><circle cx="96.4" cy="935.1" r="3.8"/><circle cx="107.7" cy="910.7" r="3.8"/><circle cx="118.6" cy="878.3" r="3.8"/><circle cx="139.6" cy="869.7" r="3.8"/><circle cx="167.4" cy="904.4" r="3.8"/><circle cx="194.4" cy="900.4" r="3.8"/><circle cx="217.9" cy="922.3" r="3.8"/><circle cx="248.2" cy="932.8" r="3.8"/><circle cx="318.8" cy="961.4" r="3.8"/></g>
<path class="rg" clip-path="url(#cqi)" d="M77.2 1037.0 77.5 1034.5 77.8 1032.0 78.1 1029.5 78.4 1027.0 78.8 1024.5 79.1 1022.0 79.5 1019.5 79.9 1017.0 80.2 1014.5 80.6 1012.0 81.0 1009.5 81.4 1007.0 81.8 1004.5 82.2 1002.1 82.6 999.6 83.0 997.1 83.4 994.6 83.8 992.1 84.2 989.6 84.6 987.1 85.1 984.6 85.5 982.2 85.9 979.7 86.3 977.2 86.8 974.7 87.2 972.2 87.6 969.7 88.1 967.2 88.5 964.8 89.0 962.3 89.5 959.8 90.0 957.4 90.6 954.9 91.2 952.4 91.7 950.0 92.3 947.5 92.9 945.1 93.5 942.6 94.1 940.2 94.7 937.7 95.3 935.3 95.9 932.8 96.6 930.4 97.3 928.0 98.0 925.6 98.8 923.1 99.6 920.7 100.4 918.4 101.2 916.0 102.1 913.6 103.1 911.3 104.1 909.0 105.1 906.7 106.1 904.4 107.1 902.1 108.2 899.8 109.3 897.5 110.5 895.3 111.7 893.0 113.0 890.8 114.3 888.6 115.7 886.5 117.3 884.5 118.9 882.8 120.9 881.2 123.0 879.7 125.2 878.5 127.5 877.5 130.0 876.6 132.4 876.1 134.9 876.0 137.5 876.3 140.0 876.6 142.4 877.1 144.8 877.7 147.2 878.5 149.6 879.5 152.0 880.5 154.3 881.4 156.6 882.5 158.8 883.6 161.1 884.8 163.3 886.0 165.5 887.2 167.8 888.3 170.0 889.5 172.2 890.7 174.4 891.9 176.7 893.1 178.9 894.3 181.1 895.5 183.3 896.8 185.4 898.0 187.6 899.3 189.8 900.5 192.0 901.8 194.2 903.0 196.5 904.2 198.7 905.3 200.9 906.5 203.1 907.7 205.3 908.9 207.6 910.1 209.8 911.3 212.0 912.5 214.2 913.8 216.4 915.0 218.5 916.4 220.6 917.8 222.7 919.2 224.8 920.7 226.9 922.1 229.0 923.3 231.3 924.5 233.5 925.6 235.8 926.7 238.1 927.8 240.3 928.9 242.6 930.1 244.8 931.4 247.0 932.6 249.2 933.7 251.5 934.8 253.7 935.9 256.0 937.0 258.3 938.1 260.6 939.1 262.9 940.2 265.2 941.2 267.5 942.2 269.8 943.3 272.1 944.3 274.4 945.3 276.7 946.3 279.1 947.3 281.4 948.3 283.7 949.2 286.0 950.2 288.4 951.1 290.7 952.1 293.1 953.0 295.4 953.9 297.8 954.7 300.2 955.6 302.5 956.5 304.9 957.3 307.3 958.1 309.7 958.9 312.1 959.8 314.5 960.5 316.9 961.3 319.3 962.1 321.7 962.9 324.1 963.6 326.5 964.4 328.9 965.1 331.3 965.8 333.7 966.5 336.2 967.2 338.6 967.9 341.0 968.6 343.5 969.2 345.9 969.9 348.3 970.5 350.8 971.2 353.2 971.8 355.7 972.4 358.1 973.0 360.6 973.6 363.0 974.2 365.5 974.8 367.9 975.4 370.4 975.9 372.8 976.5 375.3 977.1 377.8 977.6 380.2 978.2 382.7 978.7 385.1 979.3 387.6 979.8 390.1 980.3 392.5 980.9 395.0 981.4 397.5 981.9 399.9 982.4 402.4 982.9 404.9 983.4 407.4 983.9 409.8 984.4 412.3 984.9"/>
<text class="tk" x="70.9" y="1050.6" text-anchor="middle">0</text>
<text class="tk" x="157.8" y="1050.6" text-anchor="middle">1</text>
<text class="tk" x="244.6" y="1050.6" text-anchor="middle">2</text>
<text class="tk" x="331.5" y="1050.6" text-anchor="middle">3</text>
<text class="tk" x="418.4" y="1050.6" text-anchor="middle">4</text>
<text class="tk" x="64.3" y="1033.9" text-anchor="end">0.08</text>
<text class="tk" x="64.3" y="981.2" text-anchor="end">0.16</text>
<text class="tk" x="64.3" y="928.4" text-anchor="end">0.24</text>
<text class="tk" x="64.3" y="875.7" text-anchor="end">0.32</text>
<text class="tk" x="64.3" y="822.9" text-anchor="end">0.4</text>
<text class="tk" x="64.3" y="770.2" text-anchor="end">0.48</text>
<text class="lb" x="233.9" y="1073.6">T<tspan class="sb" dx="-0.6" dy="9.3">p-s</tspan></text>
<text class="lb" transform="translate(17.5 903.8) rotate(-90)">u<tspan class="sb" dx="0" dy="9.3">d</tspan></text>
<text class="tt" x="88.8" y="806.7">(i) <tspan class="it">V</tspan><tspan class="it sm" dx="0.5" dy="9.8">p</tspan><tspan dx="0.2" dy="-9.8"> = 1.05</tspan><tspan class="it">m/s</tspan></text>
<text class="tt" x="288.6" y="1011.5"><tspan class="it">R</tspan><tspan class="it sm" dx="0.3" dy="-10.3">2</tspan><tspan dx="0.4" dy="10.3"> = 0.93</tspan></text>
<rect x="248.5" y="773.5" width="161" height="61" fill="#fff" stroke="#404040" stroke-width="1"/>
<circle cx="268.3" cy="784.9" r="3.8" fill="#0ff"/>
<circle cx="268.3" cy="804.3" r="3.4" fill="#edb120" stroke="#000" stroke-width="1"/>
<path d="M251.6 823.6h33.4" stroke="#000" stroke-width="2.3" stroke-dasharray="7.2 5.8" fill="none"/>
<text class="lg" x="287.0" y="790.5">Original data</text>
<text class="lg" x="287.0" y="810.1">Mean data</text>
<text class="lg" x="287.0" y="829.5">Regression model</text>
</g>
<g id="panel-j">
<clipPath id="cpj"><rect x="530.8" y="761.7" width="353.5" height="269.7"/></clipPath>
<clipPath id="cqj"><rect x="532.3" y="763.2" width="350.5" height="265.8"/></clipPath>
<path class="gr" d="M620.5 1028.4V764.7M707.5 1028.4V764.7M794.5 1028.4V764.7M533.8 975.5H881.3M533.8 922.5H881.3M533.8 869.5H881.3M533.8 817.5H881.3"/>
<path class="ax" d="M533.8 764.7H881.3V1028.4H533.8ZM620.5 1028.4v-4.2M620.5 764.7v4.2M707.5 1028.4v-4.2M707.5 764.7v4.2M794.5 1028.4v-4.2M794.5 764.7v4.2M533.8 975.5h4.2M881.3 975.5h-4.2M533.8 922.5h4.2M881.3 922.5h-4.2M533.8 869.5h4.2M881.3 869.5h-4.2M533.8 817.5h4.2M881.3 817.5h-4.2"/>
<g class="od" clip-path="url(#cpj)">
<circle cx="598.8" cy="765.8" r="2.55"/><circle cx="581.2" cy="770.6" r="2.55"/><circle cx="588.7" cy="773.9" r="2.55"/><circle cx="576.2" cy="775.8" r="2.55"/><circle cx="572.5" cy="782.5" r="2.55"/><circle cx="608.8" cy="783.5" r="2.55"/><circle cx="653.2" cy="797.7" r="2.55"/><circle cx="664.5" cy="803.0" r="2.55"/><circle cx="680.2" cy="814.6" r="2.55"/><circle cx="673.5" cy="818.0" r="2.55"/><circle cx="695.2" cy="817.4" r="2.55"/><circle cx="658.6" cy="824.2" r="2.55"/><circle cx="582.7" cy="826.7" r="2.55"/><circle cx="597.5" cy="826.7" r="2.55"/><circle cx="668.0" cy="826.7" r="2.55"/><circle cx="587.5" cy="829.9" r="2.55"/><circle cx="648.0" cy="830.5" r="2.55"/><circle cx="621.9" cy="831.8" r="2.55"/><circle cx="574.6" cy="832.8" r="2.55"/><circle cx="578.5" cy="833.6" r="2.55"/><circle cx="589.0" cy="832.4" r="2.55"/><circle cx="604.4" cy="834.3" r="2.55"/><circle cx="608.8" cy="833.4" r="2.55"/><circle cx="627.8" cy="835.9" r="2.55"/><circle cx="583.5" cy="836.5" r="2.55"/><circle cx="644.1" cy="836.5" r="2.55"/><circle cx="611.3" cy="836.8" r="2.55"/><circle cx="680.5" cy="836.4" r="2.55"/><circle cx="593.7" cy="837.8" r="2.55"/><circle cx="674.9" cy="839.6" r="2.55"/><circle cx="688.6" cy="840.3" r="2.55"/><circle cx="699.8" cy="839.5" r="2.55"/><circle cx="703.3" cy="838.3" r="2.55"/><circle cx="706.5" cy="842.2" r="2.55"/><circle cx="578.7" cy="841.5" r="2.55"/><circle cx="620.0" cy="841.5" r="2.55"/><circle cx="630.7" cy="841.5" r="2.55"/><circle cx="615.3" cy="842.7" r="2.55"/><circle cx="591.2" cy="843.0" r="2.55"/><circle cx="568.1" cy="841.5" r="2.55"/><circle cx="564.3" cy="843.0" r="2.55"/><circle cx="637.0" cy="843.0" r="2.55"/><circle cx="573.5" cy="844.5" r="2.55"/><circle cx="561.2" cy="846.8" r="2.55"/><circle cx="654.5" cy="844.3" r="2.55"/><circle cx="562.7" cy="848.7" r="2.55"/><circle cx="592.2" cy="847.8" r="2.55"/><circle cx="603.1" cy="849.0" r="2.55"/><circle cx="643.6" cy="848.3" r="2.55"/><circle cx="697.9" cy="849.7" r="2.55"/><circle cx="595.6" cy="850.5" r="2.55"/><circle cx="633.6" cy="851.5" r="2.55"/><circle cx="593.1" cy="853.3" r="2.55"/><circle cx="598.1" cy="853.3" r="2.55"/><circle cx="606.9" cy="854.3" r="2.55"/><circle cx="624.8" cy="854.0" r="2.55"/><circle cx="669.1" cy="855.3" r="2.55"/><circle cx="600.4" cy="856.6" r="2.55"/><circle cx="641.6" cy="857.8" r="2.55"/><circle cx="647.0" cy="857.2" r="2.55"/><circle cx="618.2" cy="859.9" r="2.55"/><circle cx="649.1" cy="859.6" r="2.55"/><circle cx="654.1" cy="859.9" r="2.55"/><circle cx="565.2" cy="859.7" r="2.55"/><circle cx="555.9" cy="861.8" r="2.55"/><circle cx="551.2" cy="864.3" r="2.55"/><circle cx="553.9" cy="866.8" r="2.55"/><circle cx="608.5" cy="866.6" r="2.55"/><circle cx="639.1" cy="869.3" r="2.55"/><circle cx="689.9" cy="870.3" r="2.55"/><circle cx="569.0" cy="873.3" r="2.55"/><circle cx="668.3" cy="873.3" r="2.55"/><circle cx="646.1" cy="874.6" r="2.55"/><circle cx="660.1" cy="876.2" r="2.55"/><circle cx="559.3" cy="880.6" r="2.55"/><circle cx="616.5" cy="880.6" r="2.55"/><circle cx="614.4" cy="884.1" r="2.55"/><circle cx="657.0" cy="883.1" r="2.55"/><circle cx="688.3" cy="883.7" r="2.55"/><circle cx="667.0" cy="885.9" r="2.55"/><circle cx="703.3" cy="885.6" r="2.55"/><circle cx="580.6" cy="886.2" r="2.55"/><circle cx="564.3" cy="889.4" r="2.55"/><circle cx="586.5" cy="889.1" r="2.55"/><circle cx="619.8" cy="889.4" r="2.55"/><circle cx="689.2" cy="888.4" r="2.55"/><circle cx="583.1" cy="891.2" r="2.55"/><circle cx="591.9" cy="891.9" r="2.55"/><circle cx="568.1" cy="892.5" r="2.55"/><circle cx="667.6" cy="891.9" r="2.55"/><circle cx="578.1" cy="894.4" r="2.55"/><circle cx="612.5" cy="894.4" r="2.55"/><circle cx="595.0" cy="895.6" r="2.55"/><circle cx="646.3" cy="896.0" r="2.55"/><circle cx="573.7" cy="896.3" r="2.55"/><circle cx="715.6" cy="849.9" r="2.55"/><circle cx="733.6" cy="847.7" r="2.55"/><circle cx="723.5" cy="861.6" r="2.55"/><circle cx="737.3" cy="866.8" r="2.55"/><circle cx="723.4" cy="889.1" r="2.55"/><circle cx="768.9" cy="888.7" r="2.55"/><circle cx="752.6" cy="895.3" r="2.55"/><circle cx="799.2" cy="895.0" r="2.55"/><circle cx="584.0" cy="896.5" r="2.55"/><circle cx="576.2" cy="896.9" r="2.55"/><circle cx="578.7" cy="900.6" r="2.55"/><circle cx="564.9" cy="900.0" r="2.55"/><circle cx="620.3" cy="900.6" r="2.55"/><circle cx="680.2" cy="900.6" r="2.55"/><circle cx="671.4" cy="901.9" r="2.55"/><circle cx="574.3" cy="903.8" r="2.55"/><circle cx="657.4" cy="905.0" r="2.55"/><circle cx="563.1" cy="907.9" r="2.55"/><circle cx="590.9" cy="907.9" r="2.55"/><circle cx="625.1" cy="909.7" r="2.55"/><circle cx="630.4" cy="909.2" r="2.55"/><circle cx="560.9" cy="911.0" r="2.55"/><circle cx="697.7" cy="912.2" r="2.55"/><circle cx="589.0" cy="912.9" r="2.55"/><circle cx="667.3" cy="912.9" r="2.55"/><circle cx="566.4" cy="915.0" r="2.55"/><circle cx="581.6" cy="915.0" r="2.55"/><circle cx="671.8" cy="915.9" r="2.55"/><circle cx="576.6" cy="918.4" r="2.55"/><circle cx="645.3" cy="918.2" r="2.55"/><circle cx="570.6" cy="919.8" r="2.55"/><circle cx="642.2" cy="919.8" r="2.55"/><circle cx="639.1" cy="920.7" r="2.55"/><circle cx="573.5" cy="921.3" r="2.55"/><circle cx="561.8" cy="920.7" r="2.55"/><circle cx="653.6" cy="921.9" r="2.55"/><circle cx="578.5" cy="924.7" r="2.55"/><circle cx="667.6" cy="924.8" r="2.55"/><circle cx="567.4" cy="928.6" r="2.55"/><circle cx="585.4" cy="928.8" r="2.55"/><circle cx="619.2" cy="928.6" r="2.55"/><circle cx="621.9" cy="928.6" r="2.55"/><circle cx="679.9" cy="928.2" r="2.55"/><circle cx="688.3" cy="928.8" r="2.55"/><circle cx="693.3" cy="930.4" r="2.55"/><circle cx="630.3" cy="931.6" r="2.55"/><circle cx="570.6" cy="935.5" r="2.55"/><circle cx="581.5" cy="936.0" r="2.55"/><circle cx="627.8" cy="935.5" r="2.55"/><circle cx="643.2" cy="935.1" r="2.55"/><circle cx="654.7" cy="936.0" r="2.55"/><circle cx="575.0" cy="937.6" r="2.55"/><circle cx="640.3" cy="937.0" r="2.55"/><circle cx="608.5" cy="938.5" r="2.55"/><circle cx="615.7" cy="938.8" r="2.55"/><circle cx="625.4" cy="939.1" r="2.55"/><circle cx="638.2" cy="938.2" r="2.55"/><circle cx="661.6" cy="938.6" r="2.55"/><circle cx="639.5" cy="940.7" r="2.55"/><circle cx="653.6" cy="942.8" r="2.55"/><circle cx="658.2" cy="942.3" r="2.55"/><circle cx="673.9" cy="942.8" r="2.55"/><circle cx="564.3" cy="944.2" r="2.55"/><circle cx="553.7" cy="946.1" r="2.55"/><circle cx="558.1" cy="946.6" r="2.55"/><circle cx="690.4" cy="946.3" r="2.55"/><circle cx="697.1" cy="947.6" r="2.55"/><circle cx="561.8" cy="948.6" r="2.55"/><circle cx="657.4" cy="948.6" r="2.55"/><circle cx="690.4" cy="949.1" r="2.55"/><circle cx="665.5" cy="950.7" r="2.55"/><circle cx="705.2" cy="950.4" r="2.55"/><circle cx="568.1" cy="951.4" r="2.55"/><circle cx="559.9" cy="952.2" r="2.55"/><circle cx="683.5" cy="952.4" r="2.55"/><circle cx="669.5" cy="952.6" r="2.55"/><circle cx="563.4" cy="953.9" r="2.55"/><circle cx="571.8" cy="953.6" r="2.55"/><circle cx="668.0" cy="954.9" r="2.55"/><circle cx="566.2" cy="955.7" r="2.55"/><circle cx="575.6" cy="956.4" r="2.55"/><circle cx="681.4" cy="957.0" r="2.55"/><circle cx="697.7" cy="957.0" r="2.55"/><circle cx="688.9" cy="958.5" r="2.55"/><circle cx="571.5" cy="960.1" r="2.55"/><circle cx="582.2" cy="961.0" r="2.55"/><circle cx="704.3" cy="963.3" r="2.55"/><circle cx="599.6" cy="964.8" r="2.55"/><circle cx="685.2" cy="964.9" r="2.55"/><circle cx="668.3" cy="965.1" r="2.55"/><circle cx="605.9" cy="967.0" r="2.55"/><circle cx="665.4" cy="966.8" r="2.55"/><circle cx="577.2" cy="969.8" r="2.55"/><circle cx="614.4" cy="970.4" r="2.55"/><circle cx="677.7" cy="970.4" r="2.55"/><circle cx="681.4" cy="969.9" r="2.55"/><circle cx="708.3" cy="970.8" r="2.55"/><circle cx="694.6" cy="971.6" r="2.55"/><circle cx="554.5" cy="973.3" r="2.55"/><circle cx="698.7" cy="973.3" r="2.55"/><circle cx="626.9" cy="975.2" r="2.55"/><circle cx="556.2" cy="977.0" r="2.55"/><circle cx="548.0" cy="978.7" r="2.55"/><circle cx="695.6" cy="978.3" r="2.55"/><circle cx="559.3" cy="979.9" r="2.55"/><circle cx="551.2" cy="980.2" r="2.55"/><circle cx="554.0" cy="981.4" r="2.55"/><circle cx="563.4" cy="984.8" r="2.55"/><circle cx="763.5" cy="902.1" r="2.55"/><circle cx="739.2" cy="912.5" r="2.55"/><circle cx="767.2" cy="918.2" r="2.55"/><circle cx="721.3" cy="920.0" r="2.55"/><circle cx="789.3" cy="921.3" r="2.55"/><circle cx="728.4" cy="923.2" r="2.55"/><circle cx="819.3" cy="926.3" r="2.55"/><circle cx="747.2" cy="926.9" r="2.55"/><circle cx="723.2" cy="929.4" r="2.55"/><circle cx="772.3" cy="932.3" r="2.55"/><circle cx="863.7" cy="934.7" r="2.55"/><circle cx="809.3" cy="942.6" r="2.55"/><circle cx="734.7" cy="947.2" r="2.55"/><circle cx="753.8" cy="955.5" r="2.55"/><circle cx="715.0" cy="956.4" r="2.55"/><circle cx="725.7" cy="956.4" r="2.55"/><circle cx="717.5" cy="960.1" r="2.55"/><circle cx="745.5" cy="963.3" r="2.55"/><circle cx="755.5" cy="964.3" r="2.55"/><circle cx="722.5" cy="965.8" r="2.55"/><circle cx="779.9" cy="965.1" r="2.55"/><circle cx="710.0" cy="972.4" r="2.55"/><circle cx="767.2" cy="971.4" r="2.55"/><circle cx="730.7" cy="973.3" r="2.55"/><circle cx="789.5" cy="972.9" r="2.55"/><circle cx="818.1" cy="976.0" r="2.55"/><circle cx="761.4" cy="976.8" r="2.55"/><circle cx="773.3" cy="977.7" r="2.55"/><circle cx="789.3" cy="977.0" r="2.55"/><circle cx="820.2" cy="978.0" r="2.55"/><circle cx="723.8" cy="980.5" r="2.55"/><circle cx="813.6" cy="981.4" r="2.55"/><circle cx="796.0" cy="982.4" r="2.55"/><circle cx="793.0" cy="983.5" r="2.55"/><circle cx="818.1" cy="983.0" r="2.55"/><circle cx="851.5" cy="983.0" r="2.55"/><circle cx="720.4" cy="985.8" r="2.55"/><circle cx="826.9" cy="986.0" r="2.55"/><circle cx="846.5" cy="987.4" r="2.55"/><circle cx="863.8" cy="986.7" r="2.55"/><circle cx="872.4" cy="989.2" r="2.55"/><circle cx="573.7" cy="888.0" r="2.55"/><circle cx="578.1" cy="889.4" r="2.55"/><circle cx="572.6" cy="897.7" r="2.55"/><circle cx="575.9" cy="898.8" r="2.55"/>
</g>
<g class="md"><circle cx="558.9" cy="925.7" r="3.8"/><circle cx="570.2" cy="904.0" r="3.8"/><circle cx="581.2" cy="875.0" r="3.8"/><circle cx="602.5" cy="863.1" r="3.8"/><circle cx="630.3" cy="895.2" r="3.8"/><circle cx="657.0" cy="889.4" r="3.8"/><circle cx="680.5" cy="911.7" r="3.8"/><circle cx="710.9" cy="922.4" r="3.8"/><circle cx="781.4" cy="948.6" r="3.8"/></g>
<path class="rg" clip-path="url(#cqj)" d="M536.4 1037.0 536.8 1034.5 537.2 1032.0 537.5 1029.5 537.9 1027.0 538.3 1024.5 538.7 1022.0 539.0 1019.5 539.4 1017.0 539.8 1014.6 540.2 1012.1 540.5 1009.6 540.9 1007.1 541.3 1004.6 541.7 1002.1 542.1 999.6 542.5 997.1 542.9 994.6 543.4 992.1 543.8 989.7 544.2 987.2 544.7 984.7 545.1 982.2 545.6 979.7 546.0 977.2 546.5 974.8 547.0 972.3 547.5 969.8 547.9 967.3 548.4 964.9 548.9 962.4 549.5 959.9 550.0 957.5 550.5 955.0 551.1 952.5 551.7 950.1 552.3 947.6 552.9 945.2 553.5 942.7 554.2 940.3 554.8 937.9 555.5 935.4 556.3 933.0 557.0 930.6 557.8 928.2 558.6 925.8 559.4 923.4 560.2 921.0 561.0 918.6 561.7 916.2 562.5 913.8 563.3 911.5 564.2 909.1 565.1 906.7 566.0 904.4 567.0 902.0 568.0 899.7 569.0 897.4 570.1 895.2 571.3 892.9 572.4 890.6 573.6 888.4 575.0 886.2 576.3 884.2 577.9 882.2 579.5 880.2 581.2 878.2 583.1 876.5 585.0 875.0 587.1 873.7 589.3 872.4 591.7 871.4 594.1 870.7 596.6 870.2 599.1 869.9 601.6 869.7 604.1 869.9 606.6 870.5 609.0 871.3 611.4 872.0 613.8 872.8 616.2 873.7 618.5 874.7 620.8 875.7 623.1 876.8 625.4 877.8 627.7 878.9 629.9 880.1 632.1 881.3 634.4 882.4 636.6 883.6 638.9 884.7 641.2 885.8 643.4 886.9 645.7 888.1 647.9 889.2 650.1 890.5 652.2 891.8 654.4 893.1 656.5 894.4 658.7 895.7 660.9 897.0 663.1 898.2 665.3 899.5 667.5 900.7 669.7 901.9 671.9 903.1 674.2 904.2 676.4 905.4 678.7 906.5 680.9 907.6 683.2 908.7 685.5 909.9 687.7 911.0 690.0 912.2 692.2 913.3 694.5 914.4 696.7 915.5 699.0 916.6 701.3 917.7 703.6 918.7 705.9 919.8 708.2 920.9 710.4 921.9 712.7 923.0 715.0 924.0 717.3 925.1 719.6 926.1 721.9 927.1 724.2 928.2 726.5 929.2 728.8 930.2 731.2 931.2 733.5 932.2 735.8 933.2 738.1 934.3 740.4 935.3 742.7 936.3 745.0 937.3 747.4 938.3 749.7 939.2 752.0 940.1 754.4 941.0 756.8 941.9 759.1 942.8 761.5 943.6 763.9 944.4 766.3 945.2 768.7 946.0 771.1 946.7 773.5 947.5 775.9 948.2 778.3 949.0 780.7 949.7 783.2 950.4 785.6 951.1 788.0 951.8 790.4 952.5 792.9 953.1 795.3 953.8 797.8 954.4 800.2 955.1 802.6 955.7 805.1 956.4 807.5 957.0 810.0 957.6 812.4 958.2 814.8 958.9 817.3 959.5 819.7 960.1 822.2 960.7 824.6 961.3 827.1 961.9 829.5 962.4 832.0 963.0 834.5 963.6 836.9 964.2 839.4 964.8 841.8 965.4 844.3 966.0 846.7 966.6 849.2 967.1 851.7 967.6 854.1 968.1 856.6 968.5 859.1 968.9 861.6 969.4 864.1 969.7 866.6 970.1 869.1 970.5 871.6 970.8 874.1 971.2 876.6 971.5 879.1 971.7 881.6 972.0"/>
<text class="tk" x="533.6" y="1050.6" text-anchor="middle">0</text>
<text class="tk" x="620.5" y="1050.6" text-anchor="middle">1</text>
<text class="tk" x="707.3" y="1050.6" text-anchor="middle">2</text>
<text class="tk" x="794.2" y="1050.6" text-anchor="middle">3</text>
<text class="tk" x="881.1" y="1050.6" text-anchor="middle">4</text>
<text class="tk" x="526.8" y="1033.9" text-anchor="end">0.05</text>
<text class="tk" x="526.8" y="981.2" text-anchor="end">0.15</text>
<text class="tk" x="526.8" y="928.4" text-anchor="end">0.25</text>
<text class="tk" x="526.8" y="875.7" text-anchor="end">0.35</text>
<text class="tk" x="526.8" y="822.9" text-anchor="end">0.45</text>
<text class="tk" x="526.8" y="770.2" text-anchor="end">0.55</text>
<text class="lb" x="696.4" y="1073.6">T<tspan class="sb" dx="-0.6" dy="9.3">p-s</tspan></text>
<text class="lb" transform="translate(480.0 903.8) rotate(-90)">u<tspan class="sb" dx="0" dy="9.3">d</tspan></text>
<text class="tt" x="551.8" y="804.2">(j) <tspan class="it">V</tspan><tspan class="it sm" dx="0.5" dy="9.8">p</tspan><tspan dx="0.2" dy="-9.8"> = 1.15</tspan><tspan class="it">m/s</tspan></text>
<text class="tt" x="751.6" y="1001.2"><tspan class="it">R</tspan><tspan class="it sm" dx="0.3" dy="-10.3">2</tspan><tspan dx="0.4" dy="10.3"> = 0.93</tspan></text>
<rect x="711.5" y="773.5" width="161" height="61" fill="#fff" stroke="#404040" stroke-width="1"/>
<circle cx="731.3" cy="784.9" r="3.8" fill="#0ff"/>
<circle cx="731.3" cy="804.3" r="3.4" fill="#edb120" stroke="#000" stroke-width="1"/>
<path d="M714.6 823.6h33.4" stroke="#000" stroke-width="2.3" stroke-dasharray="7.2 5.8" fill="none"/>
<text class="lg" x="750.0" y="790.5">Original data</text>
<text class="lg" x="750.0" y="810.1">Mean data</text>
<text class="lg" x="750.0" y="829.5">Regression model</text>
</g>
<g id="panel-k">
<clipPath id="cpk"><rect x="993.5" y="761.7" width="353.5" height="269.7"/></clipPath>
<clipPath id="cqk"><rect x="995.0" y="763.2" width="350.5" height="265.8"/></clipPath>
<path class="gr" d="M1083.5 1028.4V764.7M1170.5 1028.4V764.7M1257.5 1028.4V764.7M996.5 896.5H1344.0"/>
<path class="ax" d="M996.5 764.7H1344.0V1028.4H996.5ZM1083.5 1028.4v-4.2M1083.5 764.7v4.2M1170.5 1028.4v-4.2M1170.5 764.7v4.2M1257.5 1028.4v-4.2M1257.5 764.7v4.2M996.5 896.5h4.2M1344.0 896.5h-4.2"/>
<g class="od" clip-path="url(#cpk)">
<circle cx="1043.9" cy="770.8" r="2.55"/><circle cx="1051.1" cy="774.1" r="2.55"/><circle cx="1038.6" cy="775.4" r="2.55"/><circle cx="1071.4" cy="777.7" r="2.55"/><circle cx="1035.1" cy="782.3" r="2.55"/><circle cx="1115.9" cy="792.1" r="2.55"/><circle cx="1127.4" cy="797.3" r="2.55"/><circle cx="1142.8" cy="809.5" r="2.55"/><circle cx="1157.8" cy="815.7" r="2.55"/><circle cx="1136.1" cy="817.0" r="2.55"/><circle cx="1121.2" cy="823.0" r="2.55"/><circle cx="1130.3" cy="822.7" r="2.55"/><circle cx="1084.6" cy="826.1" r="2.55"/><circle cx="1106.5" cy="826.1" r="2.55"/><circle cx="1060.1" cy="827.4" r="2.55"/><circle cx="1045.5" cy="828.3" r="2.55"/><circle cx="1066.8" cy="830.1" r="2.55"/><circle cx="1050.1" cy="830.5" r="2.55"/><circle cx="1110.6" cy="831.1" r="2.55"/><circle cx="1073.5" cy="832.4" r="2.55"/><circle cx="1090.2" cy="832.1" r="2.55"/><circle cx="1143.2" cy="832.8" r="2.55"/><circle cx="1051.4" cy="834.3" r="2.55"/><circle cx="1070.2" cy="834.9" r="2.55"/><circle cx="1093.3" cy="835.8" r="2.55"/><circle cx="1037.0" cy="836.1" r="2.55"/><circle cx="1117.4" cy="836.1" r="2.55"/><circle cx="1165.3" cy="836.4" r="2.55"/><circle cx="1041.0" cy="837.0" r="2.55"/><circle cx="1056.4" cy="838.3" r="2.55"/><circle cx="1046.4" cy="838.6" r="2.55"/><circle cx="1082.7" cy="838.6" r="2.55"/><circle cx="1046.4" cy="841.2" r="2.55"/><circle cx="1030.7" cy="841.8" r="2.55"/><circle cx="1099.6" cy="841.5" r="2.55"/><circle cx="1137.4" cy="841.8" r="2.55"/><circle cx="1150.9" cy="842.2" r="2.55"/><circle cx="1162.8" cy="842.4" r="2.55"/><circle cx="1169.1" cy="843.4" r="2.55"/><circle cx="1025.7" cy="843.7" r="2.55"/><circle cx="1036.1" cy="844.0" r="2.55"/><circle cx="1077.7" cy="844.3" r="2.55"/><circle cx="1105.8" cy="844.0" r="2.55"/><circle cx="1054.2" cy="844.7" r="2.55"/><circle cx="1041.3" cy="846.2" r="2.55"/><circle cx="1057.0" cy="847.4" r="2.55"/><circle cx="1160.3" cy="847.4" r="2.55"/><circle cx="1024.2" cy="849.7" r="2.55"/><circle cx="1131.5" cy="849.3" r="2.55"/><circle cx="1095.8" cy="849.9" r="2.55"/><circle cx="1058.9" cy="850.9" r="2.55"/><circle cx="1055.7" cy="852.8" r="2.55"/><circle cx="1100.2" cy="851.8" r="2.55"/><circle cx="1104.6" cy="852.8" r="2.55"/><circle cx="1062.6" cy="853.0" r="2.55"/><circle cx="1065.8" cy="851.8" r="2.55"/><circle cx="1111.5" cy="855.3" r="2.55"/><circle cx="1069.3" cy="855.3" r="2.55"/><circle cx="1014.7" cy="855.6" r="2.55"/><circle cx="1027.6" cy="857.4" r="2.55"/><circle cx="1087.4" cy="857.2" r="2.55"/><circle cx="1116.9" cy="857.4" r="2.55"/><circle cx="1081.0" cy="861.6" r="2.55"/><circle cx="1071.2" cy="861.6" r="2.55"/><circle cx="1071.4" cy="865.6" r="2.55"/><circle cx="1109.3" cy="867.1" r="2.55"/><circle cx="1152.4" cy="868.3" r="2.55"/><circle cx="1108.3" cy="871.0" r="2.55"/><circle cx="1031.3" cy="872.5" r="2.55"/><circle cx="1130.9" cy="872.5" r="2.55"/><circle cx="1015.9" cy="874.3" r="2.55"/><circle cx="1018.8" cy="876.0" r="2.55"/><circle cx="1101.5" cy="874.7" r="2.55"/><circle cx="1077.3" cy="875.6" r="2.55"/><circle cx="1119.4" cy="878.7" r="2.55"/><circle cx="1079.3" cy="881.6" r="2.55"/><circle cx="1129.6" cy="881.6" r="2.55"/><circle cx="1021.9" cy="883.1" r="2.55"/><circle cx="1121.5" cy="883.5" r="2.55"/><circle cx="1027.6" cy="890.0" r="2.55"/><circle cx="1037.0" cy="889.4" r="2.55"/><circle cx="1043.9" cy="889.7" r="2.55"/><circle cx="1151.6" cy="889.7" r="2.55"/><circle cx="1130.3" cy="890.4" r="2.55"/><circle cx="1049.5" cy="891.9" r="2.55"/><circle cx="1026.7" cy="892.5" r="2.55"/><circle cx="1040.7" cy="892.5" r="2.55"/><circle cx="1082.3" cy="892.9" r="2.55"/><circle cx="1165.3" cy="892.9" r="2.55"/><circle cx="1075.5" cy="895.6" r="2.55"/><circle cx="1109.3" cy="895.6" r="2.55"/><circle cx="1033.8" cy="895.6" r="2.55"/><circle cx="1057.6" cy="896.3" r="2.55"/><circle cx="1178.5" cy="852.7" r="2.55"/><circle cx="1196.1" cy="848.4" r="2.55"/><circle cx="1186.2" cy="863.3" r="2.55"/><circle cx="1199.9" cy="871.2" r="2.55"/><circle cx="1185.8" cy="894.4" r="2.55"/><circle cx="1231.5" cy="894.4" r="2.55"/><circle cx="1261.6" cy="895.3" r="2.55"/><circle cx="1040.1" cy="896.3" r="2.55"/><circle cx="1134.0" cy="897.5" r="2.55"/><circle cx="1054.5" cy="898.5" r="2.55"/><circle cx="1040.7" cy="901.0" r="2.55"/><circle cx="1143.4" cy="900.3" r="2.55"/><circle cx="1083.0" cy="901.5" r="2.55"/><circle cx="1087.7" cy="902.1" r="2.55"/><circle cx="1046.7" cy="903.8" r="2.55"/><circle cx="1035.7" cy="904.4" r="2.55"/><circle cx="1119.9" cy="905.6" r="2.55"/><circle cx="1027.6" cy="906.9" r="2.55"/><circle cx="1041.3" cy="908.8" r="2.55"/><circle cx="1053.5" cy="910.4" r="2.55"/><circle cx="1093.1" cy="910.7" r="2.55"/><circle cx="1129.6" cy="911.9" r="2.55"/><circle cx="1160.3" cy="913.8" r="2.55"/><circle cx="1037.6" cy="913.8" r="2.55"/><circle cx="1026.9" cy="915.7" r="2.55"/><circle cx="1134.4" cy="918.5" r="2.55"/><circle cx="1051.4" cy="920.4" r="2.55"/><circle cx="1105.8" cy="921.0" r="2.55"/><circle cx="1029.2" cy="923.6" r="2.55"/><circle cx="1044.5" cy="923.6" r="2.55"/><circle cx="1108.1" cy="923.8" r="2.55"/><circle cx="1116.1" cy="923.6" r="2.55"/><circle cx="1101.5" cy="925.4" r="2.55"/><circle cx="1039.2" cy="926.7" r="2.55"/><circle cx="1130.3" cy="927.3" r="2.55"/><circle cx="1142.4" cy="927.3" r="2.55"/><circle cx="1024.8" cy="928.2" r="2.55"/><circle cx="1033.2" cy="928.6" r="2.55"/><circle cx="1036.3" cy="931.1" r="2.55"/><circle cx="1155.3" cy="931.1" r="2.55"/><circle cx="1150.9" cy="932.3" r="2.55"/><circle cx="1029.4" cy="931.9" r="2.55"/><circle cx="1041.1" cy="933.6" r="2.55"/><circle cx="1030.1" cy="936.1" r="2.55"/><circle cx="1083.3" cy="936.1" r="2.55"/><circle cx="1155.7" cy="935.5" r="2.55"/><circle cx="1048.0" cy="938.0" r="2.55"/><circle cx="1106.2" cy="938.2" r="2.55"/><circle cx="1092.9" cy="939.5" r="2.55"/><circle cx="1116.9" cy="939.8" r="2.55"/><circle cx="1071.4" cy="943.2" r="2.55"/><circle cx="1078.3" cy="944.2" r="2.55"/><circle cx="1104.3" cy="943.8" r="2.55"/><circle cx="1124.4" cy="944.2" r="2.55"/><circle cx="1033.2" cy="944.5" r="2.55"/><circle cx="1090.2" cy="944.5" r="2.55"/><circle cx="1043.9" cy="945.5" r="2.55"/><circle cx="1087.7" cy="945.5" r="2.55"/><circle cx="1037.3" cy="946.3" r="2.55"/><circle cx="1116.9" cy="945.7" r="2.55"/><circle cx="1101.8" cy="947.0" r="2.55"/><circle cx="1136.5" cy="948.0" r="2.55"/><circle cx="1121.1" cy="950.5" r="2.55"/><circle cx="1152.8" cy="950.1" r="2.55"/><circle cx="1128.4" cy="952.0" r="2.55"/><circle cx="1159.4" cy="952.9" r="2.55"/><circle cx="1119.9" cy="954.9" r="2.55"/><circle cx="1167.8" cy="955.1" r="2.55"/><circle cx="1016.7" cy="955.5" r="2.55"/><circle cx="1020.7" cy="955.5" r="2.55"/><circle cx="1024.4" cy="956.1" r="2.55"/><circle cx="1130.6" cy="960.1" r="2.55"/><circle cx="1023.6" cy="960.5" r="2.55"/><circle cx="1145.7" cy="961.8" r="2.55"/><circle cx="1026.9" cy="963.3" r="2.55"/><circle cx="1038.2" cy="964.3" r="2.55"/><circle cx="1132.1" cy="963.3" r="2.55"/><circle cx="1160.3" cy="964.3" r="2.55"/><circle cx="1143.4" cy="963.9" r="2.55"/><circle cx="1030.1" cy="965.8" r="2.55"/><circle cx="1033.8" cy="967.6" r="2.55"/><circle cx="1044.7" cy="968.0" r="2.55"/><circle cx="1151.6" cy="968.0" r="2.55"/><circle cx="1062.3" cy="970.5" r="2.55"/><circle cx="1147.8" cy="971.4" r="2.55"/><circle cx="1166.6" cy="971.8" r="2.55"/><circle cx="1068.5" cy="973.3" r="2.55"/><circle cx="1027.2" cy="974.5" r="2.55"/><circle cx="1130.6" cy="974.9" r="2.55"/><circle cx="1076.8" cy="976.7" r="2.55"/><circle cx="1128.4" cy="977.7" r="2.55"/><circle cx="1143.7" cy="980.2" r="2.55"/><circle cx="1156.9" cy="980.8" r="2.55"/><circle cx="1170.3" cy="980.2" r="2.55"/><circle cx="1030.1" cy="981.8" r="2.55"/><circle cx="1089.8" cy="982.3" r="2.55"/><circle cx="1161.6" cy="983.9" r="2.55"/><circle cx="1017.6" cy="984.3" r="2.55"/><circle cx="1140.9" cy="984.8" r="2.55"/><circle cx="1039.8" cy="986.2" r="2.55"/><circle cx="1033.8" cy="987.7" r="2.55"/><circle cx="1025.9" cy="989.2" r="2.55"/><circle cx="1021.9" cy="989.8" r="2.55"/><circle cx="1010.7" cy="990.2" r="2.55"/><circle cx="1013.8" cy="991.4" r="2.55"/><circle cx="1016.9" cy="992.7" r="2.55"/><circle cx="1158.2" cy="994.6" r="2.55"/><circle cx="1215.2" cy="899.4" r="2.55"/><circle cx="1226.1" cy="899.1" r="2.55"/><circle cx="1201.8" cy="905.0" r="2.55"/><circle cx="1183.9" cy="913.8" r="2.55"/><circle cx="1229.6" cy="922.9" r="2.55"/><circle cx="1251.8" cy="925.9" r="2.55"/><circle cx="1282.0" cy="931.1" r="2.55"/><circle cx="1191.2" cy="931.9" r="2.55"/><circle cx="1185.8" cy="932.6" r="2.55"/><circle cx="1209.6" cy="936.3" r="2.55"/><circle cx="1326.3" cy="939.7" r="2.55"/><circle cx="1234.9" cy="942.2" r="2.55"/><circle cx="1197.4" cy="952.2" r="2.55"/><circle cx="1271.6" cy="952.4" r="2.55"/><circle cx="1216.5" cy="961.4" r="2.55"/><circle cx="1177.4" cy="962.0" r="2.55"/><circle cx="1188.3" cy="961.8" r="2.55"/><circle cx="1185.2" cy="968.9" r="2.55"/><circle cx="1179.5" cy="970.5" r="2.55"/><circle cx="1208.1" cy="973.0" r="2.55"/><circle cx="1217.7" cy="972.3" r="2.55"/><circle cx="1242.5" cy="972.6" r="2.55"/><circle cx="1172.6" cy="981.4" r="2.55"/><circle cx="1229.6" cy="982.7" r="2.55"/><circle cx="1193.3" cy="983.3" r="2.55"/><circle cx="1251.9" cy="984.5" r="2.55"/><circle cx="1280.6" cy="985.2" r="2.55"/><circle cx="1223.7" cy="987.3" r="2.55"/><circle cx="1282.2" cy="988.7" r="2.55"/><circle cx="1235.9" cy="990.4" r="2.55"/><circle cx="1314.2" cy="990.4" r="2.55"/><circle cx="1186.7" cy="992.3" r="2.55"/><circle cx="1280.3" cy="991.8" r="2.55"/><circle cx="1259.0" cy="992.1" r="2.55"/><circle cx="1255.3" cy="993.1" r="2.55"/><circle cx="1251.5" cy="993.6" r="2.55"/><circle cx="1289.7" cy="995.6" r="2.55"/><circle cx="1309.1" cy="999.3" r="2.55"/><circle cx="1326.3" cy="998.9" r="2.55"/><circle cx="1277.2" cy="997.7" r="2.55"/><circle cx="1183.3" cy="1001.1" r="2.55"/><circle cx="1334.8" cy="1000.8" r="2.55"/><circle cx="1030.4" cy="891.1" r="2.55"/><circle cx="1036.5" cy="898.5" r="2.55"/><circle cx="1032.1" cy="903.2" r="2.55"/><circle cx="1018.8" cy="936.9" r="2.55"/><circle cx="1023.8" cy="936.7" r="2.55"/><circle cx="1081.3" cy="936.4" r="2.55"/><circle cx="1084.9" cy="936.4" r="2.55"/>
</g>
<g class="md"><circle cx="1021.3" cy="933.2" r="3.8"/><circle cx="1032.8" cy="911.9" r="3.8"/><circle cx="1044.1" cy="879.7" r="3.8"/><circle cx="1064.9" cy="862.7" r="3.8"/><circle cx="1092.7" cy="896.4" r="3.8"/><circle cx="1119.6" cy="890.0" r="3.8"/><circle cx="1143.0" cy="915.0" r="3.8"/><circle cx="1173.3" cy="928.0" r="3.8"/><circle cx="1243.8" cy="956.4" r="3.8"/></g>
<path class="rg" clip-path="url(#cqk)" d="M1000.8 1037.0 1001.2 1034.5 1001.6 1032.0 1002.0 1029.5 1002.4 1027.0 1002.8 1024.5 1003.3 1022.1 1003.7 1019.6 1004.1 1017.1 1004.6 1014.6 1005.0 1012.1 1005.5 1009.6 1005.9 1007.2 1006.4 1004.7 1006.8 1002.2 1007.3 999.7 1007.7 997.2 1008.2 994.8 1008.7 992.3 1009.1 989.8 1009.6 987.3 1010.1 984.8 1010.6 982.4 1011.1 979.9 1011.5 977.4 1012.1 974.9 1012.6 972.5 1013.1 970.0 1013.6 967.5 1014.1 965.1 1014.7 962.6 1015.2 960.1 1015.8 957.7 1016.4 955.2 1017.0 952.8 1017.5 950.3 1018.1 947.9 1018.7 945.4 1019.3 943.0 1019.9 940.5 1020.5 938.0 1021.1 935.6 1021.8 933.2 1022.4 930.7 1023.1 928.3 1023.8 925.9 1024.5 923.4 1025.2 921.0 1025.9 918.6 1026.7 916.2 1027.6 913.8 1028.5 911.5 1029.4 909.1 1030.3 906.8 1031.1 904.4 1032.0 902.0 1032.9 899.7 1033.9 897.3 1034.9 895.1 1036.1 892.8 1037.3 890.6 1038.6 888.4 1040.0 886.3 1041.5 884.3 1043.1 882.3 1044.8 880.3 1046.6 878.4 1048.5 876.8 1050.4 875.4 1052.6 874.1 1054.9 872.8 1057.3 871.9 1059.7 871.5 1062.2 871.2 1064.8 871.0 1067.3 871.0 1069.8 871.4 1072.2 872.1 1074.6 872.9 1077.0 873.7 1079.4 874.6 1081.7 875.7 1083.9 876.8 1086.2 877.9 1088.5 879.1 1090.7 880.3 1092.9 881.5 1095.1 882.7 1097.3 884.0 1099.5 885.2 1101.7 886.4 1103.9 887.6 1106.1 888.8 1108.3 890.1 1110.5 891.3 1112.7 892.5 1114.9 893.8 1117.1 895.0 1119.3 896.3 1121.4 897.7 1123.5 899.0 1125.6 900.5 1127.7 901.9 1129.8 903.3 1131.9 904.7 1134.0 906.1 1136.1 907.5 1138.2 908.9 1140.3 910.2 1142.5 911.6 1144.6 912.9 1146.8 914.1 1149.0 915.4 1151.2 916.6 1153.5 917.8 1155.7 918.9 1157.9 920.1 1160.2 921.2 1162.5 922.3 1164.8 923.4 1167.0 924.5 1169.3 925.6 1171.5 926.8 1173.8 927.9 1176.0 929.1 1178.3 930.2 1180.5 931.4 1182.8 932.5 1185.0 933.7 1187.3 934.8 1189.6 935.9 1191.8 936.9 1194.1 938.0 1196.4 939.0 1198.7 940.0 1201.1 941.0 1203.4 942.0 1205.7 943.0 1208.0 944.0 1210.4 944.9 1212.7 945.9 1215.1 946.8 1217.4 947.7 1219.8 948.6 1222.1 949.5 1224.5 950.4 1226.9 951.2 1229.3 952.1 1231.6 952.9 1234.0 953.7 1236.4 954.5 1238.8 955.3 1241.2 956.1 1243.6 956.9 1246.0 957.6 1248.4 958.4 1250.8 959.1 1253.3 959.8 1255.7 960.6 1258.1 961.3 1260.5 962.0 1262.9 962.7 1265.4 963.4 1267.8 964.1 1270.2 964.8 1272.6 965.5 1275.1 966.2 1277.5 966.9 1279.9 967.5 1282.4 968.2 1284.8 968.9 1287.2 969.5 1289.7 970.2 1292.1 970.8 1294.6 971.4 1297.0 972.0 1299.5 972.5 1301.9 973.1 1304.4 973.6 1306.9 974.2 1309.3 974.7 1311.8 975.2 1314.3 975.7 1316.7 976.3 1319.2 976.8 1321.7 977.3 1324.1 977.9 1326.6 978.4 1329.1 978.9 1331.5 979.4 1334.0 980.0 1336.5 980.5 1339.0 981.0 1341.4 981.5 1343.9 982.0"/>
<text class="tk" x="996.5" y="1050.6" text-anchor="middle">0</text>
<text class="tk" x="1083.4" y="1050.6" text-anchor="middle">1</text>
<text class="tk" x="1170.2" y="1050.6" text-anchor="middle">2</text>
<text class="tk" x="1257.1" y="1050.6" text-anchor="middle">3</text>
<text class="tk" x="1344.0" y="1050.6" text-anchor="middle">4</text>
<text class="tk" x="989.5" y="1033.9" text-anchor="end">0.08</text>
<text class="tk" x="989.5" y="902.1" text-anchor="end">0.34</text>
<text class="tk" x="989.5" y="770.2" text-anchor="end">0.6</text>
<text class="lb" x="1159.1" y="1073.6">T<tspan class="sb" dx="-0.6" dy="9.3">p-s</tspan></text>
<text class="lb" transform="translate(942.7 903.8) rotate(-90)">u<tspan class="sb" dx="0" dy="9.3">d</tspan></text>
<text class="tt" x="1013.9" y="807.9">(k) <tspan class="it">V</tspan><tspan class="it sm" dx="0.5" dy="9.8">p</tspan><tspan dx="0.2" dy="-9.8"> = 1.25</tspan><tspan class="it">m/s</tspan></text>
<text class="tt" x="1214.1" y="1007.5"><tspan class="it">R</tspan><tspan class="it sm" dx="0.3" dy="-10.3">2</tspan><tspan dx="0.4" dy="10.3"> = 0.93</tspan></text>
<rect x="1174.5" y="773.5" width="161" height="61" fill="#fff" stroke="#404040" stroke-width="1"/>
<circle cx="1194.3" cy="784.9" r="3.8" fill="#0ff"/>
<circle cx="1194.3" cy="804.3" r="3.4" fill="#edb120" stroke="#000" stroke-width="1"/>
<path d="M1177.6 823.6h33.4" stroke="#000" stroke-width="2.3" stroke-dasharray="7.2 5.8" fill="none"/>
<text class="lg" x="1213.0" y="790.5">Original data</text>
<text class="lg" x="1213.0" y="810.1">Mean data</text>
<text class="lg" x="1213.0" y="829.5">Regression model</text>
</g>
<g id="panel-l">
<clipPath id="cpl"><rect x="1455.9" y="761.7" width="353.5" height="269.7"/></clipPath>
<clipPath id="cql"><rect x="1457.4" y="763.2" width="350.5" height="265.8"/></clipPath>
<path class="gr" d="M1545.5 1028.4V764.7M1632.5 1028.4V764.7M1719.5 1028.4V764.7M1458.9 896.5H1806.4"/>
<path class="ax" d="M1458.9 764.7H1806.4V1028.4H1458.9ZM1545.5 1028.4v-4.2M1545.5 764.7v4.2M1632.5 1028.4v-4.2M1632.5 764.7v4.2M1719.5 1028.4v-4.2M1719.5 764.7v4.2M1458.9 896.5h4.2M1806.4 896.5h-4.2"/>
<g class="od" clip-path="url(#cpl)">
<circle cx="1590.1" cy="767.9" r="2.55"/><circle cx="1605.4" cy="781.7" r="2.55"/><circle cx="1620.4" cy="791.7" r="2.55"/><circle cx="1598.9" cy="793.8" r="2.55"/><circle cx="1568.8" cy="795.4" r="2.55"/><circle cx="1593.3" cy="797.3" r="2.55"/><circle cx="1553.2" cy="799.2" r="2.55"/><circle cx="1522.8" cy="805.5" r="2.55"/><circle cx="1476.5" cy="806.3" r="2.55"/><circle cx="1536.3" cy="806.3" r="2.55"/><circle cx="1507.7" cy="806.5" r="2.55"/><circle cx="1555.7" cy="808.0" r="2.55"/><circle cx="1606.2" cy="807.1" r="2.55"/><circle cx="1512.2" cy="809.2" r="2.55"/><circle cx="1573.2" cy="810.8" r="2.55"/><circle cx="1628.3" cy="810.2" r="2.55"/><circle cx="1533.5" cy="812.0" r="2.55"/><circle cx="1562.3" cy="813.0" r="2.55"/><circle cx="1545.4" cy="814.9" r="2.55"/><circle cx="1487.4" cy="818.6" r="2.55"/><circle cx="1493.1" cy="819.9" r="2.55"/><circle cx="1500.0" cy="818.0" r="2.55"/><circle cx="1504.0" cy="818.6" r="2.55"/><circle cx="1568.8" cy="818.6" r="2.55"/><circle cx="1508.5" cy="821.7" r="2.55"/><circle cx="1498.7" cy="822.0" r="2.55"/><circle cx="1594.3" cy="821.5" r="2.55"/><circle cx="1600.2" cy="822.4" r="2.55"/><circle cx="1613.7" cy="822.4" r="2.55"/><circle cx="1625.8" cy="821.1" r="2.55"/><circle cx="1622.7" cy="822.7" r="2.55"/><circle cx="1632.1" cy="823.0" r="2.55"/><circle cx="1489.7" cy="824.2" r="2.55"/><circle cx="1540.7" cy="823.0" r="2.55"/><circle cx="1519.4" cy="823.0" r="2.55"/><circle cx="1516.9" cy="826.1" r="2.55"/><circle cx="1567.3" cy="825.5" r="2.55"/><circle cx="1559.2" cy="827.8" r="2.55"/><circle cx="1562.3" cy="828.3" r="2.55"/><circle cx="1504.0" cy="828.6" r="2.55"/><circle cx="1522.5" cy="828.6" r="2.55"/><circle cx="1525.6" cy="830.8" r="2.55"/><circle cx="1574.5" cy="829.9" r="2.55"/><circle cx="1530.0" cy="831.8" r="2.55"/><circle cx="1487.2" cy="833.6" r="2.55"/><circle cx="1490.6" cy="833.6" r="2.55"/><circle cx="1579.5" cy="833.6" r="2.55"/><circle cx="1533.2" cy="835.5" r="2.55"/><circle cx="1525.6" cy="833.6" r="2.55"/><circle cx="1550.3" cy="837.4" r="2.55"/><circle cx="1543.5" cy="840.5" r="2.55"/><circle cx="1571.6" cy="843.3" r="2.55"/><circle cx="1615.2" cy="843.7" r="2.55"/><circle cx="1478.7" cy="845.8" r="2.55"/><circle cx="1533.5" cy="846.5" r="2.55"/><circle cx="1540.3" cy="847.8" r="2.55"/><circle cx="1494.3" cy="851.2" r="2.55"/><circle cx="1593.3" cy="850.9" r="2.55"/><circle cx="1582.6" cy="853.7" r="2.55"/><circle cx="1592.4" cy="856.6" r="2.55"/><circle cx="1564.2" cy="857.4" r="2.55"/><circle cx="1541.5" cy="859.6" r="2.55"/><circle cx="1583.6" cy="859.1" r="2.55"/><circle cx="1481.2" cy="860.8" r="2.55"/><circle cx="1484.3" cy="867.4" r="2.55"/><circle cx="1592.9" cy="867.8" r="2.55"/><circle cx="1545.0" cy="871.6" r="2.55"/><circle cx="1550.1" cy="872.1" r="2.55"/><circle cx="1596.6" cy="871.8" r="2.55"/><circle cx="1614.3" cy="871.2" r="2.55"/><circle cx="1489.3" cy="874.1" r="2.55"/><circle cx="1493.1" cy="875.0" r="2.55"/><circle cx="1496.8" cy="876.0" r="2.55"/><circle cx="1571.6" cy="873.7" r="2.55"/><circle cx="1508.1" cy="876.0" r="2.55"/><circle cx="1504.0" cy="876.8" r="2.55"/><circle cx="1511.2" cy="878.3" r="2.55"/><circle cx="1537.9" cy="877.8" r="2.55"/><circle cx="1605.8" cy="877.8" r="2.55"/><circle cx="1613.7" cy="876.8" r="2.55"/><circle cx="1628.3" cy="878.5" r="2.55"/><circle cx="1502.5" cy="881.6" r="2.55"/><circle cx="1520.3" cy="881.9" r="2.55"/><circle cx="1545.3" cy="882.9" r="2.55"/><circle cx="1517.2" cy="885.0" r="2.55"/><circle cx="1582.6" cy="885.4" r="2.55"/><circle cx="1503.1" cy="887.5" r="2.55"/><circle cx="1496.8" cy="889.4" r="2.55"/><circle cx="1509.4" cy="891.2" r="2.55"/><circle cx="1515.6" cy="891.9" r="2.55"/><circle cx="1555.7" cy="892.2" r="2.55"/><circle cx="1489.9" cy="892.5" r="2.55"/><circle cx="1622.9" cy="893.1" r="2.55"/><circle cx="1503.7" cy="895.6" r="2.55"/><circle cx="1640.9" cy="834.0" r="2.55"/><circle cx="1648.7" cy="842.7" r="2.55"/><circle cx="1662.4" cy="853.3" r="2.55"/><circle cx="1724.2" cy="874.3" r="2.55"/><circle cx="1693.9" cy="877.5" r="2.55"/><circle cx="1688.5" cy="879.0" r="2.55"/><circle cx="1648.4" cy="881.5" r="2.55"/><circle cx="1664.4" cy="884.1" r="2.55"/><circle cx="1646.5" cy="886.2" r="2.55"/><circle cx="1677.6" cy="885.6" r="2.55"/><circle cx="1597.0" cy="900.4" r="2.55"/><circle cx="1500.0" cy="902.5" r="2.55"/><circle cx="1491.8" cy="901.3" r="2.55"/><circle cx="1568.2" cy="903.5" r="2.55"/><circle cx="1486.2" cy="906.0" r="2.55"/><circle cx="1578.6" cy="905.6" r="2.55"/><circle cx="1514.4" cy="907.9" r="2.55"/><circle cx="1570.3" cy="908.1" r="2.55"/><circle cx="1604.9" cy="908.1" r="2.55"/><circle cx="1592.6" cy="909.7" r="2.55"/><circle cx="1564.1" cy="911.3" r="2.55"/><circle cx="1506.9" cy="911.7" r="2.55"/><circle cx="1618.1" cy="910.4" r="2.55"/><circle cx="1491.8" cy="912.3" r="2.55"/><circle cx="1579.5" cy="914.7" r="2.55"/><circle cx="1613.6" cy="915.4" r="2.55"/><circle cx="1501.8" cy="916.0" r="2.55"/><circle cx="1487.4" cy="918.2" r="2.55"/><circle cx="1496.0" cy="919.2" r="2.55"/><circle cx="1568.2" cy="920.4" r="2.55"/><circle cx="1492.2" cy="921.3" r="2.55"/><circle cx="1498.7" cy="921.3" r="2.55"/><circle cx="1618.3" cy="920.9" r="2.55"/><circle cx="1544.4" cy="921.3" r="2.55"/><circle cx="1503.7" cy="923.6" r="2.55"/><circle cx="1546.9" cy="924.4" r="2.55"/><circle cx="1488.7" cy="926.1" r="2.55"/><circle cx="1481.8" cy="926.7" r="2.55"/><circle cx="1510.6" cy="927.8" r="2.55"/><circle cx="1533.5" cy="928.2" r="2.55"/><circle cx="1555.7" cy="927.9" r="2.55"/><circle cx="1540.7" cy="929.2" r="2.55"/><circle cx="1587.0" cy="930.4" r="2.55"/><circle cx="1496.0" cy="931.3" r="2.55"/><circle cx="1550.1" cy="931.6" r="2.55"/><circle cx="1553.2" cy="931.3" r="2.55"/><circle cx="1578.9" cy="931.3" r="2.55"/><circle cx="1590.8" cy="932.3" r="2.55"/><circle cx="1567.0" cy="932.8" r="2.55"/><circle cx="1599.1" cy="934.8" r="2.55"/><circle cx="1615.4" cy="934.8" r="2.55"/><circle cx="1564.8" cy="935.5" r="2.55"/><circle cx="1506.9" cy="936.0" r="2.55"/><circle cx="1580.7" cy="936.0" r="2.55"/><circle cx="1500.3" cy="937.2" r="2.55"/><circle cx="1563.2" cy="937.6" r="2.55"/><circle cx="1622.4" cy="938.0" r="2.55"/><circle cx="1583.2" cy="940.7" r="2.55"/><circle cx="1615.4" cy="940.1" r="2.55"/><circle cx="1630.5" cy="941.3" r="2.55"/><circle cx="1478.7" cy="946.3" r="2.55"/><circle cx="1483.1" cy="946.3" r="2.55"/><circle cx="1487.4" cy="946.1" r="2.55"/><circle cx="1501.0" cy="947.0" r="2.55"/><circle cx="1594.5" cy="947.2" r="2.55"/><circle cx="1507.2" cy="948.0" r="2.55"/><circle cx="1592.4" cy="948.6" r="2.55"/><circle cx="1496.5" cy="950.1" r="2.55"/><circle cx="1606.2" cy="951.0" r="2.55"/><circle cx="1484.9" cy="951.0" r="2.55"/><circle cx="1608.9" cy="951.7" r="2.55"/><circle cx="1493.5" cy="952.6" r="2.55"/><circle cx="1488.4" cy="953.2" r="2.55"/><circle cx="1491.6" cy="956.0" r="2.55"/><circle cx="1622.9" cy="956.7" r="2.55"/><circle cx="1496.5" cy="958.5" r="2.55"/><circle cx="1524.8" cy="959.1" r="2.55"/><circle cx="1613.9" cy="959.7" r="2.55"/><circle cx="1609.9" cy="960.4" r="2.55"/><circle cx="1531.0" cy="961.6" r="2.55"/><circle cx="1629.3" cy="962.0" r="2.55"/><circle cx="1502.5" cy="962.6" r="2.55"/><circle cx="1539.7" cy="965.4" r="2.55"/><circle cx="1593.3" cy="969.1" r="2.55"/><circle cx="1552.3" cy="971.4" r="2.55"/><circle cx="1633.3" cy="970.8" r="2.55"/><circle cx="1496.5" cy="972.9" r="2.55"/><circle cx="1606.4" cy="973.5" r="2.55"/><circle cx="1590.8" cy="973.6" r="2.55"/><circle cx="1619.6" cy="972.3" r="2.55"/><circle cx="1479.9" cy="977.0" r="2.55"/><circle cx="1623.7" cy="978.5" r="2.55"/><circle cx="1492.7" cy="979.3" r="2.55"/><circle cx="1482.2" cy="980.2" r="2.55"/><circle cx="1473.0" cy="981.8" r="2.55"/><circle cx="1489.6" cy="981.8" r="2.55"/><circle cx="1603.3" cy="982.0" r="2.55"/><circle cx="1476.2" cy="984.5" r="2.55"/><circle cx="1484.3" cy="984.5" r="2.55"/><circle cx="1488.4" cy="986.4" r="2.55"/><circle cx="1479.7" cy="987.0" r="2.55"/><circle cx="1620.8" cy="990.8" r="2.55"/><circle cx="1692.2" cy="903.8" r="2.55"/><circle cx="1714.5" cy="908.5" r="2.55"/><circle cx="1744.6" cy="915.3" r="2.55"/><circle cx="1648.4" cy="915.7" r="2.55"/><circle cx="1653.4" cy="923.2" r="2.55"/><circle cx="1788.7" cy="925.9" r="2.55"/><circle cx="1672.5" cy="927.2" r="2.55"/><circle cx="1697.5" cy="933.6" r="2.55"/><circle cx="1660.1" cy="938.2" r="2.55"/><circle cx="1734.4" cy="944.2" r="2.55"/><circle cx="1640.0" cy="950.1" r="2.55"/><circle cx="1650.7" cy="949.2" r="2.55"/><circle cx="1679.3" cy="949.2" r="2.55"/><circle cx="1647.8" cy="958.2" r="2.55"/><circle cx="1680.1" cy="960.4" r="2.55"/><circle cx="1642.4" cy="961.4" r="2.55"/><circle cx="1705.4" cy="962.0" r="2.55"/><circle cx="1670.7" cy="964.1" r="2.55"/><circle cx="1635.0" cy="973.9" r="2.55"/><circle cx="1655.9" cy="976.4" r="2.55"/><circle cx="1743.2" cy="976.2" r="2.55"/><circle cx="1692.2" cy="978.3" r="2.55"/><circle cx="1714.5" cy="979.5" r="2.55"/><circle cx="1686.2" cy="980.5" r="2.55"/><circle cx="1776.8" cy="981.8" r="2.55"/><circle cx="1698.3" cy="983.9" r="2.55"/><circle cx="1718.3" cy="983.5" r="2.55"/><circle cx="1742.6" cy="983.9" r="2.55"/><circle cx="1745.5" cy="984.8" r="2.55"/><circle cx="1721.3" cy="986.2" r="2.55"/><circle cx="1714.5" cy="987.4" r="2.55"/><circle cx="1649.4" cy="987.9" r="2.55"/><circle cx="1752.4" cy="989.3" r="2.55"/><circle cx="1738.8" cy="989.9" r="2.55"/><circle cx="1771.8" cy="991.8" r="2.55"/><circle cx="1797.4" cy="994.3" r="2.55"/><circle cx="1788.9" cy="995.4" r="2.55"/><circle cx="1645.7" cy="998.9" r="2.55"/><circle cx="1520.0" cy="816.6" r="2.55"/><circle cx="1513.1" cy="814.1" r="2.55"/><circle cx="1533.5" cy="831.5" r="2.55"/><circle cx="1518.1" cy="824.3" r="2.55"/>
</g>
<g class="md"><circle cx="1484.1" cy="921.9" r="3.8"/><circle cx="1495.4" cy="896.8" r="3.8"/><circle cx="1506.9" cy="862.7" r="3.8"/><circle cx="1527.8" cy="841.2" r="3.8"/><circle cx="1555.4" cy="877.5" r="3.8"/><circle cx="1582.4" cy="868.7" r="3.8"/><circle cx="1605.7" cy="897.7" r="3.8"/><circle cx="1635.8" cy="913.9" r="3.8"/><circle cx="1706.6" cy="945.1" r="3.8"/></g>
<path class="rg" clip-path="url(#cql)" d="M1463.1 1037.0 1463.5 1034.5 1464.0 1032.0 1464.4 1029.6 1464.8 1027.1 1465.2 1024.6 1465.6 1022.1 1466.1 1019.7 1466.5 1017.2 1466.9 1014.7 1467.3 1012.2 1467.7 1009.8 1468.1 1007.3 1468.6 1004.8 1469.0 1002.3 1469.4 999.8 1469.8 997.4 1470.3 994.9 1470.7 992.4 1471.1 989.9 1471.5 987.5 1472.0 985.0 1472.4 982.5 1472.9 980.0 1473.4 977.6 1473.8 975.1 1474.3 972.6 1474.8 970.2 1475.3 967.7 1475.8 965.2 1476.3 962.8 1476.8 960.3 1477.3 957.9 1477.8 955.4 1478.3 952.9 1478.8 950.5 1479.4 948.0 1479.9 945.6 1480.5 943.1 1481.0 940.7 1481.6 938.2 1482.2 935.8 1482.8 933.4 1483.4 930.9 1484.1 928.5 1484.7 926.1 1485.3 923.6 1486.0 921.2 1486.7 918.8 1487.3 916.4 1488.1 913.9 1488.8 911.6 1489.6 909.2 1490.4 906.8 1491.2 904.4 1491.9 902.0 1492.6 899.6 1493.2 897.1 1493.8 894.7 1494.2 892.2 1494.7 889.7 1495.1 887.3 1495.8 884.9 1496.6 882.5 1497.5 880.2 1498.6 877.8 1499.7 875.6 1500.8 873.3 1501.9 871.0 1503.1 868.8 1504.4 866.5 1505.7 864.4 1507.1 862.4 1508.7 860.5 1510.5 858.8 1512.5 857.1 1514.6 855.6 1516.7 854.4 1519.0 853.3 1521.3 852.2 1523.7 851.4 1526.2 850.9 1528.7 851.0 1531.2 851.2 1533.7 851.5 1536.2 851.9 1538.5 852.6 1540.8 853.6 1543.1 854.7 1545.4 856.0 1547.6 857.2 1549.8 858.4 1552.0 859.6 1554.1 861.0 1556.2 862.3 1558.4 863.6 1560.5 865.0 1562.6 866.3 1564.7 867.7 1566.8 869.1 1568.9 870.5 1571.0 871.9 1573.1 873.2 1575.2 874.6 1577.3 876.0 1579.4 877.3 1581.5 878.7 1583.7 880.1 1585.8 881.4 1587.9 882.8 1590.0 884.2 1592.1 885.5 1594.2 886.9 1596.3 888.3 1598.4 889.6 1600.6 890.9 1602.8 892.2 1604.9 893.5 1607.0 894.8 1609.1 896.3 1611.1 897.7 1613.2 899.1 1615.4 900.4 1617.5 901.7 1619.7 903.0 1621.9 904.2 1624.0 905.6 1626.1 906.9 1628.3 908.2 1630.4 909.5 1632.5 910.8 1634.7 912.1 1636.9 913.4 1639.0 914.7 1641.2 916.0 1643.4 917.3 1645.5 918.5 1647.7 919.8 1649.9 921.0 1652.1 922.2 1654.3 923.4 1656.6 924.5 1658.8 925.7 1661.0 926.8 1663.3 927.9 1665.6 929.0 1667.8 930.0 1670.1 931.1 1672.4 932.1 1674.7 933.2 1677.0 934.2 1679.3 935.2 1681.6 936.2 1683.9 937.2 1686.2 938.1 1688.6 939.1 1690.9 940.1 1693.2 941.0 1695.6 941.9 1697.9 942.8 1700.3 943.7 1702.6 944.6 1705.0 945.4 1707.4 946.2 1709.7 947.0 1712.1 947.8 1714.5 948.6 1716.9 949.4 1719.3 950.1 1721.7 950.9 1724.1 951.6 1726.5 952.4 1728.9 953.1 1731.3 953.9 1733.7 954.6 1736.1 955.3 1738.5 956.1 1740.9 956.8 1743.3 957.5 1745.7 958.2 1748.1 958.9 1750.6 959.6 1753.0 960.3 1755.4 961.0 1757.8 961.7 1760.2 962.4 1762.6 963.1 1765.1 963.8 1767.5 964.4 1769.9 965.1 1772.3 965.7 1774.8 966.4 1777.2 967.0 1779.6 967.7 1782.0 968.3 1784.5 969.0 1786.9 969.6 1789.3 970.2 1791.8 970.8 1794.2 971.5 1796.6 972.1 1799.1 972.7 1801.5 973.3 1804.0 973.9 1806.4 974.5"/>
<text class="tk" x="1458.7" y="1050.6" text-anchor="middle">0</text>
<text class="tk" x="1545.6" y="1050.6" text-anchor="middle">1</text>
<text class="tk" x="1632.5" y="1050.6" text-anchor="middle">2</text>
<text class="tk" x="1719.3" y="1050.6" text-anchor="middle">3</text>
<text class="tk" x="1806.2" y="1050.6" text-anchor="middle">4</text>
<text class="tk" x="1451.9" y="1033.9" text-anchor="end">0.08</text>
<text class="tk" x="1451.9" y="902.1" text-anchor="end">0.34</text>
<text class="tk" x="1451.9" y="770.2" text-anchor="end">0.6</text>
<text class="lb" x="1621.5" y="1073.6">T<tspan class="sb" dx="-0.6" dy="9.3">p-s</tspan></text>
<text class="lb" transform="translate(1405.1 903.8) rotate(-90)">u<tspan class="sb" dx="0" dy="9.3">d</tspan></text>
<text class="tt" x="1476.5" y="807.3">(l) <tspan class="it">V</tspan><tspan class="it sm" dx="0.5" dy="9.8">p</tspan><tspan dx="0.2" dy="-9.8"> = 1.35</tspan><tspan class="it">m/s</tspan></text>
<text class="tt" x="1676.3" y="1007.5"><tspan class="it">R</tspan><tspan class="it sm" dx="0.3" dy="-10.3">2</tspan><tspan dx="0.4" dy="10.3"> = 0.93</tspan></text>
<rect x="1636.5" y="773.5" width="161" height="61" fill="#fff" stroke="#404040" stroke-width="1"/>
<circle cx="1656.3" cy="784.9" r="3.8" fill="#0ff"/>
<circle cx="1656.3" cy="804.3" r="3.4" fill="#edb120" stroke="#000" stroke-width="1"/>
<path d="M1639.6 823.6h33.4" stroke="#000" stroke-width="2.3" stroke-dasharray="7.2 5.8" fill="none"/>
<text class="lg" x="1675.0" y="790.5">Original data</text>
<text class="lg" x="1675.0" y="810.1">Mean data</text>
<text class="lg" x="1675.0" y="829.5">Regression model</text>
</g>
</svg></body></html>
